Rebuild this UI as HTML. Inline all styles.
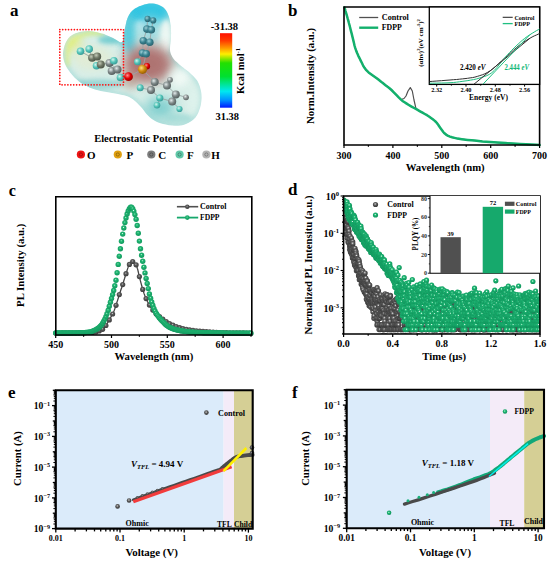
<!DOCTYPE html><html><head><meta charset="utf-8"><style>html,body{margin:0;padding:0;background:#fff;width:550px;height:564px;overflow:hidden}svg{display:block}text{font-family:"Liberation Serif",serif}</style></head><body><svg width="550" height="564" viewBox="0 0 550 564" font-family="Liberation Serif"><defs>
<radialGradient id="gC" cx="0.38" cy="0.35" r="0.65"><stop offset="0" stop-color="#e4ecec"/><stop offset="0.55" stop-color="#7e8888"/><stop offset="1" stop-color="#566060"/></radialGradient>
<radialGradient id="gCt" cx="0.38" cy="0.35" r="0.65"><stop offset="0" stop-color="#9ccfd6"/><stop offset="0.55" stop-color="#3a8492"/><stop offset="1" stop-color="#2a6470"/></radialGradient>
<radialGradient id="gCo" cx="0.38" cy="0.35" r="0.65"><stop offset="0" stop-color="#c4cbb8"/><stop offset="0.55" stop-color="#6f7866"/><stop offset="1" stop-color="#4e5648"/></radialGradient>
<radialGradient id="gF" cx="0.38" cy="0.35" r="0.65"><stop offset="0" stop-color="#d4f6ee"/><stop offset="0.55" stop-color="#52c4b8"/><stop offset="1" stop-color="#3a9c98"/></radialGradient>
<radialGradient id="gH" cx="0.38" cy="0.35" r="0.65"><stop offset="0" stop-color="#e4f0f0"/><stop offset="0.55" stop-color="#8fb0b0"/><stop offset="1" stop-color="#6a8a8a"/></radialGradient>
<radialGradient id="gO" cx="0.38" cy="0.35" r="0.65"><stop offset="0" stop-color="#ff9090"/><stop offset="0.55" stop-color="#e00000"/><stop offset="1" stop-color="#a00000"/></radialGradient>
<radialGradient id="gP" cx="0.38" cy="0.35" r="0.65"><stop offset="0" stop-color="#ffe080"/><stop offset="0.55" stop-color="#d08a10"/><stop offset="1" stop-color="#9a6000"/></radialGradient>
<radialGradient id="gHg" cx="0.38" cy="0.35" r="0.65"><stop offset="0" stop-color="#e8eeee"/><stop offset="0.55" stop-color="#8a9090"/><stop offset="1" stop-color="#606868"/></radialGradient>
<radialGradient id="dG" cx="0.45" cy="0.42" r="0.6"><stop offset="0" stop-color="#ffffff"/><stop offset="0.16" stop-color="#80e0b0"/><stop offset="0.36" stop-color="#1cb472"/><stop offset="1" stop-color="#0e9058"/></radialGradient>
<radialGradient id="dK" cx="0.45" cy="0.4" r="0.62"><stop offset="0" stop-color="#f4f4f4"/><stop offset="0.18" stop-color="#9a9a9a"/><stop offset="0.45" stop-color="#595959"/><stop offset="1" stop-color="#333333"/></radialGradient>
<radialGradient id="dG2" cx="0.45" cy="0.4" r="0.6"><stop offset="0" stop-color="#e4fff0"/><stop offset="0.14" stop-color="#50cc92"/><stop offset="0.35" stop-color="#1db26f"/><stop offset="1" stop-color="#13985e"/></radialGradient>
<radialGradient id="dK2" cx="0.45" cy="0.4" r="0.6"><stop offset="0" stop-color="#e0e0e0"/><stop offset="0.14" stop-color="#8a8a8a"/><stop offset="0.35" stop-color="#5a5a5a"/><stop offset="1" stop-color="#3c3c3c"/></radialGradient>
<linearGradient id="cbar" x1="0" y1="0" x2="0" y2="1"><stop offset="0" stop-color="#ff1000"/><stop offset="0.1" stop-color="#ff3a00"/><stop offset="0.2" stop-color="#ff9a00"/><stop offset="0.28" stop-color="#ffee00"/><stop offset="0.4" stop-color="#22e000"/><stop offset="0.58" stop-color="#00e030"/><stop offset="0.78" stop-color="#00e8f0"/><stop offset="0.9" stop-color="#0090ff"/><stop offset="1" stop-color="#0018ff"/></linearGradient>
<filter id="bl4" x="-50%" y="-50%" width="200%" height="200%"><feGaussianBlur stdDeviation="4"/></filter>
<filter id="bl6" x="-50%" y="-50%" width="200%" height="200%"><feGaussianBlur stdDeviation="6"/></filter>
<filter id="bl2" x="-50%" y="-50%" width="200%" height="200%"><feGaussianBlur stdDeviation="2"/></filter>
<filter id="bl1" x="-50%" y="-50%" width="200%" height="200%"><feGaussianBlur stdDeviation="0.7"/></filter>
<symbol id="sg" overflow="visible"><circle r="2.6" fill="url(#dG)"/></symbol>
<symbol id="sk" overflow="visible"><circle r="2.6" fill="url(#dK)"/></symbol>
<symbol id="sg2" overflow="visible"><circle r="2.7" fill="url(#dG2)"/></symbol>
<symbol id="sg3" overflow="visible"><circle r="2.25" fill="url(#dG)"/></symbol>
<symbol id="sk3" overflow="visible"><circle r="2.3" fill="url(#dK)"/></symbol>
<symbol id="sk2" overflow="visible"><circle r="2.6" fill="url(#dK2)"/></symbol>
<clipPath id="blobclip"><path d="M149 3.6 L151.1 3.5 L153 3.6 L154.9 3.8 L156.7 4.3 L158.4 4.8 L160 5.5 L161.4 6.3 L162.8 7.1 L164 8.1 L165.1 9.3 L166.1 10.5 L167 12 L167.8 13.7 L168.5 15.5 L169.2 17.5 L169.7 19.6 L170.1 21.8 L170.5 24 L170.8 26.2 L170.9 28.6 L171 31 L171.1 33.4 L171 35.8 L171 38 L170.9 40.2 L170.6 42.3 L170.3 44.4 L170.1 46.4 L170 48.3 L170 50 L170.2 51.6 L170.6 53 L171 54.3 L171.6 55.6 L172.2 56.8 L173 58 L173.9 59.2 L174.9 60.4 L176.1 61.5 L177.3 62.6 L178.6 63.8 L180 65 L181.5 66.3 L183.2 67.6 L184.9 68.9 L186.7 70.2 L188.4 71.6 L190 73 L191.5 74.4 L193 75.8 L194.4 77.2 L195.7 78.7 L197 80.3 L198 82 L198.9 83.9 L199.7 86 L200.3 88.2 L200.9 90.5 L201.3 92.8 L201.5 95 L201.6 97.2 L201.5 99.4 L201.3 101.6 L201 103.8 L200.6 105.9 L200 108 L199.3 110 L198.6 112 L197.7 113.9 L196.7 115.7 L195.5 117.5 L194 119 L192.3 120.4 L190.4 121.8 L188.2 123 L186 124.1 L183.5 124.9 L181 125.5 L178.2 125.8 L175.2 125.8 L172 125.6 L168.8 125.2 L165.8 124.6 L163 124 L160.5 123.3 L158.2 122.4 L156 121.4 L153.9 120.2 L151.9 118.9 L150 117.5 L148.2 115.8 L146.5 113.9 L144.9 111.9 L143.3 109.8 L141.7 107.8 L140 106 L138.3 104.3 L136.6 102.6 L134.9 101 L133.1 99.5 L131.2 98.2 L129 97 L126.5 96 L123.8 95.3 L120.9 94.7 L117.9 94.1 L114.9 93.6 L112 93 L109.2 92.4 L106.3 92 L103.4 91.5 L100.6 91 L97.8 90.3 L95 89.5 L92.2 88.5 L89.4 87.4 L86.7 86.1 L84 84.7 L81.4 83.2 L79 81.5 L76.7 79.6 L74.4 77.4 L72.2 75.1 L70.3 72.7 L68.5 70.3 L67 68 L65.8 65.8 L64.8 63.6 L64.1 61.5 L63.5 59.3 L63.2 57.2 L63 55 L63 52.8 L63.3 50.5 L63.8 48.2 L64.4 45.9 L65.2 43.8 L66 42 L66.9 40.4 L67.8 38.9 L68.8 37.7 L70 36.5 L71.4 35.5 L73 34.5 L74.9 33.6 L77.1 32.8 L79.5 32.1 L82 31.6 L84.5 31.2 L87 31 L89.5 31 L92.1 31.3 L94.7 31.8 L97.3 32.3 L99.7 32.9 L102 33.5 L104.1 34.1 L106 34.9 L107.9 35.7 L109.6 36.5 L111.3 37.3 L113 38 L114.7 38.9 L116.4 40 L118 41 L119.6 41.9 L120.9 42.3 L122 42 L122.8 40.9 L123.3 39.2 L123.6 37.1 L123.8 34.7 L124.1 32.2 L124.5 30 L125 27.8 L125.5 25.6 L126 23.3 L126.5 21 L127.2 18.9 L128 17 L128.9 15.3 L129.8 13.7 L130.8 12.2 L132 10.9 L133.4 9.7 L135 8.5 L137 7.4 L139.3 6.3 L141.8 5.4 L144.3 4.6 L146.8 4 Z"/></clipPath>
</defs>
<rect width="550" height="564" fill="#fff"/>
<text x="10" y="16" font-size="17" font-weight="bold" font-style="normal" text-anchor="start" fill="#000" >a</text>
<g clip-path="url(#blobclip)">
<path d="M149 3.6 L151.1 3.5 L153 3.6 L154.9 3.8 L156.7 4.3 L158.4 4.8 L160 5.5 L161.4 6.3 L162.8 7.1 L164 8.1 L165.1 9.3 L166.1 10.5 L167 12 L167.8 13.7 L168.5 15.5 L169.2 17.5 L169.7 19.6 L170.1 21.8 L170.5 24 L170.8 26.2 L170.9 28.6 L171 31 L171.1 33.4 L171 35.8 L171 38 L170.9 40.2 L170.6 42.3 L170.3 44.4 L170.1 46.4 L170 48.3 L170 50 L170.2 51.6 L170.6 53 L171 54.3 L171.6 55.6 L172.2 56.8 L173 58 L173.9 59.2 L174.9 60.4 L176.1 61.5 L177.3 62.6 L178.6 63.8 L180 65 L181.5 66.3 L183.2 67.6 L184.9 68.9 L186.7 70.2 L188.4 71.6 L190 73 L191.5 74.4 L193 75.8 L194.4 77.2 L195.7 78.7 L197 80.3 L198 82 L198.9 83.9 L199.7 86 L200.3 88.2 L200.9 90.5 L201.3 92.8 L201.5 95 L201.6 97.2 L201.5 99.4 L201.3 101.6 L201 103.8 L200.6 105.9 L200 108 L199.3 110 L198.6 112 L197.7 113.9 L196.7 115.7 L195.5 117.5 L194 119 L192.3 120.4 L190.4 121.8 L188.2 123 L186 124.1 L183.5 124.9 L181 125.5 L178.2 125.8 L175.2 125.8 L172 125.6 L168.8 125.2 L165.8 124.6 L163 124 L160.5 123.3 L158.2 122.4 L156 121.4 L153.9 120.2 L151.9 118.9 L150 117.5 L148.2 115.8 L146.5 113.9 L144.9 111.9 L143.3 109.8 L141.7 107.8 L140 106 L138.3 104.3 L136.6 102.6 L134.9 101 L133.1 99.5 L131.2 98.2 L129 97 L126.5 96 L123.8 95.3 L120.9 94.7 L117.9 94.1 L114.9 93.6 L112 93 L109.2 92.4 L106.3 92 L103.4 91.5 L100.6 91 L97.8 90.3 L95 89.5 L92.2 88.5 L89.4 87.4 L86.7 86.1 L84 84.7 L81.4 83.2 L79 81.5 L76.7 79.6 L74.4 77.4 L72.2 75.1 L70.3 72.7 L68.5 70.3 L67 68 L65.8 65.8 L64.8 63.6 L64.1 61.5 L63.5 59.3 L63.2 57.2 L63 55 L63 52.8 L63.3 50.5 L63.8 48.2 L64.4 45.9 L65.2 43.8 L66 42 L66.9 40.4 L67.8 38.9 L68.8 37.7 L70 36.5 L71.4 35.5 L73 34.5 L74.9 33.6 L77.1 32.8 L79.5 32.1 L82 31.6 L84.5 31.2 L87 31 L89.5 31 L92.1 31.3 L94.7 31.8 L97.3 32.3 L99.7 32.9 L102 33.5 L104.1 34.1 L106 34.9 L107.9 35.7 L109.6 36.5 L111.3 37.3 L113 38 L114.7 38.9 L116.4 40 L118 41 L119.6 41.9 L120.9 42.3 L122 42 L122.8 40.9 L123.3 39.2 L123.6 37.1 L123.8 34.7 L124.1 32.2 L124.5 30 L125 27.8 L125.5 25.6 L126 23.3 L126.5 21 L127.2 18.9 L128 17 L128.9 15.3 L129.8 13.7 L130.8 12.2 L132 10.9 L133.4 9.7 L135 8.5 L137 7.4 L139.3 6.3 L141.8 5.4 L144.3 4.6 L146.8 4 Z" fill="#d8eee8"/>
<path d="M149 3.6 L151.1 3.5 L153 3.6 L154.9 3.8 L156.7 4.3 L158.4 4.8 L160 5.5 L161.4 6.3 L162.8 7.1 L164 8.1 L165.1 9.3 L166.1 10.5 L167 12 L167.8 13.7 L168.5 15.5 L169.2 17.5 L169.7 19.6 L170.1 21.8 L170.5 24 L170.8 26.2 L170.9 28.6 L171 31 L171.1 33.4 L171 35.8 L171 38 L170.9 40.2 L170.6 42.3 L170.3 44.4 L170.1 46.4 L170 48.3 L170 50 L170.2 51.6 L170.6 53 L171 54.3 L171.6 55.6 L172.2 56.8 L173 58 L173.9 59.2 L174.9 60.4 L176.1 61.5 L177.3 62.6 L178.6 63.8 L180 65 L181.5 66.3 L183.2 67.6 L184.9 68.9 L186.7 70.2 L188.4 71.6 L190 73 L191.5 74.4 L193 75.8 L194.4 77.2 L195.7 78.7 L197 80.3 L198 82 L198.9 83.9 L199.7 86 L200.3 88.2 L200.9 90.5 L201.3 92.8 L201.5 95 L201.6 97.2 L201.5 99.4 L201.3 101.6 L201 103.8 L200.6 105.9 L200 108 L199.3 110 L198.6 112 L197.7 113.9 L196.7 115.7 L195.5 117.5 L194 119 L192.3 120.4 L190.4 121.8 L188.2 123 L186 124.1 L183.5 124.9 L181 125.5 L178.2 125.8 L175.2 125.8 L172 125.6 L168.8 125.2 L165.8 124.6 L163 124 L160.5 123.3 L158.2 122.4 L156 121.4 L153.9 120.2 L151.9 118.9 L150 117.5 L148.2 115.8 L146.5 113.9 L144.9 111.9 L143.3 109.8 L141.7 107.8 L140 106 L138.3 104.3 L136.6 102.6 L134.9 101 L133.1 99.5 L131.2 98.2 L129 97 L126.5 96 L123.8 95.3 L120.9 94.7 L117.9 94.1 L114.9 93.6 L112 93 L109.2 92.4 L106.3 92 L103.4 91.5 L100.6 91 L97.8 90.3 L95 89.5 L92.2 88.5 L89.4 87.4 L86.7 86.1 L84 84.7 L81.4 83.2 L79 81.5 L76.7 79.6 L74.4 77.4 L72.2 75.1 L70.3 72.7 L68.5 70.3 L67 68 L65.8 65.8 L64.8 63.6 L64.1 61.5 L63.5 59.3 L63.2 57.2 L63 55 L63 52.8 L63.3 50.5 L63.8 48.2 L64.4 45.9 L65.2 43.8 L66 42 L66.9 40.4 L67.8 38.9 L68.8 37.7 L70 36.5 L71.4 35.5 L73 34.5 L74.9 33.6 L77.1 32.8 L79.5 32.1 L82 31.6 L84.5 31.2 L87 31 L89.5 31 L92.1 31.3 L94.7 31.8 L97.3 32.3 L99.7 32.9 L102 33.5 L104.1 34.1 L106 34.9 L107.9 35.7 L109.6 36.5 L111.3 37.3 L113 38 L114.7 38.9 L116.4 40 L118 41 L119.6 41.9 L120.9 42.3 L122 42 L122.8 40.9 L123.3 39.2 L123.6 37.1 L123.8 34.7 L124.1 32.2 L124.5 30 L125 27.8 L125.5 25.6 L126 23.3 L126.5 21 L127.2 18.9 L128 17 L128.9 15.3 L129.8 13.7 L130.8 12.2 L132 10.9 L133.4 9.7 L135 8.5 L137 7.4 L139.3 6.3 L141.8 5.4 L144.3 4.6 L146.8 4 Z" fill="none" stroke="#9cd8d6" stroke-width="6" filter="url(#bl2)" opacity="0.55"/>
<ellipse cx="147" cy="11" rx="24" ry="14" fill="#34c6e2" filter="url(#bl4)"/>
<ellipse cx="140" cy="26" rx="6" ry="5" fill="#e8f8fa" filter="url(#bl2)" opacity="0.6"/>
<ellipse cx="129" cy="34" rx="7" ry="20" fill="#3cc4da" filter="url(#bl4)" opacity="0.9"/>
<ellipse cx="150" cy="30" rx="10" ry="14" fill="#8ed6e0" filter="url(#bl4)" opacity="0.8"/>
<ellipse cx="166" cy="36" rx="5" ry="16" fill="#eef8f4" filter="url(#bl2)" opacity="0.9"/>
<ellipse cx="74" cy="44" rx="9" ry="9" fill="#e4ec90" filter="url(#bl4)" opacity="0.8"/>
<path d="M68 66 Q65 43 80 36 Q92 31 104 34" fill="none" stroke="#e0f070" stroke-width="4" filter="url(#bl2)" opacity="0.75"/>
<ellipse cx="92" cy="58" rx="20" ry="12" fill="#e2ecd4" filter="url(#bl4)" opacity="0.9"/>
<ellipse cx="98" cy="84" rx="26" ry="5" fill="#86cccc" filter="url(#bl2)" opacity="0.7"/>
<ellipse cx="110" cy="40" rx="12" ry="4" fill="#64c8cc" filter="url(#bl2)" opacity="0.8"/>
<ellipse cx="148" cy="64" rx="24" ry="19" fill="#a04a48" filter="url(#bl6)" opacity="0.74"/>
<ellipse cx="130" cy="80" rx="8" ry="9" fill="#b08070" filter="url(#bl4)" opacity="0.5"/>
<ellipse cx="160" cy="108" rx="15" ry="11" fill="#78cccc" filter="url(#bl6)" opacity="0.9"/>
<ellipse cx="180" cy="78" rx="10" ry="9" fill="#f2faf6" filter="url(#bl4)" opacity="0.95"/>
<ellipse cx="194" cy="100" rx="6" ry="16" fill="#e0f4ee" filter="url(#bl4)" opacity="0.8"/>
<ellipse cx="178" cy="118" rx="14" ry="5" fill="#9ad8d4" filter="url(#bl2)" opacity="0.7"/>
</g>
<line x1="142.5" y1="69.3" x2="128.5" y2="76.7" stroke="#9aa4a4" stroke-width="0.9" />
<line x1="142.5" y1="69.3" x2="154.7" y2="82" stroke="#9aa4a4" stroke-width="0.9" />
<line x1="142.5" y1="69.3" x2="146.9" y2="66.2" stroke="#9aa4a4" stroke-width="0.9" />
<line x1="142.5" y1="69.3" x2="146.2" y2="53.8" stroke="#9aa4a4" stroke-width="0.9" />
<line x1="154.7" y1="82" x2="151" y2="90" stroke="#9aa4a4" stroke-width="0.9" />
<line x1="154.7" y1="82" x2="167" y2="85.6" stroke="#9aa4a4" stroke-width="0.9" />
<line x1="151" y1="90" x2="140.2" y2="87.8" stroke="#9aa4a4" stroke-width="0.9" />
<line x1="167" y1="85.6" x2="170" y2="79.8" stroke="#9aa4a4" stroke-width="0.9" />
<line x1="167" y1="85.6" x2="175.8" y2="94.4" stroke="#9aa4a4" stroke-width="0.9" />
<line x1="175.8" y1="94.4" x2="186" y2="97.3" stroke="#9aa4a4" stroke-width="0.9" />
<line x1="175.8" y1="94.4" x2="172.2" y2="101.6" stroke="#9aa4a4" stroke-width="0.9" />
<line x1="172.2" y1="101.6" x2="179.5" y2="109" stroke="#9aa4a4" stroke-width="0.9" />
<line x1="172.2" y1="101.6" x2="159.8" y2="98" stroke="#9aa4a4" stroke-width="0.9" />
<line x1="159.8" y1="98" x2="157" y2="105.3" stroke="#9aa4a4" stroke-width="0.9" />
<line x1="159.8" y1="98" x2="151" y2="90" stroke="#9aa4a4" stroke-width="0.9" />
<line x1="128.5" y1="76.7" x2="120.5" y2="77.5" stroke="#9aa4a4" stroke-width="0.9" />
<line x1="120.5" y1="77.5" x2="117.5" y2="69.5" stroke="#9aa4a4" stroke-width="0.9" />
<line x1="117.5" y1="69.5" x2="111.7" y2="70.9" stroke="#9aa4a4" stroke-width="0.9" />
<line x1="117.5" y1="69.5" x2="109.5" y2="62.9" stroke="#9aa4a4" stroke-width="0.9" />
<line x1="109.5" y1="62.9" x2="113.9" y2="60.7" stroke="#9aa4a4" stroke-width="0.9" />
<line x1="109.5" y1="62.9" x2="100.8" y2="64.4" stroke="#9aa4a4" stroke-width="0.9" />
<line x1="100.8" y1="64.4" x2="96.5" y2="65.8" stroke="#9aa4a4" stroke-width="0.9" />
<line x1="100.8" y1="64.4" x2="97.2" y2="56.4" stroke="#9aa4a4" stroke-width="0.9" />
<line x1="97.2" y1="56.4" x2="92.1" y2="57.8" stroke="#9aa4a4" stroke-width="0.9" />
<line x1="92.1" y1="57.8" x2="80.5" y2="51.3" stroke="#9aa4a4" stroke-width="0.9" />
<line x1="92.1" y1="57.8" x2="89.2" y2="49.1" stroke="#9aa4a4" stroke-width="0.9" />
<line x1="146.2" y1="53.8" x2="149.8" y2="42.2" stroke="#9aa4a4" stroke-width="0.9" />
<line x1="142.5" y1="53.1" x2="143.3" y2="40.7" stroke="#9aa4a4" stroke-width="0.9" />
<line x1="143.3" y1="40.7" x2="146.9" y2="29.1" stroke="#9aa4a4" stroke-width="0.9" />
<line x1="149.8" y1="42.2" x2="151.3" y2="29.8" stroke="#9aa4a4" stroke-width="0.9" />
<line x1="146.9" y1="29.1" x2="147.6" y2="18.9" stroke="#9aa4a4" stroke-width="0.9" />
<line x1="151.3" y1="29.8" x2="153.2" y2="20.4" stroke="#9aa4a4" stroke-width="0.9" />
<line x1="142.5" y1="53.1" x2="137.5" y2="61.8" stroke="#9aa4a4" stroke-width="0.9" />
<circle cx="80.5" cy="51.3" r="3.8" fill="url(#gF)"/>
<circle cx="89.2" cy="49.1" r="3.8" fill="url(#gF)"/>
<circle cx="92.1" cy="57.8" r="4" fill="url(#gCo)"/>
<circle cx="97.2" cy="56.4" r="4" fill="url(#gCo)"/>
<circle cx="96.5" cy="65.8" r="3.8" fill="url(#gF)"/>
<circle cx="100.8" cy="64.4" r="4" fill="url(#gCo)"/>
<circle cx="109.5" cy="62.9" r="4" fill="url(#gC)"/>
<circle cx="113.9" cy="60.7" r="3.8" fill="url(#gF)"/>
<circle cx="111.7" cy="70.9" r="4" fill="url(#gC)"/>
<circle cx="117.5" cy="69.5" r="4" fill="url(#gC)"/>
<circle cx="120.5" cy="77.5" r="3.8" fill="url(#gF)"/>
<circle cx="128.5" cy="76.7" r="4.4" fill="url(#gO)"/>
<circle cx="147.6" cy="18.9" r="3.1" fill="url(#gCt)"/>
<circle cx="153.2" cy="20.4" r="3.1" fill="url(#gCt)"/>
<circle cx="146.9" cy="29.1" r="3.8" fill="url(#gCt)"/>
<circle cx="151.3" cy="29.8" r="3.8" fill="url(#gCt)"/>
<circle cx="143.3" cy="40.7" r="3.8" fill="url(#gCt)"/>
<circle cx="149.8" cy="42.2" r="3.8" fill="url(#gCt)"/>
<circle cx="142.5" cy="53.1" r="3.8" fill="url(#gCt)"/>
<circle cx="146.2" cy="53.8" r="3.8" fill="url(#gCt)"/>
<circle cx="137.5" cy="61.8" r="3.5" fill="url(#gF)"/>
<circle cx="146.9" cy="66.2" r="3.2" fill="url(#gO)"/>
<circle cx="142.5" cy="69.3" r="4.6" fill="url(#gP)"/>
<circle cx="154.7" cy="82" r="4" fill="url(#gC)"/>
<circle cx="140.2" cy="87.8" r="3.5" fill="url(#gF)"/>
<circle cx="151" cy="90" r="4" fill="url(#gC)"/>
<circle cx="170" cy="79.8" r="2.9" fill="url(#gHg)"/>
<circle cx="167" cy="85.6" r="4" fill="url(#gC)"/>
<circle cx="175.8" cy="94.4" r="4" fill="url(#gC)"/>
<circle cx="186" cy="97.3" r="2.9" fill="url(#gHg)"/>
<circle cx="159.8" cy="98" r="3.6" fill="url(#gF)"/>
<circle cx="157" cy="105.3" r="3.3" fill="url(#gF)"/>
<circle cx="172.2" cy="101.6" r="4" fill="url(#gC)"/>
<circle cx="179.5" cy="109" r="3.1" fill="url(#gF)"/>
<rect x="59.8" y="29.5" width="63.7" height="55.3" fill="none" stroke="#ff1010" stroke-width="1.75" stroke-linecap="round" stroke-dasharray="0.01 2.9"/>
<rect x="220" y="33.2" width="12.2" height="74.5" fill="url(#cbar)"/>
<text x="224.5" y="29.7" font-size="10.5" font-weight="bold" font-style="normal" text-anchor="middle" fill="#000" textLength="27.3" lengthAdjust="spacingAndGlyphs" >-31.38</text>
<text x="227.3" y="120.4" font-size="10.5" font-weight="bold" font-style="normal" text-anchor="middle" fill="#000" textLength="23.4" lengthAdjust="spacingAndGlyphs" >31.38</text>
<text x="0" y="0" font-size="10.5" font-weight="bold" text-anchor="middle" transform="translate(243.5 71) rotate(-90)">Kcal mol<tspan font-size="6.5" dy="-3.5">-1</tspan></text>
<text x="143.5" y="142.3" font-size="11" font-weight="bold" font-style="normal" text-anchor="middle" fill="#000" textLength="98.5" lengthAdjust="spacingAndGlyphs" >Electrostatic Potential</text>
<circle cx="80.9" cy="154.5" r="4.1" fill="#ee1414"/><circle cx="80.9" cy="154.5" r="1.6" fill="none" stroke="#000" stroke-opacity="0.35" stroke-width="0.8"/>
<text x="86.9" y="158.6" font-size="11" font-weight="bold" font-style="normal" text-anchor="start" fill="#000" >O</text>
<circle cx="117.8" cy="154.5" r="4.1" fill="#e0a010"/><circle cx="117.8" cy="154.5" r="1.6" fill="none" stroke="#000" stroke-opacity="0.35" stroke-width="0.8"/>
<text x="126.4" y="158.6" font-size="11" font-weight="bold" font-style="normal" text-anchor="start" fill="#000" >P</text>
<circle cx="151.3" cy="154.5" r="4.1" fill="#7c7c7c"/><circle cx="151.3" cy="154.5" r="1.6" fill="none" stroke="#000" stroke-opacity="0.35" stroke-width="0.8"/>
<text x="158.2" y="158.6" font-size="11" font-weight="bold" font-style="normal" text-anchor="start" fill="#000" >C</text>
<circle cx="179.6" cy="154.5" r="4.1" fill="#60c8a8"/><circle cx="179.6" cy="154.5" r="1.6" fill="none" stroke="#000" stroke-opacity="0.35" stroke-width="0.8"/>
<text x="186.9" y="158.6" font-size="11" font-weight="bold" font-style="normal" text-anchor="start" fill="#000" >F</text>
<circle cx="206.4" cy="154.5" r="4.1" fill="#b4b4b4"/><circle cx="206.4" cy="154.5" r="1.6" fill="none" stroke="#000" stroke-opacity="0.35" stroke-width="0.8"/>
<text x="211.3" y="158.6" font-size="11" font-weight="bold" font-style="normal" text-anchor="start" fill="#000" >H</text>
<text x="288" y="16.4" font-size="17" font-weight="bold" font-style="normal" text-anchor="start" fill="#000" >b</text>
<polyline points="344.4,7.4 344.9,8.9 345.5,11.1 346.3,13.6 347,16 347.6,18.3 348.3,20.6 348.9,23 349.6,25.5 350.3,28.2 351,31.2 351.8,34.1 352.5,37 353.2,39.9 353.9,42.8 354.5,45.5 355.2,47.9 355.9,49.9 356.5,51.5 357.1,53 357.8,54.5 358.4,56 359.1,57.4 359.8,58.8 360.7,60.6 361.8,62.8 363,65.3 364.5,67.8 366.3,70.2 368.6,72.4 371.4,74.4 374.2,76.4 376.7,78.2 378.7,79.8 380.5,81.2 382.2,82.6 384,84 385.8,85.4 387.6,86.8 389.5,88.2 391.5,90 393.8,92.3 396.3,94.9 398.7,97.4 401,99.6 404,98.5 406,96 408,91 410.3,87.6 412.3,91 414,100 415.8,107.8 417.2,109.7 420,111.3 422.5,112.7 424.8,114 427,115.2 429,116.5 431,117.9 432.8,119.2 434.5,120.6 436,122 437.2,123.4 438.2,124.7 439,126.1 440,127.5 441.1,129 442.2,130.5 443.3,132 444.5,133.3 445.7,134.3 446.8,135.2 448.2,135.9 450,136.6 452.1,137.3 454.5,137.9 457.5,138.6 461.8,139.2 467.7,139.9 474.8,140.6 482.4,141.4 490,142 497.6,142.6 505.5,143.1 513.2,143.6 520,144 526.1,144.3 531.7,144.6 536.3,144.8 539.6,145" fill="none" stroke="#505050" stroke-width="1.2" stroke-linejoin="round" stroke-linecap="round" />
<polyline points="344.4,7.4 344.9,8.9 345.5,11.1 346.3,13.6 347,16 347.6,18.3 348.3,20.6 348.9,23 349.6,25.5 350.3,28.2 351,31.2 351.8,34.1 352.5,37 353.2,39.9 353.9,42.8 354.5,45.5 355.2,47.9 355.9,49.9 356.5,51.5 357.1,53 357.8,54.5 358.4,56 359.1,57.4 359.8,58.8 360.7,60.6 361.8,62.8 363,65.3 364.5,67.8 366.3,70.2 368.6,72.4 371.4,74.4 374.2,76.4 376.7,78.2 378.7,79.8 380.5,81.2 382.2,82.6 384,84 385.8,85.4 387.6,86.8 389.5,88.2 391.5,90 393.8,92.3 396.3,94.9 398.7,97.4 401,99.6 402.9,101.2 404.6,102.3 406.3,103.4 408.4,104.7 411.1,106.3 414.1,108 417.2,109.7 420,111.3 422.5,112.7 424.8,114 427,115.2 429,116.5 431,117.9 432.8,119.2 434.5,120.6 436,122 437.2,123.4 438.2,124.7 439,126.1 440,127.5 441.1,129 442.2,130.5 443.3,132 444.5,133.3 445.7,134.3 446.8,135.2 448.2,135.9 450,136.6 452.1,137.3 454.5,137.9 457.5,138.6 461.8,139.2 467.7,139.9 474.8,140.6 482.4,141.4 490,142 497.6,142.6 505.5,143.1 513.2,143.6 520,144 526.1,144.3 531.7,144.6 536.3,144.8 539.6,145" fill="none" stroke="#13b06c" stroke-width="2.5" stroke-linejoin="round" stroke-linecap="round" />
<path d="M344 7 H539.6 V145 H344 Z" fill="none" stroke="#000" stroke-width="1.6"/>
<line x1="344" y1="145" x2="344" y2="148" stroke="#000" stroke-width="1.2" />
<text x="344" y="158.5" font-size="10" font-weight="bold" font-style="normal" text-anchor="middle" fill="#000" >300</text>
<line x1="368.4" y1="145" x2="368.4" y2="146.8" stroke="#000" stroke-width="1.2" />
<line x1="392.9" y1="145" x2="392.9" y2="148" stroke="#000" stroke-width="1.2" />
<text x="392.9" y="158.5" font-size="10" font-weight="bold" font-style="normal" text-anchor="middle" fill="#000" >400</text>
<line x1="417.4" y1="145" x2="417.4" y2="146.8" stroke="#000" stroke-width="1.2" />
<line x1="441.8" y1="145" x2="441.8" y2="148" stroke="#000" stroke-width="1.2" />
<text x="441.8" y="158.5" font-size="10" font-weight="bold" font-style="normal" text-anchor="middle" fill="#000" >500</text>
<line x1="466.2" y1="145" x2="466.2" y2="146.8" stroke="#000" stroke-width="1.2" />
<line x1="490.7" y1="145" x2="490.7" y2="148" stroke="#000" stroke-width="1.2" />
<text x="490.7" y="158.5" font-size="10" font-weight="bold" font-style="normal" text-anchor="middle" fill="#000" >600</text>
<line x1="515.1" y1="145" x2="515.1" y2="146.8" stroke="#000" stroke-width="1.2" />
<line x1="539.6" y1="145" x2="539.6" y2="148" stroke="#000" stroke-width="1.2" />
<text x="539.6" y="158.5" font-size="10" font-weight="bold" font-style="normal" text-anchor="middle" fill="#000" >700</text>
<text x="445.2" y="171" font-size="10.7" font-weight="bold" font-style="normal" text-anchor="middle" fill="#000" textLength="79" lengthAdjust="spacingAndGlyphs" >Wavelength (nm)</text>
<text x="314" y="76" font-size="10.9" font-weight="bold" font-style="normal" text-anchor="middle" fill="#000" transform="rotate(-90 314 76)" textLength="96" lengthAdjust="spacingAndGlyphs" >Norm.Intensity (a.u.)</text>
<line x1="359.2" y1="17.5" x2="378.2" y2="17.5" stroke="#505050" stroke-width="1.3" />
<line x1="359.2" y1="27.7" x2="378.2" y2="27.7" stroke="#13b06c" stroke-width="2.4" />
<text x="381.8" y="20.2" font-size="8.3" font-weight="bold" font-style="normal" text-anchor="start" fill="#000" textLength="26.9" lengthAdjust="spacingAndGlyphs" >Control</text>
<text x="381.8" y="30.3" font-size="8.3" font-weight="bold" font-style="normal" text-anchor="start" fill="#000" textLength="20" lengthAdjust="spacingAndGlyphs" >FDPP</text>
<rect x="429.3" y="7" width="110.3" height="77.4" fill="#fff" stroke="#000" stroke-width="1.3"/>
<line x1="436.7" y1="84.4" x2="436.7" y2="86.6" stroke="#000" stroke-width="1" />
<text x="436.7" y="91.8" font-size="6" font-weight="bold" font-style="normal" text-anchor="middle" fill="#000" textLength="11" lengthAdjust="spacingAndGlyphs" >2.32</text>
<line x1="451.4" y1="84.4" x2="451.4" y2="85.6" stroke="#000" stroke-width="1" />
<line x1="466" y1="84.4" x2="466" y2="86.6" stroke="#000" stroke-width="1" />
<text x="466" y="91.8" font-size="6" font-weight="bold" font-style="normal" text-anchor="middle" fill="#000" textLength="11" lengthAdjust="spacingAndGlyphs" >2.40</text>
<line x1="480.7" y1="84.4" x2="480.7" y2="85.6" stroke="#000" stroke-width="1" />
<line x1="495.3" y1="84.4" x2="495.3" y2="86.6" stroke="#000" stroke-width="1" />
<text x="495.3" y="91.8" font-size="6" font-weight="bold" font-style="normal" text-anchor="middle" fill="#000" textLength="11" lengthAdjust="spacingAndGlyphs" >2.48</text>
<line x1="510" y1="84.4" x2="510" y2="85.6" stroke="#000" stroke-width="1" />
<line x1="524.6" y1="84.4" x2="524.6" y2="86.6" stroke="#000" stroke-width="1" />
<text x="524.6" y="91.8" font-size="6" font-weight="bold" font-style="normal" text-anchor="middle" fill="#000" textLength="11" lengthAdjust="spacingAndGlyphs" >2.56</text>
<text x="488.5" y="100" font-size="7.5" font-weight="bold" font-style="normal" text-anchor="middle" fill="#000" textLength="39" lengthAdjust="spacingAndGlyphs" >Energy (eV)</text>
<text x="0" y="0" font-size="7" font-weight="bold" text-anchor="middle" transform="translate(422.5 43) rotate(-90)">(αhv)<tspan font-size="4.5" dy="-2.5">2</tspan><tspan dy="2.5">(eV cm</tspan><tspan font-size="4.5" dy="-2.5">-1</tspan><tspan dy="2.5">)</tspan><tspan font-size="4.5" dy="-2.5">2</tspan></text>
<clipPath id="insb"><rect x="429.3" y="7" width="110.3" height="77.4"/></clipPath>
<g clip-path="url(#insb)">
<polyline points="430,81.5 432.8,81.3 436.8,81 441.4,80.7 446,80.3 450,80 453.4,79.7 456.5,79.5 459.4,79.2 462.3,78.9 465,78.6 467.6,78.3 470.1,77.9 472.5,77.6 474.9,77.1 477.3,76.4 479.8,75.6 482.3,74.8 484.8,73.8 487.3,72.5 490,70.9 492.8,68.8 495.7,66.3 498.6,63.6 501.6,60.9 504.5,58.2 507.5,55.6 510.5,52.9 513.5,50.2 516.3,47.7 519,45.5 521.4,43.7 523.7,42.1 525.9,40.7 528,39.4 530,38.2 532.1,37 534.3,35.9 536.4,35 538.1,34.2 539.4,33.6" fill="none" stroke="#303030" stroke-width="1.0" stroke-linejoin="round" stroke-linecap="round" />
<polyline points="430,83.2 432.8,83.2 436.8,83.1 441.4,83 446,82.9 450,82.7 453.3,82.5 456.4,82.2 459.3,81.8 462.1,81.4 465,81 467.9,80.6 470.7,80.1 473.5,79.6 476.3,79 479,78.2 481.6,77.4 484.2,76.6 486.7,75.7 489.3,74.4 491.8,72.7 494.4,70.3 497.1,67.3 499.7,64.1 502.2,60.9 504.5,58.2 506.4,56 508.1,54.1 509.7,52.4 511.3,50.7 513,49 514.9,47.1 516.9,45.2 518.9,43.4 520.8,41.6 522.7,40 524.4,38.6 526.1,37.3 527.7,36.2 529.4,35.1 531,34 532.8,32.9 534.8,31.7 536.6,30.6 538.3,29.7 539.4,29" fill="none" stroke="#1fbf80" stroke-width="1.0" stroke-linejoin="round" stroke-linecap="round" />
<line x1="473.6" y1="84.5" x2="530" y2="38.2" stroke="#303030" stroke-width="1.0" />
<line x1="482.7" y1="84.5" x2="530" y2="34.5" stroke="#1fbf80" stroke-width="1.0" />
</g>
<line x1="502.7" y1="17.3" x2="512.7" y2="17.3" stroke="#303030" stroke-width="1.1" />
<line x1="502.7" y1="23.6" x2="512.7" y2="23.6" stroke="#1fbf80" stroke-width="1.3" />
<text x="514.5" y="19.6" font-size="6" font-weight="bold" font-style="normal" text-anchor="start" fill="#000" textLength="20" lengthAdjust="spacingAndGlyphs" >Control</text>
<text x="514.5" y="25.9" font-size="6" font-weight="bold" font-style="normal" text-anchor="start" fill="#000" textLength="15.5" lengthAdjust="spacingAndGlyphs" >FDPP</text>
<text x="460" y="70" font-size="7.2" font-weight="bold" textLength="25.5" lengthAdjust="spacingAndGlyphs">2.420 <tspan font-style="italic">eV</tspan></text>
<text x="504.5" y="70" font-size="7.2" font-weight="bold" fill="#12b878" textLength="24.5" lengthAdjust="spacingAndGlyphs">2.444 <tspan font-style="italic">eV</tspan></text>
<text x="8.8" y="195.8" font-size="16" font-weight="bold" font-style="normal" text-anchor="start" fill="#000" >c</text>
<polyline points="56,333 60,333 65.7,332.9 72.4,332.8 79.3,332.8 85.4,332.6 90,332.5 93,332.3 95,332.1 96.3,331.9 97.2,331.6 98,331.3 99,331 100.1,330.6 101,330.2 101.8,329.8 102.6,329.3 103.3,328.7 104,328 104.7,327.2 105.3,326.4 106,325.4 106.6,324.4 107.3,323.3 108,322 108.9,320.6 109.8,319 110.8,317.2 111.8,315.5 112.8,313.7 113.6,312 114.3,310.3 114.9,308.6 115.5,306.9 116,305.2 116.5,303.6 117,302 117.5,300.6 117.9,299.2 118.3,298 118.6,296.7 119.1,295.4 119.5,294 120,292.5 120.5,291 121,289.5 121.6,287.9 122.1,286.2 122.7,284.5 123.3,282.6 123.9,280.5 124.6,278.4 125.2,276.3 125.8,274.3 126.4,272.5 126.9,270.9 127.4,269.4 127.9,267.9 128.3,266.6 128.8,265.5 129.3,264.5 129.8,263.6 130.4,262.9 131,262.2 131.5,261.8 132.1,261.5 132.7,261.5 133.3,261.7 134,262.1 134.6,262.7 135.2,263.5 135.8,264.4 136.4,265.5 136.9,266.7 137.3,268.2 137.8,269.8 138.2,271.5 138.6,273.3 139,275 139.4,276.7 139.9,278.5 140.3,280.4 140.8,282.3 141.3,284.1 141.8,286 142.3,287.8 142.8,289.7 143.4,291.5 144,293.4 144.7,295.3 145.5,297.3 146.5,299.4 147.5,301.6 148.7,303.8 150,306 151.3,308.1 152.7,310 154.2,311.7 155.8,313.4 157.5,314.9 159.2,316.3 160.9,317.7 162.7,319 164.4,320.3 166.1,321.4 167.7,322.5 169.5,323.6 171.5,324.6 173.6,325.5 175.9,326.4 178.2,327.2 180.6,328 183.3,328.7 186.4,329.4 190,330 194.2,330.6 198.9,331.1 204,331.5 209.4,331.9 214.7,332.2 220,332.5 225.6,332.7 231.6,332.8 237.8,332.9 243.5,332.9 248.3,333 251.8,333" fill="none" stroke="#444444" stroke-width="1.3" stroke-linejoin="round" stroke-linecap="round" />
<use href="#sk2" x="55.7" y="333"/>
<use href="#sk2" x="59" y="333"/>
<use href="#sk2" x="62.4" y="332.9"/>
<use href="#sk2" x="65.7" y="332.9"/>
<use href="#sk2" x="69.1" y="332.9"/>
<use href="#sk2" x="72.4" y="332.8"/>
<use href="#sk2" x="75.8" y="332.8"/>
<use href="#sk2" x="79.1" y="332.8"/>
<use href="#sk2" x="82.5" y="332.7"/>
<use href="#sk2" x="85.8" y="332.6"/>
<use href="#sk2" x="89.2" y="332.5"/>
<use href="#sk2" x="92.5" y="332.4"/>
<use href="#sk2" x="95.9" y="332"/>
<use href="#sk2" x="99.2" y="330.9"/>
<use href="#sk2" x="102.6" y="329.3"/>
<use href="#sk2" x="105.9" y="325.5"/>
<use href="#sk2" x="109.3" y="319.9"/>
<use href="#sk2" x="112.6" y="314"/>
<use href="#sk2" x="116" y="305.3"/>
<use href="#sk2" x="119.3" y="294.6"/>
<use href="#sk2" x="122.7" y="284.6"/>
<use href="#sk2" x="126" y="273.7"/>
<use href="#sk2" x="129.4" y="264.4"/>
<use href="#sk2" x="132.7" y="261.5"/>
<use href="#sk2" x="136.1" y="264.8"/>
<use href="#sk2" x="139.4" y="276.6"/>
<use href="#sk2" x="142.7" y="289.4"/>
<use href="#sk2" x="146.1" y="298.6"/>
<use href="#sk2" x="149.4" y="305.1"/>
<use href="#sk2" x="152.8" y="310.1"/>
<use href="#sk2" x="156.1" y="313.7"/>
<use href="#sk2" x="159.5" y="316.5"/>
<use href="#sk2" x="162.8" y="319.1"/>
<use href="#sk2" x="166.2" y="321.5"/>
<use href="#sk2" x="169.5" y="323.6"/>
<use href="#sk2" x="172.9" y="325.2"/>
<use href="#sk2" x="176.2" y="326.5"/>
<use href="#sk2" x="179.6" y="327.7"/>
<use href="#sk2" x="182.9" y="328.6"/>
<use href="#sk2" x="186.3" y="329.4"/>
<use href="#sk2" x="189.6" y="329.9"/>
<use href="#sk2" x="193" y="330.4"/>
<use href="#sk2" x="196.3" y="330.8"/>
<use href="#sk2" x="199.7" y="331.1"/>
<use href="#sk2" x="203" y="331.4"/>
<use href="#sk2" x="206.4" y="331.7"/>
<use href="#sk2" x="209.7" y="331.9"/>
<use href="#sk2" x="213.1" y="332.1"/>
<use href="#sk2" x="216.4" y="332.3"/>
<use href="#sk2" x="219.8" y="332.5"/>
<use href="#sk2" x="223.1" y="332.6"/>
<use href="#sk2" x="226.4" y="332.7"/>
<use href="#sk2" x="229.8" y="332.8"/>
<use href="#sk2" x="233.1" y="332.9"/>
<use href="#sk2" x="236.5" y="332.9"/>
<use href="#sk2" x="239.8" y="332.9"/>
<use href="#sk2" x="243.2" y="332.9"/>
<use href="#sk2" x="246.5" y="333"/>
<use href="#sk2" x="249.9" y="333"/>
<use href="#sg2" x="55.7" y="333"/>
<use href="#sg2" x="56.8" y="333"/>
<use href="#sg2" x="57.9" y="333"/>
<use href="#sg2" x="59" y="333"/>
<use href="#sg2" x="60.2" y="333"/>
<use href="#sg2" x="61.3" y="333"/>
<use href="#sg2" x="62.4" y="333"/>
<use href="#sg2" x="63.5" y="333"/>
<use href="#sg2" x="64.6" y="333"/>
<use href="#sg2" x="65.7" y="333"/>
<use href="#sg2" x="66.9" y="333"/>
<use href="#sg2" x="68" y="333"/>
<use href="#sg2" x="69.1" y="333"/>
<use href="#sg2" x="70.2" y="333"/>
<use href="#sg2" x="71.3" y="332.9"/>
<use href="#sg2" x="72.4" y="332.9"/>
<use href="#sg2" x="73.6" y="332.9"/>
<use href="#sg2" x="74.7" y="332.9"/>
<use href="#sg2" x="75.8" y="332.9"/>
<use href="#sg2" x="76.9" y="332.9"/>
<use href="#sg2" x="78" y="332.9"/>
<use href="#sg2" x="79.1" y="332.8"/>
<use href="#sg2" x="80.3" y="332.8"/>
<use href="#sg2" x="81.4" y="332.8"/>
<use href="#sg2" x="82.5" y="332.7"/>
<use href="#sg2" x="83.6" y="332.7"/>
<use href="#sg2" x="84.7" y="332.6"/>
<use href="#sg2" x="85.8" y="332.5"/>
<use href="#sg2" x="86.9" y="332.4"/>
<use href="#sg2" x="88.1" y="332.3"/>
<use href="#sg2" x="89.2" y="332.1"/>
<use href="#sg2" x="90.3" y="331.9"/>
<use href="#sg2" x="91.4" y="331.6"/>
<use href="#sg2" x="92.5" y="331.1"/>
<use href="#sg2" x="93.6" y="330.6"/>
<use href="#sg2" x="94.8" y="330.1"/>
<use href="#sg2" x="95.9" y="329.6"/>
<use href="#sg2" x="97" y="329"/>
<use href="#sg2" x="98.1" y="328.3"/>
<use href="#sg2" x="99.2" y="327.4"/>
<use href="#sg2" x="100.3" y="326.3"/>
<use href="#sg2" x="101.5" y="324.9"/>
<use href="#sg2" x="102.6" y="323.2"/>
<use href="#sg2" x="103.7" y="321.3"/>
<use href="#sg2" x="104.8" y="319.1"/>
<use href="#sg2" x="105.9" y="316.6"/>
<use href="#sg2" x="107" y="313.8"/>
<use href="#sg2" x="108.2" y="310.3"/>
<use href="#sg2" x="109.3" y="306.2"/>
<use href="#sg2" x="110.4" y="302.3"/>
<use href="#sg2" x="111.5" y="298.5"/>
<use href="#sg2" x="112.6" y="294.6"/>
<use href="#sg2" x="113.7" y="290.5"/>
<use href="#sg2" x="114.8" y="285.7"/>
<use href="#sg2" x="116" y="280.2"/>
<use href="#sg2" x="117.1" y="272.7"/>
<use href="#sg2" x="118.2" y="264.4"/>
<use href="#sg2" x="119.3" y="256.2"/>
<use href="#sg2" x="120.4" y="248.7"/>
<use href="#sg2" x="121.5" y="241.3"/>
<use href="#sg2" x="122.7" y="234.1"/>
<use href="#sg2" x="123.8" y="228"/>
<use href="#sg2" x="124.9" y="222.6"/>
<use href="#sg2" x="126" y="218"/>
<use href="#sg2" x="127.1" y="214"/>
<use href="#sg2" x="128.2" y="210.9"/>
<use href="#sg2" x="129.4" y="208.6"/>
<use href="#sg2" x="130.5" y="207.2"/>
<use href="#sg2" x="131.6" y="207.2"/>
<use href="#sg2" x="132.7" y="208.6"/>
<use href="#sg2" x="133.8" y="211.1"/>
<use href="#sg2" x="134.9" y="214.6"/>
<use href="#sg2" x="136.1" y="219.3"/>
<use href="#sg2" x="137.2" y="225.5"/>
<use href="#sg2" x="138.3" y="233.2"/>
<use href="#sg2" x="139.4" y="241.1"/>
<use href="#sg2" x="140.5" y="248.7"/>
<use href="#sg2" x="141.6" y="255.2"/>
<use href="#sg2" x="142.7" y="261.3"/>
<use href="#sg2" x="143.9" y="267.2"/>
<use href="#sg2" x="145" y="272.9"/>
<use href="#sg2" x="146.1" y="278.4"/>
<use href="#sg2" x="147.2" y="283.5"/>
<use href="#sg2" x="148.3" y="288.6"/>
<use href="#sg2" x="149.4" y="294"/>
<use href="#sg2" x="150.6" y="298.2"/>
<use href="#sg2" x="151.7" y="301.9"/>
<use href="#sg2" x="152.8" y="305.3"/>
<use href="#sg2" x="153.9" y="308.4"/>
<use href="#sg2" x="155" y="311"/>
<use href="#sg2" x="156.1" y="313.1"/>
<use href="#sg2" x="157.3" y="315"/>
<use href="#sg2" x="158.4" y="316.6"/>
<use href="#sg2" x="159.5" y="318"/>
<use href="#sg2" x="160.6" y="319.3"/>
<use href="#sg2" x="161.7" y="320.5"/>
<use href="#sg2" x="162.8" y="321.6"/>
<use href="#sg2" x="164" y="322.8"/>
<use href="#sg2" x="165.1" y="323.9"/>
<use href="#sg2" x="166.2" y="324.9"/>
<use href="#sg2" x="167.3" y="325.8"/>
<use href="#sg2" x="168.4" y="326.6"/>
<use href="#sg2" x="169.5" y="327.3"/>
<use href="#sg2" x="170.6" y="327.8"/>
<use href="#sg2" x="171.8" y="328.3"/>
<use href="#sg2" x="172.9" y="328.7"/>
<use href="#sg2" x="174" y="329.1"/>
<use href="#sg2" x="175.1" y="329.4"/>
<use href="#sg2" x="176.2" y="329.7"/>
<use href="#sg2" x="177.3" y="330"/>
<use href="#sg2" x="178.5" y="330.3"/>
<use href="#sg2" x="179.6" y="330.5"/>
<use href="#sg2" x="180.7" y="330.7"/>
<use href="#sg2" x="181.8" y="330.9"/>
<use href="#sg2" x="182.9" y="331.1"/>
<use href="#sg2" x="184" y="331.3"/>
<use href="#sg2" x="185.2" y="331.4"/>
<use href="#sg2" x="186.3" y="331.6"/>
<use href="#sg2" x="187.4" y="331.7"/>
<use href="#sg2" x="188.5" y="331.8"/>
<use href="#sg2" x="189.6" y="332"/>
<use href="#sg2" x="190.7" y="332.1"/>
<use href="#sg2" x="191.9" y="332.1"/>
<use href="#sg2" x="193" y="332.2"/>
<use href="#sg2" x="194.1" y="332.3"/>
<use href="#sg2" x="195.2" y="332.4"/>
<use href="#sg2" x="196.3" y="332.4"/>
<use href="#sg2" x="197.4" y="332.5"/>
<use href="#sg2" x="198.5" y="332.5"/>
<use href="#sg2" x="199.7" y="332.6"/>
<use href="#sg2" x="200.8" y="332.6"/>
<use href="#sg2" x="201.9" y="332.6"/>
<use href="#sg2" x="203" y="332.7"/>
<use href="#sg2" x="204.1" y="332.7"/>
<use href="#sg2" x="205.2" y="332.7"/>
<use href="#sg2" x="206.4" y="332.8"/>
<use href="#sg2" x="207.5" y="332.8"/>
<use href="#sg2" x="208.6" y="332.8"/>
<use href="#sg2" x="209.7" y="332.8"/>
<use href="#sg2" x="210.8" y="332.8"/>
<use href="#sg2" x="211.9" y="332.9"/>
<use href="#sg2" x="213.1" y="332.9"/>
<use href="#sg2" x="214.2" y="332.9"/>
<use href="#sg2" x="215.3" y="332.9"/>
<use href="#sg2" x="216.4" y="332.9"/>
<use href="#sg2" x="217.5" y="333"/>
<use href="#sg2" x="218.6" y="333"/>
<use href="#sg2" x="219.8" y="333"/>
<use href="#sg2" x="220.9" y="333"/>
<use href="#sg2" x="222" y="333"/>
<use href="#sg2" x="223.1" y="333"/>
<use href="#sg2" x="224.2" y="333.1"/>
<use href="#sg2" x="225.3" y="333.1"/>
<use href="#sg2" x="226.4" y="333.1"/>
<use href="#sg2" x="227.6" y="333.1"/>
<use href="#sg2" x="228.7" y="333.1"/>
<use href="#sg2" x="229.8" y="333.1"/>
<use href="#sg2" x="230.9" y="333.1"/>
<use href="#sg2" x="232" y="333.1"/>
<use href="#sg2" x="233.1" y="333.1"/>
<use href="#sg2" x="234.3" y="333.1"/>
<use href="#sg2" x="235.4" y="333.2"/>
<use href="#sg2" x="236.5" y="333.2"/>
<use href="#sg2" x="237.6" y="333.2"/>
<use href="#sg2" x="238.7" y="333.2"/>
<use href="#sg2" x="239.8" y="333.2"/>
<use href="#sg2" x="241" y="333.2"/>
<use href="#sg2" x="242.1" y="333.2"/>
<use href="#sg2" x="243.2" y="333.2"/>
<use href="#sg2" x="244.3" y="333.2"/>
<use href="#sg2" x="245.4" y="333.2"/>
<use href="#sg2" x="246.5" y="333.2"/>
<use href="#sg2" x="247.7" y="333.2"/>
<use href="#sg2" x="248.8" y="333.2"/>
<use href="#sg2" x="249.9" y="333.2"/>
<use href="#sg2" x="251" y="333.2"/>
<path d="M55.8 196.8 H251.8 V335 H55.8 Z" fill="none" stroke="#000" stroke-width="1.6"/>
<line x1="55.7" y1="335" x2="55.7" y2="338" stroke="#000" stroke-width="1.2" />
<text x="55.7" y="347.5" font-size="10" font-weight="bold" font-style="normal" text-anchor="middle" fill="#000" >450</text>
<line x1="83.6" y1="335" x2="83.6" y2="336.8" stroke="#000" stroke-width="1.2" />
<line x1="111.5" y1="335" x2="111.5" y2="338" stroke="#000" stroke-width="1.2" />
<text x="111.5" y="347.5" font-size="10" font-weight="bold" font-style="normal" text-anchor="middle" fill="#000" >500</text>
<line x1="139.4" y1="335" x2="139.4" y2="336.8" stroke="#000" stroke-width="1.2" />
<line x1="167.3" y1="335" x2="167.3" y2="338" stroke="#000" stroke-width="1.2" />
<text x="167.3" y="347.5" font-size="10" font-weight="bold" font-style="normal" text-anchor="middle" fill="#000" >550</text>
<line x1="195.2" y1="335" x2="195.2" y2="336.8" stroke="#000" stroke-width="1.2" />
<line x1="223.1" y1="335" x2="223.1" y2="338" stroke="#000" stroke-width="1.2" />
<text x="223.1" y="347.5" font-size="10" font-weight="bold" font-style="normal" text-anchor="middle" fill="#000" >600</text>
<line x1="251" y1="335" x2="251" y2="336.8" stroke="#000" stroke-width="1.2" />
<text x="153.9" y="360" font-size="10.7" font-weight="bold" font-style="normal" text-anchor="middle" fill="#000" textLength="78.8" lengthAdjust="spacingAndGlyphs" >Wavelength (nm)</text>
<text x="24.2" y="265.3" font-size="10.7" font-weight="bold" font-style="normal" text-anchor="middle" fill="#000" transform="rotate(-90 24.2 265.3)" textLength="83.3" lengthAdjust="spacingAndGlyphs" >PL Intensity (a.u.)</text>
<line x1="176.9" y1="206.7" x2="198.2" y2="206.7" stroke="#505050" stroke-width="1.6" />
<use href="#sk2" x="187.3" y="206.7" transform="translate(28.1 31) scale(0.85)"/>
<line x1="176.9" y1="217.6" x2="198.2" y2="217.6" stroke="#17a86c" stroke-width="1.8" />
<use href="#sg2" x="187.3" y="217.6" transform="translate(28.1 32.64) scale(0.85)"/>
<text x="200" y="209.4" font-size="8.3" font-weight="bold" font-style="normal" text-anchor="start" fill="#000" textLength="26.4" lengthAdjust="spacingAndGlyphs" >Control</text>
<text x="200" y="220.2" font-size="8.3" font-weight="bold" font-style="normal" text-anchor="start" fill="#000" textLength="19.5" lengthAdjust="spacingAndGlyphs" >FDPP</text>
<text x="288" y="194.5" font-size="17" font-weight="bold" font-style="normal" text-anchor="start" fill="#000" >d</text>
<clipPath id="dclip"><rect x="343.6" y="193" width="196.4" height="141"/></clipPath>
<g clip-path="url(#dclip)">
<use href="#sk" x="343.6" y="206.3"/>
<use href="#sk" x="343.7" y="211.4"/>
<use href="#sk" x="343.8" y="208.6"/>
<use href="#sk" x="344" y="207.7"/>
<use href="#sk" x="344.1" y="212.4"/>
<use href="#sk" x="344.2" y="207.8"/>
<use href="#sk" x="344.3" y="207.8"/>
<use href="#sk" x="344.5" y="207.6"/>
<use href="#sk" x="344.6" y="209.8"/>
<use href="#sk" x="344.7" y="221.5"/>
<use href="#sk" x="344.8" y="207.3"/>
<use href="#sk" x="345" y="207.2"/>
<use href="#sk" x="345.1" y="214.1"/>
<use href="#sk" x="345.2" y="227.9"/>
<use href="#sk" x="345.3" y="224.6"/>
<use href="#sk" x="345.4" y="218.9"/>
<use href="#sk" x="345.6" y="223.3"/>
<use href="#sk" x="345.7" y="225.1"/>
<use href="#sk" x="345.8" y="225.3"/>
<use href="#sk" x="345.9" y="218.7"/>
<use href="#sk" x="346.1" y="225.4"/>
<use href="#sk" x="346.2" y="228.5"/>
<use href="#sk" x="346.3" y="234.5"/>
<use href="#sk" x="346.4" y="228.6"/>
<use href="#sk" x="346.5" y="225.3"/>
<use href="#sk" x="346.7" y="220.4"/>
<use href="#sk" x="346.8" y="220.9"/>
<use href="#sk" x="346.9" y="232.5"/>
<use href="#sk" x="347" y="232"/>
<use href="#sk" x="347.2" y="220.8"/>
<use href="#sk" x="347.3" y="238.3"/>
<use href="#sk" x="347.4" y="220.8"/>
<use href="#sk" x="347.5" y="234.1"/>
<use href="#sk" x="347.7" y="228.8"/>
<use href="#sk" x="347.8" y="226.9"/>
<use href="#sk" x="347.9" y="219.6"/>
<use href="#sk" x="348" y="241.9"/>
<use href="#sk" x="348.1" y="222.6"/>
<use href="#sk" x="348.3" y="221.6"/>
<use href="#sk" x="348.4" y="228.2"/>
<use href="#sk" x="348.5" y="241.8"/>
<use href="#sk" x="348.6" y="231.8"/>
<use href="#sk" x="348.8" y="235.5"/>
<use href="#sk" x="348.9" y="243.2"/>
<use href="#sk" x="349" y="238.1"/>
<use href="#sk" x="349.1" y="231.1"/>
<use href="#sk" x="349.2" y="234.6"/>
<use href="#sk" x="349.4" y="238.7"/>
<use href="#sk" x="349.5" y="238.8"/>
<use href="#sk" x="349.6" y="249.6"/>
<use href="#sk" x="349.7" y="246.4"/>
<use href="#sk" x="349.9" y="244.8"/>
<use href="#sk" x="350" y="246.3"/>
<use href="#sk" x="350.1" y="236.2"/>
<use href="#sk" x="350.2" y="243.3"/>
<use href="#sk" x="350.4" y="252"/>
<use href="#sk" x="350.5" y="244.8"/>
<use href="#sk" x="350.6" y="242.4"/>
<use href="#sk" x="350.7" y="250.2"/>
<use href="#sk" x="350.8" y="251.1"/>
<use href="#sk" x="351" y="248"/>
<use href="#sk" x="351.1" y="253"/>
<use href="#sk" x="351.2" y="245.4"/>
<use href="#sk" x="351.3" y="242.2"/>
<use href="#sk" x="351.5" y="238"/>
<use href="#sk" x="351.6" y="242"/>
<use href="#sk" x="351.7" y="249.7"/>
<use href="#sk" x="351.8" y="254.3"/>
<use href="#sk" x="351.9" y="251.7"/>
<use href="#sk" x="352.1" y="254.5"/>
<use href="#sk" x="352.2" y="253.8"/>
<use href="#sk" x="352.3" y="255.9"/>
<use href="#sk" x="352.4" y="257.9"/>
<use href="#sk" x="352.6" y="245.1"/>
<use href="#sk" x="352.7" y="241.5"/>
<use href="#sk" x="352.8" y="243.7"/>
<use href="#sk" x="352.9" y="252.3"/>
<use href="#sk" x="353.1" y="248.6"/>
<use href="#sk" x="353.2" y="257.9"/>
<use href="#sk" x="353.3" y="253.6"/>
<use href="#sk" x="353.4" y="250.2"/>
<use href="#sk" x="353.5" y="249.2"/>
<use href="#sk" x="353.7" y="254.7"/>
<use href="#sk" x="353.8" y="260.9"/>
<use href="#sk" x="353.9" y="262.1"/>
<use href="#sk" x="354" y="254.4"/>
<use href="#sk" x="354.2" y="248.5"/>
<use href="#sk" x="354.3" y="257.9"/>
<use href="#sk" x="354.4" y="263.7"/>
<use href="#sk" x="354.5" y="250.2"/>
<use href="#sk" x="354.6" y="265.2"/>
<use href="#sk" x="354.8" y="263.1"/>
<use href="#sk" x="354.9" y="251.1"/>
<use href="#sk" x="355" y="248.3"/>
<use href="#sk" x="355.1" y="265.2"/>
<use href="#sk" x="355.3" y="256.6"/>
<use href="#sk" x="355.4" y="258.5"/>
<use href="#sk" x="355.5" y="255.5"/>
<use href="#sk" x="355.6" y="251.2"/>
<use href="#sk" x="355.8" y="251.2"/>
<use href="#sk" x="355.9" y="267.5"/>
<use href="#sk" x="356" y="253.1"/>
<use href="#sk" x="356.1" y="264.4"/>
<use href="#sk" x="356.2" y="256"/>
<use href="#sk" x="356.4" y="270.8"/>
<use href="#sk" x="356.5" y="255.9"/>
<use href="#sk" x="356.6" y="254.9"/>
<use href="#sk" x="356.7" y="256.1"/>
<use href="#sk" x="356.9" y="258.7"/>
<use href="#sk" x="357" y="265.5"/>
<use href="#sk" x="357.1" y="267.3"/>
<use href="#sk" x="357.2" y="262.8"/>
<use href="#sk" x="357.3" y="270.3"/>
<use href="#sk" x="357.5" y="263.1"/>
<use href="#sk" x="357.6" y="258.9"/>
<use href="#sk" x="357.7" y="267.6"/>
<use href="#sk" x="357.8" y="263.5"/>
<use href="#sk" x="358" y="264.2"/>
<use href="#sk" x="358.1" y="259.2"/>
<use href="#sk" x="358.2" y="270.3"/>
<use href="#sk" x="358.3" y="265.7"/>
<use href="#sk" x="358.5" y="275.7"/>
<use href="#sk" x="358.6" y="265.5"/>
<use href="#sk" x="358.7" y="263.9"/>
<use href="#sk" x="358.8" y="274.8"/>
<use href="#sk" x="358.9" y="259.8"/>
<use href="#sk" x="359.1" y="275.9"/>
<use href="#sk" x="359.2" y="261.3"/>
<use href="#sk" x="359.3" y="279.7"/>
<use href="#sk" x="359.4" y="275.5"/>
<use href="#sk" x="359.6" y="276.9"/>
<use href="#sk" x="359.7" y="264.1"/>
<use href="#sk" x="359.8" y="272.8"/>
<use href="#sk" x="359.9" y="268.1"/>
<use href="#sk" x="360" y="276.1"/>
<use href="#sk" x="360.2" y="279.3"/>
<use href="#sk" x="360.3" y="266.6"/>
<use href="#sk" x="360.4" y="270.3"/>
<use href="#sk" x="360.5" y="269.5"/>
<use href="#sk" x="360.7" y="273.2"/>
<use href="#sk" x="360.8" y="280.1"/>
<use href="#sk" x="360.9" y="275.7"/>
<use href="#sk" x="361" y="277.6"/>
<use href="#sk" x="361.2" y="284.2"/>
<use href="#sk" x="361.3" y="269.7"/>
<use href="#sk" x="361.4" y="275.1"/>
<use href="#sk" x="361.5" y="280.6"/>
<use href="#sk" x="361.6" y="273.6"/>
<use href="#sk" x="361.8" y="284.1"/>
<use href="#sk" x="361.9" y="282.8"/>
<use href="#sk" x="362" y="280.5"/>
<use href="#sk" x="362.1" y="280.7"/>
<use href="#sk" x="362.3" y="277.8"/>
<use href="#sk" x="362.4" y="285.8"/>
<use href="#sk" x="362.5" y="282.3"/>
<use href="#sk" x="362.6" y="288"/>
<use href="#sk" x="362.7" y="270.8"/>
<use href="#sk" x="362.9" y="272.5"/>
<use href="#sk" x="363" y="282.3"/>
<use href="#sk" x="363.1" y="280.7"/>
<use href="#sk" x="363.2" y="289.8"/>
<use href="#sk" x="363.4" y="278.3"/>
<use href="#sk" x="363.5" y="281.5"/>
<use href="#sk" x="363.6" y="282.1"/>
<use href="#sk" x="363.7" y="283.4"/>
<use href="#sk" x="363.9" y="281.5"/>
<use href="#sk" x="364" y="280.9"/>
<use href="#sk" x="364.1" y="275.2"/>
<use href="#sk" x="364.2" y="283.8"/>
<use href="#sk" x="364.3" y="292.3"/>
<use href="#sk" x="364.5" y="274.1"/>
<use href="#sk" x="364.6" y="284.5"/>
<use href="#sk" x="364.7" y="281.4"/>
<use href="#sk" x="364.8" y="282.8"/>
<use href="#sk" x="365" y="291.9"/>
<use href="#sk" x="365.1" y="273.1"/>
<use href="#sk" x="365.2" y="280.4"/>
<use href="#sk" x="365.3" y="283.7"/>
<use href="#sk" x="365.4" y="280.6"/>
<use href="#sk" x="365.6" y="284"/>
<use href="#sk" x="365.7" y="291.5"/>
<use href="#sk" x="365.8" y="294.6"/>
<use href="#sk" x="365.9" y="278"/>
<use href="#sk" x="366.1" y="284.9"/>
<use href="#sk" x="366.2" y="294.4"/>
<use href="#sk" x="366.3" y="299"/>
<use href="#sk" x="366.4" y="292.7"/>
<use href="#sk" x="366.6" y="295.4"/>
<use href="#sk" x="366.7" y="299.7"/>
<use href="#sk" x="366.8" y="293.8"/>
<use href="#sk" x="366.9" y="286.5"/>
<use href="#sk" x="367" y="282.3"/>
<use href="#sk" x="367.2" y="280.6"/>
<use href="#sk" x="367.3" y="281.2"/>
<use href="#sk" x="367.4" y="290.1"/>
<use href="#sk" x="367.5" y="286.2"/>
<use href="#sk" x="367.7" y="297.6"/>
<use href="#sk" x="367.8" y="300.6"/>
<use href="#sk" x="367.9" y="302.5"/>
<use href="#sk" x="368" y="302.5"/>
<use href="#sk" x="368.2" y="286.7"/>
<use href="#sk" x="368.3" y="301.5"/>
<use href="#sk" x="368.4" y="287.4"/>
<use href="#sk" x="368.5" y="286.8"/>
<use href="#sk" x="368.6" y="298.2"/>
<use href="#sk" x="368.8" y="284.3"/>
<use href="#sk" x="368.9" y="298.2"/>
<use href="#sk" x="369" y="285.3"/>
<use href="#sk" x="369.1" y="305.8"/>
<use href="#sk" x="369.3" y="302.5"/>
<use href="#sk" x="369.4" y="299.7"/>
<use href="#sk" x="369.5" y="304.6"/>
<use href="#sk" x="369.6" y="289.6"/>
<use href="#sk" x="369.7" y="285"/>
<use href="#sk" x="369.9" y="298.9"/>
<use href="#sk" x="370" y="295.3"/>
<use href="#sk" x="370.1" y="304.6"/>
<use href="#sk" x="370.2" y="290.6"/>
<use href="#sk" x="370.4" y="304.6"/>
<use href="#sk" x="370.5" y="305.8"/>
<use href="#sk" x="370.6" y="301.5"/>
<use href="#sk" x="370.7" y="307.1"/>
<use href="#sk" x="370.9" y="291"/>
<use href="#sk" x="371" y="300.6"/>
<use href="#sk" x="371.1" y="291.3"/>
<use href="#sk" x="371.2" y="300.6"/>
<use href="#sk" x="371.3" y="300.6"/>
<use href="#sk" x="371.5" y="291.9"/>
<use href="#sk" x="371.6" y="303.5"/>
<use href="#sk" x="371.7" y="293.2"/>
<use href="#sk" x="371.8" y="293.1"/>
<use href="#sk" x="372" y="299.7"/>
<use href="#sk" x="372.1" y="308.5"/>
<use href="#sk" x="372.2" y="299.1"/>
<use href="#sk" x="372.3" y="302.5"/>
<use href="#sk" x="372.4" y="303.5"/>
<use href="#sk" x="372.6" y="307.1"/>
<use href="#sk" x="372.7" y="302.5"/>
<use href="#sk" x="372.8" y="289.3"/>
<use href="#sk" x="372.9" y="311.8"/>
<use href="#sk" x="373.1" y="301.5"/>
<use href="#sk" x="373.2" y="292.7"/>
<use href="#sk" x="373.3" y="290.5"/>
<use href="#sk" x="373.4" y="303.5"/>
<use href="#sk" x="373.6" y="308.5"/>
<use href="#sk" x="373.7" y="297.4"/>
<use href="#sk" x="373.8" y="290.2"/>
<use href="#sk" x="373.9" y="318.3"/>
<use href="#sk" x="374" y="315.8"/>
<use href="#sk" x="374.2" y="290"/>
<use href="#sk" x="374.3" y="295.9"/>
<use href="#sk" x="374.4" y="302.5"/>
<use href="#sk" x="374.5" y="301.5"/>
<use href="#sk" x="374.7" y="304.6"/>
<use href="#sk" x="374.8" y="302.5"/>
<use href="#sk" x="374.9" y="298.4"/>
<use href="#sk" x="375" y="299.7"/>
<use href="#sk" x="375.1" y="296.3"/>
<use href="#sk" x="375.3" y="290.4"/>
<use href="#sk" x="375.4" y="310.1"/>
<use href="#sk" x="375.5" y="307.1"/>
<use href="#sk" x="375.6" y="292.4"/>
<use href="#sk" x="375.8" y="299.7"/>
<use href="#sk" x="375.9" y="300.6"/>
<use href="#sk" x="376" y="292.8"/>
<use href="#sk" x="376.1" y="289.5"/>
<use href="#sk" x="376.3" y="301.5"/>
<use href="#sk" x="376.4" y="300.6"/>
<use href="#sk" x="376.5" y="318.3"/>
<use href="#sk" x="376.6" y="293.6"/>
<use href="#sk" x="376.7" y="313.7"/>
<use href="#sk" x="376.9" y="324.9"/>
<use href="#sk" x="377" y="290.2"/>
<use href="#sk" x="377.1" y="287.7"/>
<use href="#sk" x="377.2" y="321.3"/>
<use href="#sk" x="377.4" y="321.3"/>
<use href="#sk" x="377.5" y="299.7"/>
<use href="#sk" x="377.6" y="324.9"/>
<use href="#sk" x="377.7" y="303.5"/>
<use href="#sk" x="377.8" y="318.3"/>
<use href="#sk" x="378" y="296.8"/>
<use href="#sk" x="378.1" y="310.1"/>
<use href="#sk" x="378.2" y="311.8"/>
<use href="#sk" x="378.3" y="304.6"/>
<use href="#sk" x="378.5" y="290.8"/>
<use href="#sk" x="378.6" y="301.5"/>
<use href="#sk" x="378.7" y="305.8"/>
<use href="#sk" x="378.8" y="315.8"/>
<use href="#sk" x="379" y="329.6"/>
<use href="#sk" x="379.1" y="300.4"/>
<use href="#sk" x="379.2" y="308.5"/>
<use href="#sk" x="379.3" y="318.3"/>
<use href="#sk" x="379.4" y="324.9"/>
<use href="#sk" x="379.6" y="313.7"/>
<use href="#sk" x="379.7" y="299.7"/>
<use href="#sk" x="379.8" y="308.5"/>
<use href="#sk" x="379.9" y="313.7"/>
<use href="#sk" x="380.1" y="318.3"/>
<use href="#sk" x="380.2" y="329.6"/>
<use href="#sk" x="380.3" y="300.6"/>
<use href="#sk" x="380.4" y="311.8"/>
<use href="#sk" x="380.5" y="310.1"/>
<use href="#sk" x="380.7" y="294.8"/>
<use href="#sk" x="380.8" y="324.9"/>
<use href="#sk" x="380.9" y="315.8"/>
<use href="#sk" x="381" y="308.5"/>
<use href="#sk" x="381.2" y="307.1"/>
<use href="#sk" x="381.3" y="315.8"/>
<use href="#sk" x="381.4" y="324.9"/>
<use href="#sk" x="381.5" y="298.9"/>
<use href="#sk" x="381.7" y="336.1"/>
<use href="#sk" x="381.8" y="305.8"/>
<use href="#sk" x="381.9" y="324.9"/>
<use href="#sk" x="382" y="324.9"/>
<use href="#sk" x="382.1" y="336.1"/>
<use href="#sk" x="382.3" y="298.2"/>
<use href="#sk" x="382.4" y="298.9"/>
<use href="#sk" x="382.5" y="308.5"/>
<use href="#sk" x="382.6" y="304.6"/>
<use href="#sk" x="382.8" y="329.6"/>
<use href="#sk" x="382.9" y="329.6"/>
<use href="#sk" x="383" y="336.1"/>
<use href="#sk" x="383.1" y="315.8"/>
<use href="#sk" x="383.2" y="295.3"/>
<use href="#sk" x="383.4" y="303.5"/>
<use href="#sk" x="383.5" y="300.6"/>
<use href="#sk" x="383.6" y="329.6"/>
<use href="#sk" x="383.7" y="310.1"/>
<use href="#sk" x="383.9" y="329.6"/>
<use href="#sk" x="384" y="324.9"/>
<use href="#sk" x="384.1" y="324.9"/>
<use href="#sk" x="384.2" y="304.6"/>
<use href="#sk" x="384.4" y="313.7"/>
<use href="#sk" x="384.5" y="299"/>
<use href="#sk" x="384.6" y="318.3"/>
<use href="#sk" x="384.7" y="329.6"/>
<use href="#sk" x="384.8" y="321.3"/>
<use href="#sk" x="385" y="295.6"/>
<use href="#sk" x="385.1" y="293.9"/>
<use href="#sk" x="385.2" y="336.1"/>
<use href="#sk" x="385.3" y="336.1"/>
<use href="#sk" x="385.5" y="297.5"/>
<use href="#sk" x="385.6" y="324.9"/>
<use href="#sk" x="385.7" y="310.1"/>
<use href="#sk" x="385.8" y="300.6"/>
<use href="#sk" x="385.9" y="299.7"/>
<use href="#sk" x="386.1" y="324.9"/>
<use href="#sk" x="386.2" y="301.5"/>
<use href="#sk" x="386.3" y="295.1"/>
<use href="#sk" x="386.4" y="313.7"/>
<use href="#sk" x="386.6" y="336.1"/>
<use href="#sk" x="386.7" y="301.5"/>
<use href="#sk" x="386.8" y="308.5"/>
<use href="#sk" x="386.9" y="310.1"/>
<use href="#sk" x="387.1" y="294.6"/>
<use href="#sk" x="387.2" y="295.1"/>
<use href="#sk" x="387.3" y="329.6"/>
<use href="#sk" x="387.4" y="329.6"/>
<use href="#sk" x="387.5" y="311.8"/>
<use href="#sk" x="387.7" y="310.1"/>
<use href="#sk" x="387.8" y="324.9"/>
<use href="#sk" x="387.9" y="299.7"/>
<use href="#sk" x="388" y="324.9"/>
<use href="#sk" x="388.2" y="298.9"/>
<use href="#sk" x="388.3" y="318.3"/>
<use href="#sk" x="388.4" y="329.6"/>
<use href="#sk" x="388.5" y="310.1"/>
<use href="#sk" x="388.6" y="303.5"/>
<use href="#sk" x="388.8" y="297.4"/>
<use href="#sk" x="388.9" y="315.8"/>
<use href="#sk" x="389" y="310.1"/>
<use href="#sk" x="389.1" y="305.8"/>
<use href="#sk" x="389.3" y="302.5"/>
<use href="#sk" x="389.4" y="329.6"/>
<use href="#sk" x="389.5" y="297"/>
<use href="#sk" x="389.6" y="318.3"/>
<use href="#sk" x="389.8" y="311.8"/>
<use href="#sk" x="389.9" y="313.7"/>
<use href="#sk" x="390" y="321.3"/>
<use href="#sk" x="390.1" y="329.6"/>
<use href="#sk" x="390.2" y="311.8"/>
<use href="#sk" x="390.4" y="295.3"/>
<use href="#sk" x="390.5" y="296.2"/>
<use href="#sk" x="390.6" y="301.5"/>
<use href="#sk" x="390.7" y="329.6"/>
<use href="#sk" x="390.9" y="310.1"/>
<use href="#sk" x="391" y="310.1"/>
<use href="#sk" x="391.1" y="336.1"/>
<use href="#sk" x="391.2" y="308.5"/>
<use href="#sk" x="391.3" y="313.7"/>
<use href="#sk" x="391.5" y="329.6"/>
<use href="#sk" x="391.6" y="313.7"/>
<use href="#sk" x="391.7" y="336.1"/>
<use href="#sk" x="391.8" y="329.6"/>
<use href="#sk" x="392" y="311.8"/>
<use href="#sk" x="392.1" y="311.8"/>
<use href="#sk" x="392.2" y="324.9"/>
<use href="#sk" x="392.3" y="302.5"/>
<use href="#sk" x="392.5" y="315.8"/>
<use href="#sk" x="392.6" y="324.9"/>
<use href="#sk" x="392.7" y="324.9"/>
<use href="#sk" x="392.8" y="313.7"/>
<use href="#sk" x="392.9" y="318.3"/>
<use href="#sk" x="393.1" y="329.6"/>
<use href="#sk" x="393.2" y="308.5"/>
<use href="#sk" x="393.3" y="302.5"/>
<use href="#sk" x="393.4" y="303.5"/>
<use href="#sk" x="393.6" y="329.6"/>
<use href="#sk" x="393.7" y="318.3"/>
<use href="#sk" x="393.8" y="321.3"/>
<use href="#sk" x="393.9" y="300.6"/>
<use href="#sk" x="394.1" y="321.3"/>
<use href="#sk" x="394.2" y="321.3"/>
<use href="#sk" x="394.3" y="329.6"/>
<use href="#sk" x="394.4" y="324.9"/>
<use href="#sk" x="394.5" y="324.9"/>
<use href="#sk" x="394.7" y="300.6"/>
<use href="#sk" x="394.8" y="310.1"/>
<use href="#sk" x="394.9" y="308.5"/>
<use href="#sk" x="395" y="329.6"/>
<use href="#sk" x="395.2" y="336.1"/>
<use href="#sk" x="395.3" y="336.1"/>
<use href="#sk" x="395.4" y="302.5"/>
<use href="#sk" x="395.5" y="321.3"/>
<use href="#sk" x="395.6" y="324.9"/>
<use href="#sk" x="395.8" y="329.6"/>
<use href="#sk" x="395.9" y="305.8"/>
<use href="#sk" x="396" y="324.9"/>
<use href="#sk" x="396.1" y="298.9"/>
<use href="#sk" x="396.3" y="336.1"/>
<use href="#sk" x="396.4" y="299.7"/>
<use href="#sk" x="396.5" y="324.9"/>
<use href="#sk" x="396.6" y="313.7"/>
<use href="#sk" x="396.8" y="324.9"/>
<use href="#sk" x="396.9" y="324.9"/>
<use href="#sk" x="397" y="324.9"/>
<use href="#sk" x="397.1" y="321.3"/>
<use href="#sk" x="397.2" y="311.8"/>
<use href="#sk" x="397.4" y="329.6"/>
<use href="#sk" x="397.5" y="329.6"/>
<use href="#sk" x="397.6" y="324.9"/>
<use href="#sk" x="397.7" y="297.4"/>
<use href="#sk" x="397.9" y="329.6"/>
<use href="#sk" x="398" y="315.8"/>
<use href="#sk" x="398.1" y="310.1"/>
<use href="#sk" x="398.2" y="336.1"/>
<use href="#sk" x="398.3" y="303.5"/>
<use href="#sk" x="398.5" y="303.5"/>
<use href="#sk" x="398.6" y="321.3"/>
<use href="#sk" x="398.7" y="324.9"/>
<use href="#sk" x="398.8" y="300.6"/>
<use href="#sk" x="399" y="329.6"/>
<use href="#sk" x="399.1" y="318.3"/>
<use href="#sk" x="399.2" y="318.3"/>
<use href="#sk" x="399.3" y="303.5"/>
<use href="#sk" x="399.5" y="318.3"/>
<use href="#sk" x="399.6" y="304.6"/>
<use href="#sk" x="399.7" y="318.3"/>
<use href="#sk" x="399.8" y="318.3"/>
<use href="#sk" x="399.9" y="298.9"/>
<use href="#sk" x="400.1" y="311.8"/>
<use href="#sk" x="400.2" y="318.3"/>
<use href="#sk" x="400.3" y="302.5"/>
<use href="#sk" x="400.4" y="318.3"/>
<use href="#sk" x="400.6" y="315.8"/>
<use href="#sk" x="400.7" y="329.6"/>
<use href="#sk" x="400.8" y="329.6"/>
<use href="#sk" x="400.9" y="315.8"/>
<use href="#sk" x="401" y="315.8"/>
<use href="#sk" x="401.2" y="336.1"/>
<use href="#sk" x="401.3" y="329.6"/>
<use href="#sk" x="401.4" y="304.6"/>
<use href="#sk" x="401.5" y="313.7"/>
<use href="#sk" x="401.7" y="336.1"/>
<use href="#sk" x="401.8" y="313.7"/>
<use href="#sk" x="401.9" y="318.3"/>
<use href="#sk" x="402" y="302.5"/>
<use href="#sk" x="402.2" y="307.1"/>
<use href="#sk" x="402.3" y="299.7"/>
<use href="#sk" x="402.4" y="329.6"/>
<use href="#sk" x="402.5" y="300.6"/>
<use href="#sk" x="402.6" y="318.3"/>
<use href="#sk" x="402.8" y="305.8"/>
<use href="#sk" x="402.9" y="310.1"/>
<use href="#sk" x="403" y="315.8"/>
<use href="#sk" x="403.1" y="329.6"/>
<use href="#sk" x="403.3" y="336.1"/>
<use href="#sk" x="403.4" y="329.6"/>
<use href="#sk" x="403.5" y="313.7"/>
<use href="#sk" x="403.6" y="302.5"/>
<use href="#sk" x="403.7" y="321.3"/>
<use href="#sk" x="403.9" y="292.2"/>
<use href="#sk" x="404" y="336.1"/>
<use href="#sk" x="404.1" y="324.9"/>
<use href="#sk" x="404.2" y="315.8"/>
<use href="#sk" x="404.4" y="303.5"/>
<use href="#sk" x="404.5" y="321.3"/>
<use href="#sk" x="404.6" y="324.9"/>
<use href="#sk" x="404.7" y="311.8"/>
<use href="#sk" x="404.9" y="336.1"/>
<use href="#sk" x="405" y="318.3"/>
<use href="#sk" x="405.1" y="321.3"/>
<use href="#sk" x="405.2" y="318.3"/>
<use href="#sk" x="405.3" y="329.6"/>
<use href="#sk" x="405.5" y="308.5"/>
<use href="#sk" x="405.6" y="336.1"/>
<use href="#sk" x="405.7" y="321.3"/>
<use href="#sk" x="405.8" y="336.1"/>
<use href="#sk" x="406" y="324.9"/>
<use href="#sk" x="406.1" y="310.1"/>
<use href="#sk" x="406.2" y="313.7"/>
<use href="#sk" x="406.3" y="313.7"/>
<use href="#sk" x="406.4" y="324.9"/>
<use href="#sk" x="406.6" y="303.5"/>
<use href="#sk" x="406.7" y="311.8"/>
<use href="#sk" x="406.8" y="336.1"/>
<use href="#sk" x="406.9" y="324.9"/>
<use href="#sk" x="407.1" y="318.3"/>
<use href="#sk" x="407.2" y="313.7"/>
<use href="#sk" x="407.3" y="329.6"/>
<use href="#sk" x="407.4" y="305.8"/>
<use href="#sk" x="407.6" y="315.8"/>
<use href="#sk" x="407.7" y="308.5"/>
<use href="#sk" x="407.8" y="307.1"/>
<use href="#sk" x="407.9" y="315.8"/>
<use href="#sk" x="408" y="318.3"/>
<use href="#sk" x="408.2" y="299.7"/>
<use href="#sk" x="408.3" y="336.1"/>
<use href="#sk" x="408.4" y="301.5"/>
<use href="#sk" x="408.5" y="308.5"/>
<use href="#sk" x="408.7" y="307.1"/>
<use href="#sk" x="408.8" y="311.8"/>
<use href="#sk" x="408.9" y="329.6"/>
<use href="#sk" x="409" y="321.3"/>
<use href="#sk" x="409.1" y="321.3"/>
<use href="#sk" x="409.3" y="329.6"/>
<use href="#sk" x="409.4" y="329.6"/>
<use href="#sk" x="409.5" y="329.6"/>
<use href="#sk" x="409.6" y="304.6"/>
<use href="#sk" x="409.8" y="324.9"/>
<use href="#sk" x="409.9" y="329.6"/>
<use href="#sk" x="410" y="313.7"/>
<use href="#sk" x="410.1" y="321.3"/>
<use href="#sk" x="410.3" y="324.9"/>
<use href="#sk" x="410.4" y="336.1"/>
<use href="#sk" x="410.5" y="329.6"/>
<use href="#sk" x="410.6" y="324.9"/>
<use href="#sk" x="410.7" y="329.6"/>
<use href="#sk" x="410.9" y="318.3"/>
<use href="#sk" x="411" y="336.1"/>
<use href="#sk" x="411.1" y="329.6"/>
<use href="#sk" x="411.2" y="329.6"/>
<use href="#sk" x="411.4" y="318.3"/>
<use href="#sk" x="411.5" y="304.6"/>
<use href="#sk" x="411.6" y="305.8"/>
<use href="#sk" x="411.7" y="324.9"/>
<use href="#sk" x="411.8" y="321.3"/>
<use href="#sk" x="412" y="311.8"/>
<use href="#sk" x="412.1" y="311.8"/>
<use href="#sk" x="412.2" y="321.3"/>
<use href="#sk" x="412.3" y="321.3"/>
<use href="#sk" x="412.5" y="303.5"/>
<use href="#sk" x="412.6" y="329.6"/>
<use href="#sk" x="412.7" y="308.5"/>
<use href="#sk" x="412.8" y="324.9"/>
<use href="#sk" x="413" y="294.9"/>
<use href="#sk" x="413.1" y="329.6"/>
<use href="#sk" x="413.2" y="311.8"/>
<use href="#sk" x="413.3" y="311.8"/>
<use href="#sk" x="413.4" y="329.6"/>
<use href="#sk" x="413.6" y="318.3"/>
<use href="#sk" x="413.7" y="329.6"/>
<use href="#sk" x="413.8" y="307.1"/>
<use href="#sk" x="413.9" y="321.3"/>
<use href="#sk" x="414.1" y="305.8"/>
<use href="#sk" x="414.2" y="307.1"/>
<use href="#sk" x="414.3" y="329.6"/>
<use href="#sk" x="414.4" y="321.3"/>
<use href="#sk" x="414.5" y="318.3"/>
<use href="#sk" x="414.7" y="311.8"/>
<use href="#sk" x="414.8" y="321.3"/>
<use href="#sk" x="414.9" y="329.6"/>
<use href="#sk" x="415" y="310.1"/>
<use href="#sk" x="415.2" y="307.1"/>
<use href="#sk" x="415.3" y="329.6"/>
<use href="#sk" x="415.4" y="321.3"/>
<use href="#sk" x="415.5" y="321.3"/>
<use href="#sk" x="415.7" y="303.5"/>
<use href="#sk" x="415.8" y="321.3"/>
<use href="#sk" x="415.9" y="308.5"/>
<use href="#sk" x="416" y="304.6"/>
<use href="#sk" x="416.1" y="318.3"/>
<use href="#sk" x="416.3" y="321.3"/>
<use href="#sk" x="416.4" y="311.8"/>
<use href="#sk" x="416.5" y="311.8"/>
<use href="#sk" x="416.6" y="329.6"/>
<use href="#sk" x="416.8" y="329.6"/>
<use href="#sk" x="416.9" y="310.1"/>
<use href="#sk" x="417" y="321.3"/>
<use href="#sk" x="417.1" y="304.6"/>
<use href="#sk" x="417.3" y="336.1"/>
<use href="#sk" x="417.4" y="324.9"/>
<use href="#sk" x="417.5" y="336.1"/>
<use href="#sk" x="417.6" y="304.6"/>
<use href="#sk" x="417.7" y="315.8"/>
<use href="#sk" x="417.9" y="315.8"/>
<use href="#sk" x="418" y="336.1"/>
<use href="#sk" x="418.1" y="315.8"/>
<use href="#sk" x="418.2" y="324.9"/>
<use href="#sk" x="418.4" y="318.3"/>
<use href="#sk" x="418.5" y="336.1"/>
<use href="#sk" x="418.6" y="304.6"/>
<use href="#sk" x="418.7" y="302.5"/>
<use href="#sk" x="418.8" y="324.9"/>
<use href="#sk" x="419" y="302.5"/>
<use href="#sk" x="419.1" y="307.1"/>
<use href="#sk" x="419.2" y="324.9"/>
<use href="#sk" x="419.3" y="336.1"/>
<use href="#sk" x="419.5" y="313.7"/>
<use href="#sk" x="419.6" y="302.5"/>
<use href="#sk" x="419.7" y="307.1"/>
<use href="#sk" x="419.8" y="321.3"/>
<use href="#sk" x="420" y="329.6"/>
<use href="#sk" x="420.1" y="305.8"/>
<use href="#sk" x="420.2" y="301.5"/>
<use href="#sk" x="420.3" y="308.5"/>
<use href="#sk" x="420.4" y="313.7"/>
<use href="#sk" x="420.6" y="324.9"/>
<use href="#sk" x="420.7" y="301.5"/>
<use href="#sk" x="420.8" y="324.9"/>
<use href="#sk" x="420.9" y="324.9"/>
<use href="#sk" x="421.1" y="329.6"/>
<use href="#sk" x="421.2" y="315.8"/>
<use href="#sk" x="421.3" y="313.7"/>
<use href="#sk" x="421.4" y="329.6"/>
<use href="#sk" x="421.5" y="321.3"/>
<use href="#sk" x="421.7" y="329.6"/>
<use href="#sk" x="421.8" y="303.5"/>
<use href="#sk" x="421.9" y="303.5"/>
<use href="#sk" x="422" y="329.6"/>
<use href="#sk" x="422.2" y="318.3"/>
<use href="#sk" x="422.3" y="329.6"/>
<use href="#sk" x="422.4" y="318.3"/>
<use href="#sk" x="422.5" y="318.3"/>
<use href="#sk" x="422.7" y="329.6"/>
<use href="#sk" x="422.8" y="336.1"/>
<use href="#sk" x="422.9" y="302.5"/>
<use href="#sk" x="423" y="313.7"/>
<use href="#sk" x="423.1" y="299.7"/>
<use href="#sk" x="423.3" y="305.8"/>
<use href="#sk" x="423.4" y="301.5"/>
<use href="#sk" x="423.5" y="324.9"/>
<use href="#sk" x="423.6" y="324.9"/>
<use href="#sk" x="423.8" y="324.9"/>
<use href="#sk" x="423.9" y="307.1"/>
<use href="#sk" x="424" y="329.6"/>
<use href="#sk" x="424.1" y="321.3"/>
<use href="#sk" x="424.2" y="308.5"/>
<use href="#sk" x="424.4" y="304.6"/>
<use href="#sk" x="424.5" y="304.6"/>
<use href="#sk" x="424.6" y="300.6"/>
<use href="#sk" x="424.7" y="324.9"/>
<use href="#sk" x="424.9" y="318.3"/>
<use href="#sk" x="425" y="310.1"/>
<use href="#sk" x="425.1" y="305.8"/>
<use href="#sk" x="425.2" y="321.3"/>
<use href="#sk" x="425.4" y="324.9"/>
<use href="#sk" x="425.5" y="336.1"/>
<use href="#sk" x="425.6" y="313.7"/>
<use href="#sk" x="425.7" y="321.3"/>
<use href="#sk" x="425.8" y="336.1"/>
<use href="#sk" x="426" y="329.6"/>
<use href="#sk" x="426.1" y="329.6"/>
<use href="#sk" x="426.2" y="329.6"/>
<use href="#sk" x="426.3" y="321.3"/>
<use href="#sk" x="426.5" y="305.8"/>
<use href="#sk" x="426.6" y="301.5"/>
<use href="#sk" x="426.7" y="315.8"/>
<use href="#sk" x="426.8" y="301.5"/>
<use href="#sk" x="426.9" y="313.7"/>
<use href="#sk" x="427.1" y="311.8"/>
<use href="#sk" x="427.2" y="311.8"/>
<use href="#sk" x="427.3" y="300.6"/>
<use href="#sk" x="427.4" y="308.5"/>
<use href="#sk" x="427.6" y="336.1"/>
<use href="#sk" x="427.7" y="303.5"/>
<use href="#sk" x="427.8" y="336.1"/>
<use href="#sk" x="427.9" y="324.9"/>
<use href="#sk" x="428.1" y="311.8"/>
<use href="#sk" x="428.2" y="300.6"/>
<use href="#sk" x="428.3" y="329.6"/>
<use href="#sk" x="428.4" y="318.3"/>
<use href="#sk" x="428.5" y="329.6"/>
<use href="#sk" x="428.7" y="321.3"/>
<use href="#sk" x="428.8" y="324.9"/>
<use href="#sk" x="428.9" y="321.3"/>
<use href="#sk" x="429" y="321.3"/>
<use href="#sk" x="429.2" y="303.5"/>
<use href="#sk" x="429.3" y="329.6"/>
<use href="#sk" x="429.4" y="311.8"/>
<use href="#sk" x="429.5" y="303.5"/>
<use href="#sk" x="429.6" y="324.9"/>
<use href="#sk" x="429.8" y="315.8"/>
<use href="#sk" x="429.9" y="329.6"/>
<use href="#sk" x="430" y="311.8"/>
<use href="#sk" x="430.1" y="301.5"/>
<use href="#sk" x="430.3" y="321.3"/>
<use href="#sk" x="430.4" y="321.3"/>
<use href="#sk" x="430.5" y="304.6"/>
<use href="#sk" x="430.6" y="303.5"/>
<use href="#sk" x="430.8" y="321.3"/>
<use href="#sk" x="430.9" y="315.8"/>
<use href="#sk" x="431" y="305.8"/>
<use href="#sk" x="431.1" y="318.3"/>
<use href="#sk" x="431.2" y="304.6"/>
<use href="#sk" x="431.4" y="313.7"/>
<use href="#sk" x="431.5" y="307.1"/>
<use href="#sk" x="431.6" y="329.6"/>
<use href="#sk" x="431.7" y="324.9"/>
<use href="#sk" x="431.9" y="295.3"/>
<use href="#sk" x="432" y="315.8"/>
<use href="#sk" x="432.1" y="329.6"/>
<use href="#sk" x="432.2" y="324.9"/>
<use href="#sk" x="432.3" y="329.6"/>
<use href="#sk" x="432.5" y="336.1"/>
<use href="#sk" x="432.6" y="321.3"/>
<use href="#sk" x="432.7" y="315.8"/>
<use href="#sk" x="432.8" y="329.6"/>
<use href="#sk" x="433" y="301.5"/>
<use href="#sk" x="433.1" y="321.3"/>
<use href="#sk" x="433.2" y="324.9"/>
<use href="#sk" x="433.3" y="329.6"/>
<use href="#sk" x="433.5" y="329.6"/>
<use href="#sk" x="433.6" y="315.8"/>
<use href="#sk" x="433.7" y="303.5"/>
<use href="#sk" x="433.8" y="336.1"/>
<use href="#sk" x="433.9" y="311.8"/>
<use href="#sk" x="434.1" y="329.6"/>
<use href="#sk" x="434.2" y="324.9"/>
<use href="#sk" x="434.3" y="329.6"/>
<use href="#sk" x="434.4" y="321.3"/>
<use href="#sk" x="434.6" y="329.6"/>
<use href="#sk" x="434.7" y="329.6"/>
<use href="#sk" x="434.8" y="311.8"/>
<use href="#sk" x="434.9" y="311.8"/>
<use href="#sk" x="435" y="329.6"/>
<use href="#sk" x="435.2" y="307.1"/>
<use href="#sk" x="435.3" y="305.8"/>
<use href="#sk" x="435.4" y="315.8"/>
<use href="#sk" x="435.5" y="329.6"/>
<use href="#sk" x="435.7" y="329.6"/>
<use href="#sk" x="435.8" y="321.3"/>
<use href="#sk" x="435.9" y="321.3"/>
<use href="#sk" x="436" y="321.3"/>
<use href="#sk" x="436.2" y="329.6"/>
<use href="#sk" x="436.3" y="329.6"/>
<use href="#sk" x="436.4" y="329.6"/>
<use href="#sk" x="436.5" y="310.1"/>
<use href="#sk" x="436.6" y="336.1"/>
<use href="#sk" x="436.8" y="329.6"/>
<use href="#sk" x="436.9" y="304.6"/>
<use href="#sk" x="437" y="329.6"/>
<use href="#sk" x="437.1" y="303.5"/>
<use href="#sk" x="437.3" y="329.6"/>
<use href="#sk" x="437.4" y="305.8"/>
<use href="#sk" x="437.5" y="318.3"/>
<use href="#sk" x="437.6" y="315.8"/>
<use href="#sk" x="437.7" y="318.3"/>
<use href="#sk" x="437.9" y="311.8"/>
<use href="#sk" x="438" y="313.7"/>
<use href="#sk" x="438.1" y="303.5"/>
<use href="#sk" x="438.2" y="311.8"/>
<use href="#sk" x="438.4" y="324.9"/>
<use href="#sk" x="438.5" y="315.8"/>
<use href="#sk" x="438.6" y="313.7"/>
<use href="#sk" x="438.7" y="321.3"/>
<use href="#sk" x="438.9" y="311.8"/>
<use href="#sk" x="439" y="311.8"/>
<use href="#sk" x="439.1" y="321.3"/>
<use href="#sk" x="439.2" y="321.3"/>
<use href="#sk" x="439.3" y="324.9"/>
<use href="#sk" x="439.5" y="303.5"/>
<use href="#sk" x="439.6" y="310.1"/>
<use href="#sk" x="439.7" y="336.1"/>
<use href="#sk" x="439.8" y="324.9"/>
<use href="#sk" x="440" y="329.6"/>
<use href="#sk" x="440.1" y="324.9"/>
<use href="#sk" x="440.2" y="318.3"/>
<use href="#sk" x="440.3" y="321.3"/>
<use href="#sk" x="440.4" y="336.1"/>
<use href="#sk" x="440.6" y="336.1"/>
<use href="#sk" x="440.7" y="329.6"/>
<use href="#sk" x="440.8" y="311.8"/>
<use href="#sk" x="440.9" y="336.1"/>
<use href="#sk" x="441.1" y="303.5"/>
<use href="#sk" x="441.2" y="315.8"/>
<use href="#sk" x="441.3" y="336.1"/>
<use href="#sk" x="441.4" y="329.6"/>
<use href="#sk" x="441.6" y="329.6"/>
<use href="#sk" x="441.7" y="313.7"/>
<use href="#sk" x="441.8" y="304.6"/>
<use href="#sk" x="441.9" y="308.5"/>
<use href="#sk" x="442" y="336.1"/>
<use href="#sk" x="442.2" y="313.7"/>
<use href="#sk" x="442.3" y="329.6"/>
<use href="#sk" x="442.4" y="329.6"/>
<use href="#sk" x="442.5" y="329.6"/>
<use href="#sk" x="442.7" y="329.6"/>
<use href="#sk" x="442.8" y="318.3"/>
<use href="#sk" x="442.9" y="324.9"/>
<use href="#sk" x="443" y="329.6"/>
<use href="#sk" x="443.2" y="313.7"/>
<use href="#sk" x="443.3" y="313.7"/>
<use href="#sk" x="443.4" y="321.3"/>
<use href="#sk" x="443.5" y="336.1"/>
<use href="#sk" x="443.6" y="329.6"/>
<use href="#sk" x="443.8" y="324.9"/>
<use href="#sk" x="443.9" y="310.1"/>
<use href="#sk" x="444" y="307.1"/>
<use href="#sk" x="444.1" y="307.1"/>
<use href="#sk" x="444.3" y="304.6"/>
<use href="#sk" x="444.4" y="321.3"/>
<use href="#sk" x="444.5" y="324.9"/>
<use href="#sk" x="444.6" y="329.6"/>
<use href="#sk" x="444.7" y="336.1"/>
<use href="#sk" x="444.9" y="329.6"/>
<use href="#sk" x="445" y="329.6"/>
<use href="#sk" x="445.1" y="304.6"/>
<use href="#sk" x="445.2" y="304.6"/>
<use href="#sk" x="445.4" y="321.3"/>
<use href="#sk" x="445.5" y="315.8"/>
<use href="#sk" x="445.6" y="336.1"/>
<use href="#sk" x="445.7" y="318.3"/>
<use href="#sk" x="445.9" y="313.7"/>
<use href="#sk" x="446" y="301.5"/>
<use href="#sk" x="446.1" y="324.9"/>
<use href="#sk" x="446.2" y="336.1"/>
<use href="#sk" x="446.3" y="336.1"/>
<use href="#sk" x="446.5" y="315.8"/>
<use href="#sk" x="446.6" y="329.6"/>
<use href="#sk" x="446.7" y="318.3"/>
<use href="#sk" x="446.8" y="315.8"/>
<use href="#sk" x="447" y="313.7"/>
<use href="#sk" x="447.1" y="303.5"/>
<use href="#sk" x="447.2" y="329.6"/>
<use href="#sk" x="447.3" y="302.5"/>
<use href="#sk" x="447.4" y="307.1"/>
<use href="#sk" x="447.6" y="329.6"/>
<use href="#sk" x="447.7" y="308.5"/>
<use href="#sk" x="447.8" y="315.8"/>
<use href="#sk" x="447.9" y="329.6"/>
<use href="#sk" x="448.1" y="336.1"/>
<use href="#sk" x="448.2" y="313.7"/>
<use href="#sk" x="448.3" y="311.8"/>
<use href="#sk" x="448.4" y="302.5"/>
<use href="#sk" x="448.6" y="302.5"/>
<use href="#sk" x="448.7" y="304.6"/>
<use href="#sk" x="448.8" y="313.7"/>
<use href="#sk" x="448.9" y="329.6"/>
<use href="#sk" x="449" y="321.3"/>
<use href="#sk" x="449.2" y="303.5"/>
<use href="#sk" x="449.3" y="321.3"/>
<use href="#sk" x="449.4" y="311.8"/>
<use href="#sk" x="449.5" y="310.1"/>
<use href="#sk" x="449.7" y="311.8"/>
<use href="#sk" x="449.8" y="324.9"/>
<use href="#sk" x="449.9" y="307.1"/>
<use href="#sk" x="450" y="336.1"/>
<use href="#sk" x="450.1" y="298"/>
<use href="#sk" x="450.3" y="311.8"/>
<use href="#sk" x="450.4" y="303.5"/>
<use href="#sk" x="450.5" y="318.3"/>
<use href="#sk" x="450.6" y="324.9"/>
<use href="#sk" x="450.8" y="336.1"/>
<use href="#sk" x="450.9" y="308.5"/>
<use href="#sk" x="451" y="329.6"/>
<use href="#sk" x="451.1" y="329.6"/>
<use href="#sk" x="451.3" y="329.6"/>
<use href="#sk" x="451.4" y="315.8"/>
<use href="#sk" x="451.5" y="308.5"/>
<use href="#sk" x="451.6" y="315.8"/>
<use href="#sk" x="451.7" y="329.6"/>
<use href="#sk" x="451.9" y="321.3"/>
<use href="#sk" x="452" y="311.8"/>
<use href="#sk" x="452.1" y="311.8"/>
<use href="#sk" x="452.2" y="324.9"/>
<use href="#sk" x="452.4" y="307.1"/>
<use href="#sk" x="452.5" y="324.9"/>
<use href="#sk" x="452.6" y="315.8"/>
<use href="#sk" x="452.7" y="329.6"/>
<use href="#sk" x="452.8" y="318.3"/>
<use href="#sk" x="453" y="318.3"/>
<use href="#sk" x="453.1" y="321.3"/>
<use href="#sk" x="453.2" y="329.6"/>
<use href="#sk" x="453.3" y="310.1"/>
<use href="#sk" x="453.5" y="304.6"/>
<use href="#sk" x="453.6" y="313.7"/>
<use href="#sk" x="453.7" y="305.8"/>
<use href="#sk" x="453.8" y="324.9"/>
<use href="#sk" x="454" y="321.3"/>
<use href="#sk" x="454.1" y="303.5"/>
<use href="#sk" x="454.2" y="329.6"/>
<use href="#sk" x="454.3" y="318.3"/>
<use href="#sk" x="454.4" y="310.1"/>
<use href="#sk" x="454.6" y="329.6"/>
<use href="#sk" x="454.7" y="311.8"/>
<use href="#sk" x="454.8" y="304.6"/>
<use href="#sk" x="454.9" y="311.8"/>
<use href="#sk" x="455.1" y="304.6"/>
<use href="#sk" x="455.2" y="321.3"/>
<use href="#sk" x="455.3" y="324.9"/>
<use href="#sk" x="455.4" y="329.6"/>
<use href="#sk" x="455.5" y="315.8"/>
<use href="#sk" x="455.7" y="305.8"/>
<use href="#sk" x="455.8" y="308.5"/>
<use href="#sk" x="455.9" y="324.9"/>
<use href="#sk" x="456" y="305.8"/>
<use href="#sk" x="456.2" y="311.8"/>
<use href="#sk" x="456.3" y="311.8"/>
<use href="#sk" x="456.4" y="324.9"/>
<use href="#sk" x="456.5" y="324.9"/>
<use href="#sk" x="456.7" y="308.5"/>
<use href="#sk" x="456.8" y="311.8"/>
<use href="#sk" x="456.9" y="308.5"/>
<use href="#sk" x="457" y="310.1"/>
<use href="#sk" x="457.1" y="324.9"/>
<use href="#sk" x="457.3" y="336.1"/>
<use href="#sk" x="457.4" y="336.1"/>
<use href="#sk" x="457.5" y="324.9"/>
<use href="#sk" x="457.6" y="321.3"/>
<use href="#sk" x="457.8" y="308.5"/>
<use href="#sk" x="457.9" y="310.1"/>
<use href="#sk" x="458" y="308.5"/>
<use href="#sk" x="458.1" y="324.9"/>
<use href="#sk" x="458.2" y="307.1"/>
<use href="#sk" x="458.4" y="313.7"/>
<use href="#sk" x="458.5" y="310.1"/>
<use href="#sk" x="458.6" y="311.8"/>
<use href="#sk" x="458.7" y="304.6"/>
<use href="#sk" x="458.9" y="307.1"/>
<use href="#sk" x="459" y="313.7"/>
<use href="#sk" x="459.1" y="315.8"/>
<use href="#sk" x="459.2" y="318.3"/>
<use href="#sk" x="459.4" y="318.3"/>
<use href="#sk" x="459.5" y="336.1"/>
<use href="#sk" x="459.6" y="305.8"/>
<use href="#sk" x="459.7" y="311.8"/>
<use href="#sk" x="459.8" y="329.6"/>
<use href="#sk" x="460" y="300.6"/>
<use href="#sk" x="460.1" y="329.6"/>
<use href="#sk" x="460.2" y="318.3"/>
<use href="#sk" x="460.3" y="313.7"/>
<use href="#sk" x="460.5" y="329.6"/>
<use href="#sk" x="460.6" y="307.1"/>
<use href="#sk" x="460.7" y="311.8"/>
<use href="#sk" x="460.8" y="315.8"/>
<use href="#sk" x="460.9" y="329.6"/>
<use href="#sk" x="461.1" y="318.3"/>
<use href="#sk" x="461.2" y="336.1"/>
<use href="#sk" x="461.3" y="329.6"/>
<use href="#sk" x="461.4" y="321.3"/>
<use href="#sk" x="461.6" y="318.3"/>
<use href="#sk" x="461.7" y="313.7"/>
<use href="#sk" x="461.8" y="321.3"/>
<use href="#sk" x="461.9" y="329.6"/>
<use href="#sk" x="462.1" y="310.1"/>
<use href="#sk" x="462.2" y="308.5"/>
<use href="#sk" x="462.3" y="318.3"/>
<use href="#sk" x="462.4" y="329.6"/>
<use href="#sk" x="462.5" y="318.3"/>
<use href="#sk" x="462.7" y="318.3"/>
<use href="#sk" x="462.8" y="308.5"/>
<use href="#sk" x="462.9" y="321.3"/>
<use href="#sk" x="463" y="324.9"/>
<use href="#sk" x="463.2" y="324.9"/>
<use href="#sk" x="463.3" y="324.9"/>
<use href="#sk" x="463.4" y="321.3"/>
<use href="#sk" x="463.5" y="329.6"/>
<use href="#sk" x="463.6" y="336.1"/>
<use href="#sk" x="463.8" y="336.1"/>
<use href="#sk" x="463.9" y="308.5"/>
<use href="#sk" x="464" y="336.1"/>
<use href="#sk" x="464.1" y="313.7"/>
<use href="#sk" x="464.3" y="310.1"/>
<use href="#sk" x="464.4" y="336.1"/>
<use href="#sk" x="464.5" y="315.8"/>
<use href="#sk" x="464.6" y="329.6"/>
<use href="#sk" x="464.8" y="324.9"/>
<use href="#sk" x="464.9" y="329.6"/>
<use href="#sk" x="465" y="315.8"/>
<use href="#sk" x="465.1" y="324.9"/>
<use href="#sk" x="465.2" y="315.8"/>
<use href="#sk" x="465.4" y="318.3"/>
<use href="#sk" x="465.5" y="324.9"/>
<use href="#sk" x="465.6" y="329.6"/>
<use href="#sk" x="465.7" y="336.1"/>
<use href="#sk" x="465.9" y="336.1"/>
<use href="#sk" x="466" y="318.3"/>
<use href="#sk" x="466.1" y="307.1"/>
<use href="#sk" x="466.2" y="324.9"/>
<use href="#sk" x="466.4" y="311.8"/>
<use href="#sk" x="466.5" y="324.9"/>
<use href="#sk" x="466.6" y="329.6"/>
<use href="#sk" x="466.7" y="308.5"/>
<use href="#sk" x="466.8" y="318.3"/>
<use href="#sk" x="467" y="308.5"/>
<use href="#sk" x="467.1" y="329.6"/>
<use href="#sk" x="467.2" y="313.7"/>
<use href="#sk" x="467.3" y="336.1"/>
<use href="#sk" x="467.5" y="315.8"/>
<use href="#sk" x="467.6" y="307.1"/>
<use href="#sk" x="467.7" y="311.8"/>
<use href="#sk" x="467.8" y="324.9"/>
<use href="#sk" x="467.9" y="313.7"/>
<use href="#sk" x="468.1" y="305.8"/>
<use href="#sk" x="468.2" y="315.8"/>
<use href="#sk" x="468.3" y="336.1"/>
<use href="#sk" x="468.4" y="308.5"/>
<use href="#sk" x="468.6" y="313.7"/>
<use href="#sk" x="468.7" y="329.6"/>
<use href="#sk" x="468.8" y="329.6"/>
<use href="#sk" x="468.9" y="307.1"/>
<use href="#sk" x="469.1" y="308.5"/>
<use href="#sk" x="469.2" y="305.8"/>
<use href="#sk" x="469.3" y="310.1"/>
<use href="#sk" x="469.4" y="311.8"/>
<use href="#sk" x="469.5" y="321.3"/>
<use href="#sk" x="469.7" y="318.3"/>
<use href="#sk" x="469.8" y="321.3"/>
<use href="#sk" x="469.9" y="318.3"/>
<use href="#sk" x="470" y="308.5"/>
<use href="#sk" x="470.2" y="329.6"/>
<use href="#sk" x="470.3" y="336.1"/>
<use href="#sk" x="470.4" y="315.8"/>
<use href="#sk" x="470.5" y="324.9"/>
<use href="#sk" x="470.6" y="308.5"/>
<use href="#sk" x="470.8" y="324.9"/>
<use href="#sk" x="470.9" y="336.1"/>
<use href="#sk" x="471" y="321.3"/>
<use href="#sk" x="471.1" y="313.7"/>
<use href="#sk" x="471.3" y="336.1"/>
<use href="#sk" x="471.4" y="318.3"/>
<use href="#sk" x="471.5" y="318.3"/>
<use href="#sk" x="471.6" y="329.6"/>
<use href="#sk" x="471.8" y="329.6"/>
<use href="#sk" x="471.9" y="305.8"/>
<use href="#sk" x="472" y="310.1"/>
<use href="#sk" x="472.1" y="329.6"/>
<use href="#sk" x="472.2" y="305.8"/>
<use href="#sk" x="472.4" y="313.7"/>
<use href="#sk" x="472.5" y="329.6"/>
<use href="#sk" x="472.6" y="315.8"/>
<use href="#sk" x="472.7" y="318.3"/>
<use href="#sk" x="472.9" y="336.1"/>
<use href="#sk" x="473" y="311.8"/>
<use href="#sk" x="473.1" y="336.1"/>
<use href="#sk" x="473.2" y="311.8"/>
<use href="#sk" x="473.3" y="321.3"/>
<use href="#sk" x="473.5" y="329.6"/>
<use href="#sk" x="473.6" y="336.1"/>
<use href="#sk" x="473.7" y="318.3"/>
<use href="#sk" x="473.8" y="324.9"/>
<use href="#sk" x="474" y="336.1"/>
<use href="#sk" x="474.1" y="329.6"/>
<use href="#sk" x="474.2" y="324.9"/>
<use href="#sk" x="474.3" y="318.3"/>
<use href="#sk" x="474.5" y="313.7"/>
<use href="#sk" x="474.6" y="336.1"/>
<use href="#sk" x="474.7" y="329.6"/>
<use href="#sk" x="474.8" y="313.7"/>
<use href="#sk" x="474.9" y="318.3"/>
<use href="#sk" x="475.1" y="329.6"/>
<use href="#sk" x="475.2" y="324.9"/>
<use href="#sk" x="475.3" y="329.6"/>
<use href="#sk" x="475.4" y="313.7"/>
<use href="#sk" x="475.6" y="311.8"/>
<use href="#sk" x="475.7" y="336.1"/>
<use href="#sk" x="475.8" y="313.7"/>
<use href="#sk" x="475.9" y="303.5"/>
<use href="#sk" x="476" y="311.8"/>
<use href="#sk" x="476.2" y="307.1"/>
<use href="#sk" x="476.3" y="300.6"/>
<use href="#sk" x="476.4" y="302.5"/>
<use href="#sk" x="476.5" y="303.5"/>
<use href="#sk" x="476.7" y="329.6"/>
<use href="#sk" x="476.8" y="324.9"/>
<use href="#sk" x="476.9" y="324.9"/>
<use href="#sk" x="477" y="313.7"/>
<use href="#sk" x="477.2" y="310.1"/>
<use href="#sk" x="477.3" y="329.6"/>
<use href="#sk" x="477.4" y="324.9"/>
<use href="#sk" x="477.5" y="318.3"/>
<use href="#sk" x="477.6" y="324.9"/>
<use href="#sk" x="477.8" y="311.8"/>
<use href="#sk" x="477.9" y="313.7"/>
<use href="#sk" x="478" y="324.9"/>
<use href="#sk" x="478.1" y="303.5"/>
<use href="#sk" x="478.3" y="308.5"/>
<use href="#sk" x="478.4" y="308.5"/>
<use href="#sk" x="478.5" y="324.9"/>
<use href="#sk" x="478.6" y="307.1"/>
<use href="#sk" x="478.7" y="324.9"/>
<use href="#sk" x="478.9" y="324.9"/>
<use href="#sk" x="479" y="321.3"/>
<use href="#sk" x="479.1" y="329.6"/>
<use href="#sk" x="479.2" y="315.8"/>
<use href="#sk" x="479.4" y="324.9"/>
<use href="#sk" x="479.5" y="324.9"/>
<use href="#sk" x="479.6" y="336.1"/>
<use href="#sk" x="479.7" y="329.6"/>
<use href="#sk" x="479.9" y="315.8"/>
<use href="#sk" x="480" y="324.9"/>
<use href="#sk" x="480.1" y="329.6"/>
<use href="#sk" x="480.2" y="324.9"/>
<use href="#sk" x="480.3" y="329.6"/>
<use href="#sk" x="480.5" y="324.9"/>
<use href="#sk" x="480.6" y="324.9"/>
<use href="#sk" x="480.7" y="336.1"/>
<use href="#sk" x="480.8" y="310.1"/>
<use href="#sk" x="481" y="308.5"/>
<use href="#sk" x="481.1" y="321.3"/>
<use href="#sk" x="481.2" y="299.7"/>
<use href="#sk" x="481.3" y="321.3"/>
<use href="#sk" x="481.4" y="318.3"/>
<use href="#sk" x="481.6" y="318.3"/>
<use href="#sk" x="481.7" y="324.9"/>
<use href="#sk" x="481.8" y="336.1"/>
<use href="#sk" x="481.9" y="313.7"/>
<use href="#sk" x="482.1" y="307.1"/>
<use href="#sk" x="482.2" y="324.9"/>
<use href="#sk" x="482.3" y="313.7"/>
<use href="#sk" x="482.4" y="310.1"/>
<use href="#sk" x="482.6" y="311.8"/>
<use href="#sk" x="482.7" y="313.7"/>
<use href="#sk" x="482.8" y="329.6"/>
<use href="#sk" x="482.9" y="329.6"/>
<use href="#sk" x="483" y="329.6"/>
<use href="#sk" x="483.2" y="329.6"/>
<use href="#sk" x="483.3" y="324.9"/>
<use href="#sk" x="483.4" y="310.1"/>
<use href="#sk" x="483.5" y="308.5"/>
<use href="#sk" x="483.7" y="321.3"/>
<use href="#sk" x="483.8" y="329.6"/>
<use href="#sk" x="483.9" y="303.5"/>
<use href="#sk" x="484" y="329.6"/>
<use href="#sk" x="484.1" y="305.8"/>
<use href="#sk" x="484.3" y="329.6"/>
<use href="#sk" x="484.4" y="324.9"/>
<use href="#sk" x="484.5" y="329.6"/>
<use href="#sk" x="484.6" y="305.8"/>
<use href="#sk" x="484.8" y="321.3"/>
<use href="#sk" x="484.9" y="308.5"/>
<use href="#sk" x="485" y="305.8"/>
<use href="#sk" x="485.1" y="329.6"/>
<use href="#sk" x="485.3" y="321.3"/>
<use href="#sk" x="485.4" y="329.6"/>
<use href="#sk" x="485.5" y="329.6"/>
<use href="#sk" x="485.6" y="318.3"/>
<use href="#sk" x="485.7" y="307.1"/>
<use href="#sk" x="485.9" y="311.8"/>
<use href="#sk" x="486" y="329.6"/>
<use href="#sk" x="486.1" y="310.1"/>
<use href="#sk" x="486.2" y="310.1"/>
<use href="#sk" x="486.4" y="321.3"/>
<use href="#sk" x="486.5" y="292.8"/>
<use href="#sk" x="486.6" y="318.3"/>
<use href="#sk" x="486.7" y="310.1"/>
<use href="#sk" x="486.8" y="321.3"/>
<use href="#sk" x="487" y="329.6"/>
<use href="#sk" x="487.1" y="329.6"/>
<use href="#sk" x="487.2" y="329.6"/>
<use href="#sk" x="487.3" y="318.3"/>
<use href="#sk" x="487.5" y="336.1"/>
<use href="#sk" x="487.6" y="311.8"/>
<use href="#sk" x="487.7" y="310.1"/>
<use href="#sk" x="487.8" y="318.3"/>
<use href="#sk" x="488" y="336.1"/>
<use href="#sk" x="488.1" y="318.3"/>
<use href="#sk" x="488.2" y="307.1"/>
<use href="#sk" x="488.3" y="329.6"/>
<use href="#sk" x="488.4" y="324.9"/>
<use href="#sk" x="488.6" y="311.8"/>
<use href="#sk" x="488.7" y="324.9"/>
<use href="#sk" x="488.8" y="303.5"/>
<use href="#sk" x="488.9" y="321.3"/>
<use href="#sk" x="489.1" y="336.1"/>
<use href="#sk" x="489.2" y="321.3"/>
<use href="#sk" x="489.3" y="329.6"/>
<use href="#sk" x="489.4" y="321.3"/>
<use href="#sk" x="489.5" y="308.5"/>
<use href="#sk" x="489.7" y="304.6"/>
<use href="#sk" x="489.8" y="308.5"/>
<use href="#sk" x="489.9" y="313.7"/>
<use href="#sk" x="490" y="313.7"/>
<use href="#sk" x="490.2" y="324.9"/>
<use href="#sk" x="490.3" y="313.7"/>
<use href="#sk" x="490.4" y="318.3"/>
<use href="#sk" x="490.5" y="336.1"/>
<use href="#sk" x="490.7" y="324.9"/>
<use href="#sk" x="490.8" y="321.3"/>
<use href="#sk" x="490.9" y="304.6"/>
<use href="#sk" x="491" y="304.6"/>
<use href="#sk" x="491.1" y="324.9"/>
<use href="#sk" x="491.3" y="336.1"/>
<use href="#sk" x="491.4" y="321.3"/>
<use href="#sk" x="491.5" y="318.3"/>
<use href="#sk" x="491.6" y="321.3"/>
<use href="#sk" x="491.8" y="324.9"/>
<use href="#sk" x="491.9" y="305.8"/>
<use href="#sk" x="492" y="336.1"/>
<use href="#sk" x="492.1" y="336.1"/>
<use href="#sk" x="492.3" y="336.1"/>
<use href="#sk" x="492.4" y="308.5"/>
<use href="#sk" x="492.5" y="308.5"/>
<use href="#sk" x="492.6" y="304.6"/>
<use href="#sk" x="492.7" y="329.6"/>
<use href="#sk" x="492.9" y="311.8"/>
<use href="#sk" x="493" y="321.3"/>
<use href="#sk" x="493.1" y="324.9"/>
<use href="#sk" x="493.2" y="318.3"/>
<use href="#sk" x="493.4" y="318.3"/>
<use href="#sk" x="493.5" y="305.8"/>
<use href="#sk" x="493.6" y="303.5"/>
<use href="#sk" x="493.7" y="315.8"/>
<use href="#sk" x="493.8" y="336.1"/>
<use href="#sk" x="494" y="315.8"/>
<use href="#sk" x="494.1" y="336.1"/>
<use href="#sk" x="494.2" y="313.7"/>
<use href="#sk" x="494.3" y="303.5"/>
<use href="#sk" x="494.5" y="311.8"/>
<use href="#sk" x="494.6" y="315.8"/>
<use href="#sk" x="494.7" y="303.5"/>
<use href="#sk" x="494.8" y="307.1"/>
<use href="#sk" x="495" y="304.6"/>
<use href="#sk" x="495.1" y="324.9"/>
<use href="#sk" x="495.2" y="307.1"/>
<use href="#sk" x="495.3" y="315.8"/>
<use href="#sk" x="495.4" y="329.6"/>
<use href="#sk" x="495.6" y="324.9"/>
<use href="#sk" x="495.7" y="321.3"/>
<use href="#sk" x="495.8" y="336.1"/>
<use href="#sk" x="495.9" y="329.6"/>
<use href="#sk" x="496.1" y="311.8"/>
<use href="#sk" x="496.2" y="324.9"/>
<use href="#sk" x="496.3" y="305.8"/>
<use href="#sk" x="496.4" y="311.8"/>
<use href="#sk" x="496.5" y="318.3"/>
<use href="#sk" x="496.7" y="311.8"/>
<use href="#sk" x="496.8" y="315.8"/>
<use href="#sk" x="496.9" y="324.9"/>
<use href="#sk" x="497" y="303.5"/>
<use href="#sk" x="497.2" y="308.5"/>
<use href="#sk" x="497.3" y="324.9"/>
<use href="#sk" x="497.4" y="329.6"/>
<use href="#sk" x="497.5" y="329.6"/>
<use href="#sk" x="497.7" y="301.5"/>
<use href="#sk" x="497.8" y="329.6"/>
<use href="#sk" x="497.9" y="321.3"/>
<use href="#sk" x="498" y="302.5"/>
<use href="#sk" x="498.1" y="324.9"/>
<use href="#sk" x="498.3" y="318.3"/>
<use href="#sk" x="498.4" y="329.6"/>
<use href="#sk" x="498.5" y="336.1"/>
<use href="#sk" x="498.6" y="302.5"/>
<use href="#sk" x="498.8" y="336.1"/>
<use href="#sk" x="498.9" y="336.1"/>
<use href="#sk" x="499" y="321.3"/>
<use href="#sk" x="499.1" y="315.8"/>
<use href="#sk" x="499.2" y="301.5"/>
<use href="#sk" x="499.4" y="311.8"/>
<use href="#sk" x="499.5" y="315.8"/>
<use href="#sk" x="499.6" y="313.7"/>
<use href="#sk" x="499.7" y="315.8"/>
<use href="#sk" x="499.9" y="336.1"/>
<use href="#sk" x="500" y="301.5"/>
<use href="#sk" x="500.1" y="315.8"/>
<use href="#sk" x="500.2" y="324.9"/>
<use href="#sk" x="500.4" y="336.1"/>
<use href="#sk" x="500.5" y="310.1"/>
<use href="#sk" x="500.6" y="315.8"/>
<use href="#sk" x="500.7" y="324.9"/>
<use href="#sk" x="500.8" y="307.1"/>
<use href="#sk" x="501" y="302.5"/>
<use href="#sk" x="501.1" y="302.5"/>
<use href="#sk" x="501.2" y="336.1"/>
<use href="#sk" x="501.3" y="324.9"/>
<use href="#sk" x="501.5" y="307.1"/>
<use href="#sk" x="501.6" y="305.8"/>
<use href="#sk" x="501.7" y="292"/>
<use href="#sk" x="501.8" y="313.7"/>
<use href="#sk" x="501.9" y="305.8"/>
<use href="#sk" x="502.1" y="311.8"/>
<use href="#sk" x="502.2" y="324.9"/>
<use href="#sk" x="502.3" y="303.5"/>
<use href="#sk" x="502.4" y="329.6"/>
<use href="#sk" x="502.6" y="308.5"/>
<use href="#sk" x="502.7" y="329.6"/>
<use href="#sk" x="502.8" y="329.6"/>
<use href="#sk" x="502.9" y="311.8"/>
<use href="#sk" x="503.1" y="336.1"/>
<use href="#sk" x="503.2" y="310.1"/>
<use href="#sk" x="503.3" y="329.6"/>
<use href="#sk" x="503.4" y="308.5"/>
<use href="#sk" x="503.5" y="304.6"/>
<use href="#sk" x="503.7" y="302.5"/>
<use href="#sk" x="503.8" y="304.6"/>
<use href="#sk" x="503.9" y="318.3"/>
<use href="#sk" x="504" y="300.6"/>
<use href="#sk" x="504.2" y="303.5"/>
<use href="#sk" x="504.3" y="308.5"/>
<use href="#sk" x="504.4" y="318.3"/>
<use href="#sk" x="504.5" y="302.5"/>
<use href="#sk" x="504.6" y="301.5"/>
<use href="#sk" x="504.8" y="300.6"/>
<use href="#sk" x="504.9" y="321.3"/>
<use href="#sk" x="505" y="318.3"/>
<use href="#sk" x="505.1" y="310.1"/>
<use href="#sk" x="505.3" y="315.8"/>
<use href="#sk" x="505.4" y="321.3"/>
<use href="#sk" x="505.5" y="315.8"/>
<use href="#sk" x="505.6" y="329.6"/>
<use href="#sk" x="505.8" y="321.3"/>
<use href="#sk" x="505.9" y="321.3"/>
<use href="#sk" x="506" y="336.1"/>
<use href="#sk" x="506.1" y="303.5"/>
<use href="#sk" x="506.2" y="315.8"/>
<use href="#sk" x="506.4" y="311.8"/>
<use href="#sk" x="506.5" y="307.1"/>
<use href="#sk" x="506.6" y="311.8"/>
<use href="#sk" x="506.7" y="336.1"/>
<use href="#sk" x="506.9" y="321.3"/>
<use href="#sk" x="507" y="307.1"/>
<use href="#sk" x="507.1" y="307.1"/>
<use href="#sk" x="507.2" y="315.8"/>
<use href="#sk" x="507.3" y="329.6"/>
<use href="#sk" x="507.5" y="336.1"/>
<use href="#sk" x="507.6" y="310.1"/>
<use href="#sk" x="507.7" y="324.9"/>
<use href="#sk" x="507.8" y="315.8"/>
<use href="#sk" x="508" y="304.6"/>
<use href="#sk" x="508.1" y="308.5"/>
<use href="#sk" x="508.2" y="315.8"/>
<use href="#sk" x="508.3" y="308.5"/>
<use href="#sk" x="508.5" y="311.8"/>
<use href="#sk" x="508.6" y="310.1"/>
<use href="#sk" x="508.7" y="315.8"/>
<use href="#sk" x="508.8" y="324.9"/>
<use href="#sk" x="508.9" y="315.8"/>
<use href="#sk" x="509.1" y="310.1"/>
<use href="#sk" x="509.2" y="318.3"/>
<use href="#sk" x="509.3" y="311.8"/>
<use href="#sk" x="509.4" y="302.5"/>
<use href="#sk" x="509.6" y="329.6"/>
<use href="#sk" x="509.7" y="307.1"/>
<use href="#sk" x="509.8" y="324.9"/>
<use href="#sk" x="509.9" y="329.6"/>
<use href="#sk" x="510" y="321.3"/>
<use href="#sk" x="510.2" y="311.8"/>
<use href="#sk" x="510.3" y="324.9"/>
<use href="#sk" x="510.4" y="329.6"/>
<use href="#sk" x="510.5" y="318.3"/>
<use href="#sk" x="510.7" y="313.7"/>
<use href="#sk" x="510.8" y="302.5"/>
<use href="#sk" x="510.9" y="324.9"/>
<use href="#sk" x="511" y="329.6"/>
<use href="#sk" x="511.2" y="307.1"/>
<use href="#sk" x="511.3" y="321.3"/>
<use href="#sk" x="511.4" y="303.5"/>
<use href="#sk" x="511.5" y="329.6"/>
<use href="#sk" x="511.6" y="310.1"/>
<use href="#sk" x="511.8" y="329.6"/>
<use href="#sk" x="511.9" y="313.7"/>
<use href="#sk" x="512" y="304.6"/>
<use href="#sk" x="512.1" y="308.5"/>
<use href="#sk" x="512.3" y="318.3"/>
<use href="#sk" x="512.4" y="321.3"/>
<use href="#sk" x="512.5" y="311.8"/>
<use href="#sk" x="512.6" y="321.3"/>
<use href="#sk" x="512.7" y="336.1"/>
<use href="#sk" x="512.9" y="329.6"/>
<use href="#sk" x="513" y="329.6"/>
<use href="#sk" x="513.1" y="329.6"/>
<use href="#sk" x="513.2" y="336.1"/>
<use href="#sk" x="513.4" y="308.5"/>
<use href="#sk" x="513.5" y="318.3"/>
<use href="#sk" x="513.6" y="310.1"/>
<use href="#sk" x="513.7" y="321.3"/>
<use href="#sk" x="513.9" y="318.3"/>
<use href="#sk" x="514" y="336.1"/>
<use href="#sk" x="514.1" y="321.3"/>
<use href="#sk" x="514.2" y="311.8"/>
<use href="#sk" x="514.3" y="329.6"/>
<use href="#sk" x="514.5" y="329.6"/>
<use href="#sk" x="514.6" y="304.6"/>
<use href="#sk" x="514.7" y="311.8"/>
<use href="#sk" x="514.8" y="318.3"/>
<use href="#sk" x="515" y="315.8"/>
<use href="#sk" x="515.1" y="318.3"/>
<use href="#sk" x="515.2" y="321.3"/>
<use href="#sk" x="515.3" y="321.3"/>
<use href="#sk" x="515.4" y="324.9"/>
<use href="#sk" x="515.6" y="329.6"/>
<use href="#sk" x="515.7" y="324.9"/>
<use href="#sk" x="515.8" y="307.1"/>
<use href="#sk" x="515.9" y="313.7"/>
<use href="#sk" x="516.1" y="329.6"/>
<use href="#sk" x="516.2" y="304.6"/>
<use href="#sk" x="516.3" y="336.1"/>
<use href="#sk" x="516.4" y="315.8"/>
<use href="#sk" x="516.6" y="315.8"/>
<use href="#sk" x="516.7" y="329.6"/>
<use href="#sk" x="516.8" y="329.6"/>
<use href="#sk" x="516.9" y="321.3"/>
<use href="#sk" x="517" y="324.9"/>
<use href="#sk" x="517.2" y="321.3"/>
<use href="#sk" x="517.3" y="336.1"/>
<use href="#sk" x="517.4" y="324.9"/>
<use href="#sk" x="517.5" y="329.6"/>
<use href="#sk" x="517.7" y="329.6"/>
<use href="#sk" x="517.8" y="329.6"/>
<use href="#sk" x="517.9" y="324.9"/>
<use href="#sk" x="518" y="321.3"/>
<use href="#sk" x="518.2" y="321.3"/>
<use href="#sk" x="518.3" y="318.3"/>
<use href="#sk" x="518.4" y="329.6"/>
<use href="#sk" x="518.5" y="321.3"/>
<use href="#sk" x="518.6" y="324.9"/>
<use href="#sk" x="518.8" y="329.6"/>
<use href="#sk" x="518.9" y="324.9"/>
<use href="#sk" x="519" y="324.9"/>
<use href="#sk" x="519.1" y="308.5"/>
<use href="#sk" x="519.3" y="329.6"/>
<use href="#sk" x="519.4" y="318.3"/>
<use href="#sk" x="519.5" y="311.8"/>
<use href="#sk" x="519.6" y="329.6"/>
<use href="#sk" x="519.7" y="324.9"/>
<use href="#sk" x="519.9" y="329.6"/>
<use href="#sk" x="520" y="313.7"/>
<use href="#sk" x="520.1" y="304.6"/>
<use href="#sk" x="520.2" y="329.6"/>
<use href="#sk" x="520.4" y="315.8"/>
<use href="#sk" x="520.5" y="329.6"/>
<use href="#sk" x="520.6" y="321.3"/>
<use href="#sk" x="520.7" y="321.3"/>
<use href="#sk" x="520.9" y="324.9"/>
<use href="#sk" x="521" y="329.6"/>
<use href="#sk" x="521.1" y="329.6"/>
<use href="#sk" x="521.2" y="329.6"/>
<use href="#sk" x="521.3" y="329.6"/>
<use href="#sk" x="521.5" y="318.3"/>
<use href="#sk" x="521.6" y="336.1"/>
<use href="#sk" x="521.7" y="307.1"/>
<use href="#sk" x="521.8" y="318.3"/>
<use href="#sk" x="522" y="308.5"/>
<use href="#sk" x="522.1" y="336.1"/>
<use href="#sk" x="522.2" y="308.5"/>
<use href="#sk" x="522.3" y="313.7"/>
<use href="#sk" x="522.4" y="310.1"/>
<use href="#sk" x="522.6" y="324.9"/>
<use href="#sk" x="522.7" y="324.9"/>
<use href="#sk" x="522.8" y="311.8"/>
<use href="#sk" x="522.9" y="308.5"/>
<use href="#sk" x="523.1" y="329.6"/>
<use href="#sk" x="523.2" y="318.3"/>
<use href="#sk" x="523.3" y="318.3"/>
<use href="#sk" x="523.4" y="315.8"/>
<use href="#sk" x="523.6" y="336.1"/>
<use href="#sk" x="523.7" y="329.6"/>
<use href="#sk" x="523.8" y="318.3"/>
<use href="#sk" x="523.9" y="321.3"/>
<use href="#sk" x="524" y="313.7"/>
<use href="#sk" x="524.2" y="310.1"/>
<use href="#sk" x="524.3" y="310.1"/>
<use href="#sk" x="524.4" y="307.1"/>
<use href="#sk" x="524.5" y="329.6"/>
<use href="#sk" x="524.7" y="324.9"/>
<use href="#sk" x="524.8" y="329.6"/>
<use href="#sk" x="524.9" y="329.6"/>
<use href="#sk" x="525" y="308.5"/>
<use href="#sk" x="525.1" y="315.8"/>
<use href="#sk" x="525.3" y="336.1"/>
<use href="#sk" x="525.4" y="321.3"/>
<use href="#sk" x="525.5" y="329.6"/>
<use href="#sk" x="525.6" y="336.1"/>
<use href="#sk" x="525.8" y="318.3"/>
<use href="#sk" x="525.9" y="313.7"/>
<use href="#sk" x="526" y="324.9"/>
<use href="#sk" x="526.1" y="329.6"/>
<use href="#sk" x="526.3" y="310.1"/>
<use href="#sk" x="526.4" y="311.8"/>
<use href="#sk" x="526.5" y="324.9"/>
<use href="#sk" x="526.6" y="308.5"/>
<use href="#sk" x="526.7" y="304.6"/>
<use href="#sk" x="526.9" y="318.3"/>
<use href="#sk" x="527" y="329.6"/>
<use href="#sk" x="527.1" y="336.1"/>
<use href="#sk" x="527.2" y="324.9"/>
<use href="#sk" x="527.4" y="307.1"/>
<use href="#sk" x="527.5" y="321.3"/>
<use href="#sk" x="527.6" y="315.8"/>
<use href="#sk" x="527.7" y="336.1"/>
<use href="#sk" x="527.8" y="324.9"/>
<use href="#sk" x="528" y="310.1"/>
<use href="#sk" x="528.1" y="305.8"/>
<use href="#sk" x="528.2" y="303.5"/>
<use href="#sk" x="528.3" y="321.3"/>
<use href="#sk" x="528.5" y="318.3"/>
<use href="#sk" x="528.6" y="321.3"/>
<use href="#sk" x="528.7" y="300.6"/>
<use href="#sk" x="528.8" y="329.6"/>
<use href="#sk" x="529" y="294.9"/>
<use href="#sk" x="529.1" y="329.6"/>
<use href="#sk" x="529.2" y="336.1"/>
<use href="#sk" x="529.3" y="321.3"/>
<use href="#sk" x="529.4" y="321.3"/>
<use href="#sk" x="529.6" y="324.9"/>
<use href="#sk" x="529.7" y="315.8"/>
<use href="#sk" x="529.8" y="324.9"/>
<use href="#sk" x="529.9" y="321.3"/>
<use href="#sk" x="530.1" y="321.3"/>
<use href="#sk" x="530.2" y="307.1"/>
<use href="#sk" x="530.3" y="329.6"/>
<use href="#sk" x="530.4" y="313.7"/>
<use href="#sk" x="530.5" y="321.3"/>
<use href="#sk" x="530.7" y="324.9"/>
<use href="#sk" x="530.8" y="321.3"/>
<use href="#sk" x="530.9" y="301.5"/>
<use href="#sk" x="531" y="336.1"/>
<use href="#sk" x="531.2" y="308.5"/>
<use href="#sk" x="531.3" y="329.6"/>
<use href="#sk" x="531.4" y="324.9"/>
<use href="#sk" x="531.5" y="324.9"/>
<use href="#sk" x="531.7" y="310.1"/>
<use href="#sk" x="531.8" y="321.3"/>
<use href="#sk" x="531.9" y="311.8"/>
<use href="#sk" x="532" y="308.5"/>
<use href="#sk" x="532.1" y="329.6"/>
<use href="#sk" x="532.3" y="324.9"/>
<use href="#sk" x="532.4" y="307.1"/>
<use href="#sk" x="532.5" y="329.6"/>
<use href="#sk" x="532.6" y="310.1"/>
<use href="#sk" x="532.8" y="308.5"/>
<use href="#sk" x="532.9" y="308.5"/>
<use href="#sk" x="533" y="310.1"/>
<use href="#sk" x="533.1" y="305.8"/>
<use href="#sk" x="533.2" y="329.6"/>
<use href="#sk" x="533.4" y="336.1"/>
<use href="#sk" x="533.5" y="321.3"/>
<use href="#sk" x="533.6" y="324.9"/>
<use href="#sk" x="533.7" y="307.1"/>
<use href="#sk" x="533.9" y="318.3"/>
<use href="#sk" x="534" y="329.6"/>
<use href="#sk" x="534.1" y="315.8"/>
<use href="#sk" x="534.2" y="315.8"/>
<use href="#sk" x="534.4" y="329.6"/>
<use href="#sk" x="534.5" y="305.8"/>
<use href="#sk" x="534.6" y="336.1"/>
<use href="#sk" x="534.7" y="307.1"/>
<use href="#sk" x="534.8" y="311.8"/>
<use href="#sk" x="535" y="310.1"/>
<use href="#sk" x="535.1" y="315.8"/>
<use href="#sk" x="535.2" y="336.1"/>
<use href="#sk" x="535.3" y="336.1"/>
<use href="#sk" x="535.5" y="321.3"/>
<use href="#sk" x="535.6" y="310.1"/>
<use href="#sk" x="535.7" y="329.6"/>
<use href="#sk" x="535.8" y="321.3"/>
<use href="#sk" x="535.9" y="315.8"/>
<use href="#sk" x="536.1" y="324.9"/>
<use href="#sk" x="536.2" y="308.5"/>
<use href="#sk" x="536.3" y="329.6"/>
<use href="#sk" x="536.4" y="310.1"/>
<use href="#sk" x="536.6" y="329.6"/>
<use href="#sk" x="536.7" y="324.9"/>
<use href="#sk" x="536.8" y="329.6"/>
<use href="#sk" x="536.9" y="318.3"/>
<use href="#sk" x="537.1" y="318.3"/>
<use href="#sk" x="537.2" y="336.1"/>
<use href="#sk" x="537.3" y="318.3"/>
<use href="#sk" x="537.4" y="318.3"/>
<use href="#sk" x="537.5" y="329.6"/>
<use href="#sk" x="537.7" y="307.1"/>
<use href="#sk" x="537.8" y="310.1"/>
<use href="#sk" x="537.9" y="313.7"/>
<use href="#sk" x="538" y="311.8"/>
<use href="#sk" x="538.2" y="329.6"/>
<use href="#sk" x="538.3" y="321.3"/>
<use href="#sk" x="538.4" y="305.8"/>
<use href="#sk" x="538.5" y="315.8"/>
<use href="#sk" x="538.6" y="321.3"/>
<use href="#sk" x="538.8" y="321.3"/>
<use href="#sk" x="538.9" y="324.9"/>
<use href="#sk" x="539" y="329.6"/>
<use href="#sk" x="539.1" y="329.6"/>
<use href="#sk" x="539.3" y="321.3"/>
<use href="#sk" x="539.4" y="329.6"/>
<use href="#sk" x="539.5" y="307.1"/>
<use href="#sk" x="539.6" y="315.8"/>
<use href="#sk" x="539.8" y="336.1"/>
<use href="#sk" x="539.9" y="336.1"/>
<use href="#sk" x="540" y="329.6"/>
<use href="#sk" x="540.1" y="308.5"/>
<use href="#sk" x="540.2" y="307.1"/>
<use href="#sk" x="540.4" y="336.1"/>
<use href="#sk" x="540.5" y="311.8"/>
<use href="#sk" x="540.6" y="311.8"/>
<use href="#sk" x="540.7" y="329.6"/>
<use href="#sk" x="540.9" y="329.6"/>
<use href="#sk" x="541" y="329.6"/>
<use href="#sk" x="541.1" y="329.6"/>
<use href="#sk" x="541.2" y="318.3"/>
<use href="#sk" x="541.4" y="336.1"/>
<use href="#sk" x="541.5" y="329.6"/>
<use href="#sk" x="541.6" y="321.3"/>
<use href="#sk" x="541.7" y="324.9"/>
<use href="#sk" x="541.8" y="324.9"/>
<use href="#sk" x="542" y="308.5"/>
<use href="#sk" x="542.1" y="310.1"/>
<use href="#sk" x="542.2" y="321.3"/>
<use href="#sk" x="542.3" y="307.1"/>
<use href="#sk" x="542.5" y="313.7"/>
<use href="#sg" x="343.6" y="200.6"/>
<use href="#sg" x="343.7" y="203.8"/>
<use href="#sg" x="343.8" y="201.8"/>
<use href="#sg" x="344" y="200.2"/>
<use href="#sg" x="344.1" y="206.2"/>
<use href="#sg" x="344.2" y="204.8"/>
<use href="#sg" x="344.3" y="204.7"/>
<use href="#sg" x="344.5" y="204.7"/>
<use href="#sg" x="344.6" y="203.8"/>
<use href="#sg" x="344.7" y="202.5"/>
<use href="#sg" x="344.8" y="201.8"/>
<use href="#sg" x="345" y="207.4"/>
<use href="#sg" x="345.1" y="204.3"/>
<use href="#sg" x="345.2" y="208.3"/>
<use href="#sg" x="345.3" y="209.6"/>
<use href="#sg" x="345.4" y="204.5"/>
<use href="#sg" x="345.6" y="207.8"/>
<use href="#sg" x="345.7" y="209.1"/>
<use href="#sg" x="345.8" y="205.4"/>
<use href="#sg" x="345.9" y="202"/>
<use href="#sg" x="346.1" y="211.3"/>
<use href="#sg" x="346.2" y="211.5"/>
<use href="#sg" x="346.3" y="206.6"/>
<use href="#sg" x="346.4" y="204.8"/>
<use href="#sg" x="346.5" y="209.4"/>
<use href="#sg" x="346.7" y="208.1"/>
<use href="#sg" x="346.8" y="204.1"/>
<use href="#sg" x="346.9" y="210.1"/>
<use href="#sg" x="347" y="201.8"/>
<use href="#sg" x="347.2" y="212"/>
<use href="#sg" x="347.3" y="206.6"/>
<use href="#sg" x="347.4" y="212.1"/>
<use href="#sg" x="347.5" y="204.3"/>
<use href="#sg" x="347.7" y="206.6"/>
<use href="#sg" x="347.8" y="214.3"/>
<use href="#sg" x="347.9" y="209.9"/>
<use href="#sg" x="348" y="213.6"/>
<use href="#sg" x="348.1" y="216.7"/>
<use href="#sg" x="348.3" y="211.7"/>
<use href="#sg" x="348.4" y="215.9"/>
<use href="#sg" x="348.5" y="215.8"/>
<use href="#sg" x="348.6" y="213.6"/>
<use href="#sg" x="348.8" y="219"/>
<use href="#sg" x="348.9" y="213.3"/>
<use href="#sg" x="349" y="217.2"/>
<use href="#sg" x="349.1" y="207.1"/>
<use href="#sg" x="349.2" y="213.8"/>
<use href="#sg" x="349.4" y="205.3"/>
<use href="#sg" x="349.5" y="218"/>
<use href="#sg" x="349.6" y="211.1"/>
<use href="#sg" x="349.7" y="208.6"/>
<use href="#sg" x="349.9" y="208.9"/>
<use href="#sg" x="350" y="218.4"/>
<use href="#sg" x="350.1" y="220.6"/>
<use href="#sg" x="350.2" y="212.6"/>
<use href="#sg" x="350.4" y="218.7"/>
<use href="#sg" x="350.5" y="219.1"/>
<use href="#sg" x="350.6" y="213.3"/>
<use href="#sg" x="350.7" y="219.5"/>
<use href="#sg" x="350.8" y="215.5"/>
<use href="#sg" x="351" y="221.2"/>
<use href="#sg" x="351.1" y="213.8"/>
<use href="#sg" x="351.2" y="220.1"/>
<use href="#sg" x="351.3" y="212.2"/>
<use href="#sg" x="351.5" y="218.4"/>
<use href="#sg" x="351.6" y="216.3"/>
<use href="#sg" x="351.7" y="223.4"/>
<use href="#sg" x="351.8" y="213.6"/>
<use href="#sg" x="351.9" y="223.8"/>
<use href="#sg" x="352.1" y="221.1"/>
<use href="#sg" x="352.2" y="218.4"/>
<use href="#sg" x="352.3" y="224"/>
<use href="#sg" x="352.4" y="218.2"/>
<use href="#sg" x="352.6" y="217.6"/>
<use href="#sg" x="352.7" y="223.5"/>
<use href="#sg" x="352.8" y="221.8"/>
<use href="#sg" x="352.9" y="215.8"/>
<use href="#sg" x="353.1" y="225"/>
<use href="#sg" x="353.2" y="217.2"/>
<use href="#sg" x="353.3" y="217.7"/>
<use href="#sg" x="353.4" y="225.2"/>
<use href="#sg" x="353.5" y="216.8"/>
<use href="#sg" x="353.7" y="216.6"/>
<use href="#sg" x="353.8" y="218.5"/>
<use href="#sg" x="353.9" y="216.5"/>
<use href="#sg" x="354" y="215.4"/>
<use href="#sg" x="354.2" y="216.7"/>
<use href="#sg" x="354.3" y="228.7"/>
<use href="#sg" x="354.4" y="216.8"/>
<use href="#sg" x="354.5" y="224.9"/>
<use href="#sg" x="354.6" y="227.7"/>
<use href="#sg" x="354.8" y="217.5"/>
<use href="#sg" x="354.9" y="223.9"/>
<use href="#sg" x="355" y="227.2"/>
<use href="#sg" x="355.1" y="229.7"/>
<use href="#sg" x="355.3" y="220.1"/>
<use href="#sg" x="355.4" y="219.8"/>
<use href="#sg" x="355.5" y="225"/>
<use href="#sg" x="355.6" y="227.1"/>
<use href="#sg" x="355.8" y="222.5"/>
<use href="#sg" x="355.9" y="227.3"/>
<use href="#sg" x="356" y="229.3"/>
<use href="#sg" x="356.1" y="225"/>
<use href="#sg" x="356.2" y="227.8"/>
<use href="#sg" x="356.4" y="225.3"/>
<use href="#sg" x="356.5" y="228.1"/>
<use href="#sg" x="356.6" y="232.3"/>
<use href="#sg" x="356.7" y="227.7"/>
<use href="#sg" x="356.9" y="231.7"/>
<use href="#sg" x="357" y="223.8"/>
<use href="#sg" x="357.1" y="231.1"/>
<use href="#sg" x="357.2" y="225.9"/>
<use href="#sg" x="357.3" y="228.6"/>
<use href="#sg" x="357.5" y="222.6"/>
<use href="#sg" x="357.6" y="222.4"/>
<use href="#sg" x="357.7" y="229.2"/>
<use href="#sg" x="357.8" y="230.8"/>
<use href="#sg" x="358" y="226.4"/>
<use href="#sg" x="358.1" y="231.6"/>
<use href="#sg" x="358.2" y="232.6"/>
<use href="#sg" x="358.3" y="234"/>
<use href="#sg" x="358.5" y="224.5"/>
<use href="#sg" x="358.6" y="233.1"/>
<use href="#sg" x="358.7" y="230.3"/>
<use href="#sg" x="358.8" y="225.2"/>
<use href="#sg" x="358.9" y="227.8"/>
<use href="#sg" x="359.1" y="236.3"/>
<use href="#sg" x="359.2" y="228.4"/>
<use href="#sg" x="359.3" y="227.1"/>
<use href="#sg" x="359.4" y="233.4"/>
<use href="#sg" x="359.6" y="226"/>
<use href="#sg" x="359.7" y="227.1"/>
<use href="#sg" x="359.8" y="226.9"/>
<use href="#sg" x="359.9" y="228.4"/>
<use href="#sg" x="360" y="235.1"/>
<use href="#sg" x="360.2" y="234.6"/>
<use href="#sg" x="360.3" y="237.7"/>
<use href="#sg" x="360.4" y="232.5"/>
<use href="#sg" x="360.5" y="228.2"/>
<use href="#sg" x="360.7" y="235"/>
<use href="#sg" x="360.8" y="233.8"/>
<use href="#sg" x="360.9" y="226"/>
<use href="#sg" x="361" y="236.3"/>
<use href="#sg" x="361.2" y="228.6"/>
<use href="#sg" x="361.3" y="231.3"/>
<use href="#sg" x="361.4" y="239.4"/>
<use href="#sg" x="361.5" y="239"/>
<use href="#sg" x="361.6" y="232.2"/>
<use href="#sg" x="361.8" y="234.3"/>
<use href="#sg" x="361.9" y="237.6"/>
<use href="#sg" x="362" y="232.4"/>
<use href="#sg" x="362.1" y="239.7"/>
<use href="#sg" x="362.3" y="237.5"/>
<use href="#sg" x="362.4" y="237.8"/>
<use href="#sg" x="362.5" y="236.6"/>
<use href="#sg" x="362.6" y="236.1"/>
<use href="#sg" x="362.7" y="232.2"/>
<use href="#sg" x="362.9" y="233.1"/>
<use href="#sg" x="363" y="238.9"/>
<use href="#sg" x="363.1" y="235.5"/>
<use href="#sg" x="363.2" y="233.5"/>
<use href="#sg" x="363.4" y="237.3"/>
<use href="#sg" x="363.5" y="242.6"/>
<use href="#sg" x="363.6" y="235.9"/>
<use href="#sg" x="363.7" y="242.8"/>
<use href="#sg" x="363.9" y="235.4"/>
<use href="#sg" x="364" y="233.8"/>
<use href="#sg" x="364.1" y="238.9"/>
<use href="#sg" x="364.2" y="235.4"/>
<use href="#sg" x="364.3" y="234.1"/>
<use href="#sg" x="364.5" y="241.6"/>
<use href="#sg" x="364.6" y="242.4"/>
<use href="#sg" x="364.7" y="244.8"/>
<use href="#sg" x="364.8" y="237.4"/>
<use href="#sg" x="365" y="235.8"/>
<use href="#sg" x="365.1" y="242"/>
<use href="#sg" x="365.2" y="237.7"/>
<use href="#sg" x="365.3" y="244.5"/>
<use href="#sg" x="365.4" y="243.4"/>
<use href="#sg" x="365.6" y="244.1"/>
<use href="#sg" x="365.7" y="238.9"/>
<use href="#sg" x="365.8" y="245.2"/>
<use href="#sg" x="365.9" y="246"/>
<use href="#sg" x="366.1" y="235.9"/>
<use href="#sg" x="366.2" y="242.5"/>
<use href="#sg" x="366.3" y="237.4"/>
<use href="#sg" x="366.4" y="238.6"/>
<use href="#sg" x="366.6" y="239.9"/>
<use href="#sg" x="366.7" y="239.5"/>
<use href="#sg" x="366.8" y="243.4"/>
<use href="#sg" x="366.9" y="238.9"/>
<use href="#sg" x="367" y="245.3"/>
<use href="#sg" x="367.2" y="244.5"/>
<use href="#sg" x="367.3" y="239.4"/>
<use href="#sg" x="367.4" y="238.9"/>
<use href="#sg" x="367.5" y="242.5"/>
<use href="#sg" x="367.7" y="247"/>
<use href="#sg" x="367.8" y="244.9"/>
<use href="#sg" x="367.9" y="241.1"/>
<use href="#sg" x="368" y="242.8"/>
<use href="#sg" x="368.2" y="241.2"/>
<use href="#sg" x="368.3" y="248.6"/>
<use href="#sg" x="368.4" y="243.4"/>
<use href="#sg" x="368.5" y="246.8"/>
<use href="#sg" x="368.6" y="247"/>
<use href="#sg" x="368.8" y="246.4"/>
<use href="#sg" x="368.9" y="244.7"/>
<use href="#sg" x="369" y="249.3"/>
<use href="#sg" x="369.1" y="241.5"/>
<use href="#sg" x="369.3" y="246.2"/>
<use href="#sg" x="369.4" y="246.8"/>
<use href="#sg" x="369.5" y="248.2"/>
<use href="#sg" x="369.6" y="246.9"/>
<use href="#sg" x="369.7" y="249.4"/>
<use href="#sg" x="369.9" y="247.2"/>
<use href="#sg" x="370" y="245.4"/>
<use href="#sg" x="370.1" y="245.6"/>
<use href="#sg" x="370.2" y="250.1"/>
<use href="#sg" x="370.4" y="244.3"/>
<use href="#sg" x="370.5" y="247.9"/>
<use href="#sg" x="370.6" y="243"/>
<use href="#sg" x="370.7" y="252.5"/>
<use href="#sg" x="370.9" y="250.3"/>
<use href="#sg" x="371" y="248.7"/>
<use href="#sg" x="371.1" y="249.2"/>
<use href="#sg" x="371.2" y="242.6"/>
<use href="#sg" x="371.3" y="245.2"/>
<use href="#sg" x="371.5" y="245.3"/>
<use href="#sg" x="371.6" y="251.6"/>
<use href="#sg" x="371.7" y="247.9"/>
<use href="#sg" x="371.8" y="251"/>
<use href="#sg" x="372" y="250.8"/>
<use href="#sg" x="372.1" y="246.9"/>
<use href="#sg" x="372.2" y="249.6"/>
<use href="#sg" x="372.3" y="249.8"/>
<use href="#sg" x="372.4" y="251.7"/>
<use href="#sg" x="372.6" y="253.2"/>
<use href="#sg" x="372.7" y="251"/>
<use href="#sg" x="372.8" y="251"/>
<use href="#sg" x="372.9" y="248.2"/>
<use href="#sg" x="373.1" y="250.9"/>
<use href="#sg" x="373.2" y="249.8"/>
<use href="#sg" x="373.3" y="247.2"/>
<use href="#sg" x="373.4" y="254.6"/>
<use href="#sg" x="373.6" y="250.4"/>
<use href="#sg" x="373.7" y="250.1"/>
<use href="#sg" x="373.8" y="253.3"/>
<use href="#sg" x="373.9" y="249.9"/>
<use href="#sg" x="374" y="252.7"/>
<use href="#sg" x="374.2" y="251.9"/>
<use href="#sg" x="374.3" y="250.3"/>
<use href="#sg" x="374.4" y="254"/>
<use href="#sg" x="374.5" y="253.2"/>
<use href="#sg" x="374.7" y="252.1"/>
<use href="#sg" x="374.8" y="253.8"/>
<use href="#sg" x="374.9" y="253.7"/>
<use href="#sg" x="375" y="255.4"/>
<use href="#sg" x="375.1" y="255.8"/>
<use href="#sg" x="375.3" y="252.1"/>
<use href="#sg" x="375.4" y="253.2"/>
<use href="#sg" x="375.5" y="252.5"/>
<use href="#sg" x="375.6" y="253.3"/>
<use href="#sg" x="375.8" y="254"/>
<use href="#sg" x="375.9" y="258.1"/>
<use href="#sg" x="376" y="257.1"/>
<use href="#sg" x="376.1" y="249.5"/>
<use href="#sg" x="376.3" y="252.5"/>
<use href="#sg" x="376.4" y="251.8"/>
<use href="#sg" x="376.5" y="252"/>
<use href="#sg" x="376.6" y="253.7"/>
<use href="#sg" x="376.7" y="255.1"/>
<use href="#sg" x="376.9" y="258.2"/>
<use href="#sg" x="377" y="255.3"/>
<use href="#sg" x="377.1" y="255.1"/>
<use href="#sg" x="377.2" y="257.5"/>
<use href="#sg" x="377.4" y="257.9"/>
<use href="#sg" x="377.5" y="254.3"/>
<use href="#sg" x="377.6" y="254.4"/>
<use href="#sg" x="377.7" y="255.5"/>
<use href="#sg" x="377.8" y="256.6"/>
<use href="#sg" x="378" y="258.5"/>
<use href="#sg" x="378.1" y="259.3"/>
<use href="#sg" x="378.2" y="257.2"/>
<use href="#sg" x="378.3" y="258.6"/>
<use href="#sg" x="378.5" y="258.7"/>
<use href="#sg" x="378.6" y="260.2"/>
<use href="#sg" x="378.7" y="257.1"/>
<use href="#sg" x="378.8" y="256.9"/>
<use href="#sg" x="379" y="256.7"/>
<use href="#sg" x="379.1" y="256.3"/>
<use href="#sg" x="379.2" y="254.5"/>
<use href="#sg" x="379.3" y="254.9"/>
<use href="#sg" x="379.4" y="254"/>
<use href="#sg" x="379.6" y="258.3"/>
<use href="#sg" x="379.7" y="260.8"/>
<use href="#sg" x="379.8" y="255.3"/>
<use href="#sg" x="379.9" y="261.3"/>
<use href="#sg" x="380.1" y="261.2"/>
<use href="#sg" x="380.2" y="257.5"/>
<use href="#sg" x="380.3" y="259.8"/>
<use href="#sg" x="380.4" y="263.2"/>
<use href="#sg" x="380.5" y="256.7"/>
<use href="#sg" x="380.7" y="258.1"/>
<use href="#sg" x="380.8" y="260"/>
<use href="#sg" x="380.9" y="256.7"/>
<use href="#sg" x="381" y="262.4"/>
<use href="#sg" x="381.2" y="261"/>
<use href="#sg" x="381.3" y="257.8"/>
<use href="#sg" x="381.4" y="258.6"/>
<use href="#sg" x="381.5" y="256.8"/>
<use href="#sg" x="381.7" y="256.5"/>
<use href="#sg" x="381.8" y="261.5"/>
<use href="#sg" x="381.9" y="262.2"/>
<use href="#sg" x="382" y="260.3"/>
<use href="#sg" x="382.1" y="262.7"/>
<use href="#sg" x="382.3" y="265.6"/>
<use href="#sg" x="382.4" y="263.1"/>
<use href="#sg" x="382.5" y="262.7"/>
<use href="#sg" x="382.6" y="264.6"/>
<use href="#sg" x="382.8" y="261.7"/>
<use href="#sg" x="382.9" y="266.6"/>
<use href="#sg" x="383" y="264.3"/>
<use href="#sg" x="383.1" y="262.1"/>
<use href="#sg" x="383.2" y="266.3"/>
<use href="#sg" x="383.4" y="260.1"/>
<use href="#sg" x="383.5" y="266.8"/>
<use href="#sg" x="383.6" y="259.7"/>
<use href="#sg" x="383.7" y="265.9"/>
<use href="#sg" x="383.9" y="262.6"/>
<use href="#sg" x="384" y="264.2"/>
<use href="#sg" x="384.1" y="261.3"/>
<use href="#sg" x="384.2" y="264"/>
<use href="#sg" x="384.4" y="259.9"/>
<use href="#sg" x="384.5" y="268.2"/>
<use href="#sg" x="384.6" y="267.1"/>
<use href="#sg" x="384.7" y="263.7"/>
<use href="#sg" x="384.8" y="268.8"/>
<use href="#sg" x="385" y="265.3"/>
<use href="#sg" x="385.1" y="268.1"/>
<use href="#sg" x="385.2" y="267.1"/>
<use href="#sg" x="385.3" y="265.5"/>
<use href="#sg" x="385.5" y="268.1"/>
<use href="#sg" x="385.6" y="267.3"/>
<use href="#sg" x="385.7" y="269.2"/>
<use href="#sg" x="385.8" y="266.9"/>
<use href="#sg" x="385.9" y="268"/>
<use href="#sg" x="386.1" y="266.5"/>
<use href="#sg" x="386.2" y="266.7"/>
<use href="#sg" x="386.3" y="268.6"/>
<use href="#sg" x="386.4" y="267.4"/>
<use href="#sg" x="386.6" y="266.2"/>
<use href="#sg" x="386.7" y="264.6"/>
<use href="#sg" x="386.8" y="264.2"/>
<use href="#sg" x="386.9" y="267.5"/>
<use href="#sg" x="387.1" y="273.2"/>
<use href="#sg" x="387.2" y="270"/>
<use href="#sg" x="387.3" y="270.3"/>
<use href="#sg" x="387.4" y="267.6"/>
<use href="#sg" x="387.5" y="270"/>
<use href="#sg" x="387.7" y="271.4"/>
<use href="#sg" x="387.8" y="271.7"/>
<use href="#sg" x="387.9" y="269.5"/>
<use href="#sg" x="388" y="271.8"/>
<use href="#sg" x="388.2" y="273.9"/>
<use href="#sg" x="388.3" y="275.4"/>
<use href="#sg" x="388.4" y="271"/>
<use href="#sg" x="388.5" y="267.9"/>
<use href="#sg" x="388.6" y="266.3"/>
<use href="#sg" x="388.8" y="268.6"/>
<use href="#sg" x="388.9" y="271"/>
<use href="#sg" x="389" y="269"/>
<use href="#sg" x="389.1" y="271.3"/>
<use href="#sg" x="389.3" y="272.2"/>
<use href="#sg" x="389.4" y="274"/>
<use href="#sg" x="389.5" y="269.7"/>
<use href="#sg" x="389.6" y="275.8"/>
<use href="#sg" x="389.8" y="263.9"/>
<use href="#sg" x="389.9" y="269.4"/>
<use href="#sg" x="390" y="272.9"/>
<use href="#sg" x="390.1" y="272"/>
<use href="#sg" x="390.2" y="266.9"/>
<use href="#sg" x="390.4" y="273"/>
<use href="#sg" x="390.5" y="274.4"/>
<use href="#sg" x="390.6" y="268.4"/>
<use href="#sg" x="390.7" y="273.4"/>
<use href="#sg" x="390.9" y="275.5"/>
<use href="#sg" x="391" y="273.6"/>
<use href="#sg" x="391.1" y="272.4"/>
<use href="#sg" x="391.2" y="273.6"/>
<use href="#sg" x="391.3" y="275.2"/>
<use href="#sg" x="391.5" y="272.3"/>
<use href="#sg" x="391.6" y="273.6"/>
<use href="#sg" x="391.7" y="271.6"/>
<use href="#sg" x="391.8" y="277.4"/>
<use href="#sg" x="392" y="277.8"/>
<use href="#sg" x="392.1" y="276.4"/>
<use href="#sg" x="392.2" y="269.6"/>
<use href="#sg" x="392.3" y="276.7"/>
<use href="#sg" x="392.5" y="277.7"/>
<use href="#sg" x="392.6" y="274.7"/>
<use href="#sg" x="392.7" y="278.1"/>
<use href="#sg" x="392.8" y="275.2"/>
<use href="#sg" x="392.9" y="279.2"/>
<use href="#sg" x="393.1" y="279.6"/>
<use href="#sg" x="393.2" y="280.6"/>
<use href="#sg" x="393.3" y="277.6"/>
<use href="#sg" x="393.4" y="276"/>
<use href="#sg" x="393.6" y="279.1"/>
<use href="#sg" x="393.7" y="276.3"/>
<use href="#sg" x="393.8" y="275.2"/>
<use href="#sg" x="393.9" y="277.4"/>
<use href="#sg" x="394.1" y="279.5"/>
<use href="#sg" x="394.2" y="281.9"/>
<use href="#sg" x="394.3" y="282.3"/>
<use href="#sg" x="394.4" y="283.1"/>
<use href="#sg" x="394.5" y="274.9"/>
<use href="#sg" x="394.7" y="287"/>
<use href="#sg" x="394.8" y="281.7"/>
<use href="#sg" x="394.9" y="274.3"/>
<use href="#sg" x="395" y="276.2"/>
<use href="#sg" x="395.2" y="285.7"/>
<use href="#sg" x="395.3" y="280"/>
<use href="#sg" x="395.4" y="275.9"/>
<use href="#sg" x="395.5" y="276.8"/>
<use href="#sg" x="395.6" y="276.7"/>
<use href="#sg" x="395.8" y="287.9"/>
<use href="#sg" x="395.9" y="279"/>
<use href="#sg" x="396" y="272.1"/>
<use href="#sg" x="396.1" y="277.6"/>
<use href="#sg" x="396.3" y="283.7"/>
<use href="#sg" x="396.4" y="277.9"/>
<use href="#sg" x="396.5" y="272.3"/>
<use href="#sg" x="396.6" y="292.7"/>
<use href="#sg" x="396.8" y="280.7"/>
<use href="#sg" x="396.9" y="285.8"/>
<use href="#sg" x="397" y="292.4"/>
<use href="#sg" x="397.1" y="285.3"/>
<use href="#sg" x="397.2" y="281.5"/>
<use href="#sg" x="397.4" y="290.3"/>
<use href="#sg" x="397.5" y="288"/>
<use href="#sg" x="397.6" y="290"/>
<use href="#sg" x="397.7" y="298.3"/>
<use href="#sg" x="397.9" y="288.7"/>
<use href="#sg" x="398" y="275.1"/>
<use href="#sg" x="398.1" y="291.8"/>
<use href="#sg" x="398.2" y="280.3"/>
<use href="#sg" x="398.3" y="298.3"/>
<use href="#sg" x="398.5" y="293.9"/>
<use href="#sg" x="398.6" y="291.3"/>
<use href="#sg" x="398.7" y="288.5"/>
<use href="#sg" x="398.8" y="288"/>
<use href="#sg" x="399" y="287.3"/>
<use href="#sg" x="399.1" y="301.5"/>
<use href="#sg" x="399.2" y="267.6"/>
<use href="#sg" x="399.3" y="292"/>
<use href="#sg" x="399.5" y="291.5"/>
<use href="#sg" x="399.6" y="301.5"/>
<use href="#sg" x="399.7" y="296.9"/>
<use href="#sg" x="399.8" y="280.4"/>
<use href="#sg" x="399.9" y="290.3"/>
<use href="#sg" x="400.1" y="291"/>
<use href="#sg" x="400.2" y="298.9"/>
<use href="#sg" x="400.3" y="302.5"/>
<use href="#sg" x="400.4" y="287.3"/>
<use href="#sg" x="400.6" y="296.7"/>
<use href="#sg" x="400.7" y="292.9"/>
<use href="#sg" x="400.8" y="302.5"/>
<use href="#sg" x="400.9" y="291.5"/>
<use href="#sg" x="401" y="310.1"/>
<use href="#sg" x="401.2" y="282"/>
<use href="#sg" x="401.3" y="285.5"/>
<use href="#sg" x="401.4" y="307.1"/>
<use href="#sg" x="401.5" y="310.1"/>
<use href="#sg" x="401.7" y="301.5"/>
<use href="#sg" x="401.8" y="304.6"/>
<use href="#sg" x="401.9" y="289.6"/>
<use href="#sg" x="402" y="286.9"/>
<use href="#sg" x="402.2" y="283.5"/>
<use href="#sg" x="402.3" y="315.8"/>
<use href="#sg" x="402.4" y="287.6"/>
<use href="#sg" x="402.5" y="308.5"/>
<use href="#sg" x="402.6" y="295.9"/>
<use href="#sg" x="402.8" y="296.7"/>
<use href="#sg" x="402.9" y="313.7"/>
<use href="#sg" x="403" y="288"/>
<use href="#sg" x="403.1" y="284.5"/>
<use href="#sg" x="403.3" y="285.7"/>
<use href="#sg" x="403.4" y="305.8"/>
<use href="#sg" x="403.5" y="308.5"/>
<use href="#sg" x="403.6" y="321.3"/>
<use href="#sg" x="403.7" y="299"/>
<use href="#sg" x="403.9" y="303.5"/>
<use href="#sg" x="404" y="294.8"/>
<use href="#sg" x="404.1" y="313.7"/>
<use href="#sg" x="404.2" y="277.7"/>
<use href="#sg" x="404.4" y="295.8"/>
<use href="#sg" x="404.5" y="291.2"/>
<use href="#sg" x="404.6" y="291.6"/>
<use href="#sg" x="404.7" y="301.5"/>
<use href="#sg" x="404.9" y="313.7"/>
<use href="#sg" x="405" y="318.3"/>
<use href="#sg" x="405.1" y="329.6"/>
<use href="#sg" x="405.2" y="301.5"/>
<use href="#sg" x="405.3" y="313.7"/>
<use href="#sg" x="405.5" y="284.6"/>
<use href="#sg" x="405.6" y="300.6"/>
<use href="#sg" x="405.7" y="308.5"/>
<use href="#sg" x="405.8" y="284.2"/>
<use href="#sg" x="406" y="321.3"/>
<use href="#sg" x="406.1" y="310.1"/>
<use href="#sg" x="406.2" y="297"/>
<use href="#sg" x="406.3" y="286.5"/>
<use href="#sg" x="406.4" y="321.3"/>
<use href="#sg" x="406.6" y="283.3"/>
<use href="#sg" x="406.7" y="298.5"/>
<use href="#sg" x="406.8" y="329.6"/>
<use href="#sg" x="406.9" y="300.6"/>
<use href="#sg" x="407.1" y="284.8"/>
<use href="#sg" x="407.2" y="313.7"/>
<use href="#sg" x="407.3" y="292.3"/>
<use href="#sg" x="407.4" y="303.5"/>
<use href="#sg" x="407.6" y="300.6"/>
<use href="#sg" x="407.7" y="295.4"/>
<use href="#sg" x="407.8" y="307.1"/>
<use href="#sg" x="407.9" y="324.9"/>
<use href="#sg" x="408" y="291.2"/>
<use href="#sg" x="408.2" y="293.5"/>
<use href="#sg" x="408.3" y="302.5"/>
<use href="#sg" x="408.4" y="321.3"/>
<use href="#sg" x="408.5" y="321.3"/>
<use href="#sg" x="408.7" y="282.6"/>
<use href="#sg" x="408.8" y="290"/>
<use href="#sg" x="408.9" y="324.9"/>
<use href="#sg" x="409" y="324.9"/>
<use href="#sg" x="409.1" y="287.2"/>
<use href="#sg" x="409.3" y="315.8"/>
<use href="#sg" x="409.4" y="292.2"/>
<use href="#sg" x="409.5" y="321.3"/>
<use href="#sg" x="409.6" y="298"/>
<use href="#sg" x="409.8" y="307.1"/>
<use href="#sg" x="409.9" y="301.5"/>
<use href="#sg" x="410" y="318.3"/>
<use href="#sg" x="410.1" y="291.7"/>
<use href="#sg" x="410.3" y="324.9"/>
<use href="#sg" x="410.4" y="321.3"/>
<use href="#sg" x="410.5" y="294.1"/>
<use href="#sg" x="410.6" y="296.2"/>
<use href="#sg" x="410.7" y="297.3"/>
<use href="#sg" x="410.9" y="310.1"/>
<use href="#sg" x="411" y="313.7"/>
<use href="#sg" x="411.1" y="324.9"/>
<use href="#sg" x="411.2" y="321.3"/>
<use href="#sg" x="411.4" y="313.7"/>
<use href="#sg" x="411.5" y="321.3"/>
<use href="#sg" x="411.6" y="318.3"/>
<use href="#sg" x="411.7" y="329.6"/>
<use href="#sg" x="411.8" y="313.7"/>
<use href="#sg" x="412" y="305.8"/>
<use href="#sg" x="412.1" y="289.8"/>
<use href="#sg" x="412.2" y="311.8"/>
<use href="#sg" x="412.3" y="279.5"/>
<use href="#sg" x="412.5" y="302.5"/>
<use href="#sg" x="412.6" y="324.9"/>
<use href="#sg" x="412.7" y="329.6"/>
<use href="#sg" x="412.8" y="304.6"/>
<use href="#sg" x="413" y="303.5"/>
<use href="#sg" x="413.1" y="295.4"/>
<use href="#sg" x="413.2" y="305.8"/>
<use href="#sg" x="413.3" y="301.5"/>
<use href="#sg" x="413.4" y="318.3"/>
<use href="#sg" x="413.6" y="305.8"/>
<use href="#sg" x="413.7" y="286.9"/>
<use href="#sg" x="413.8" y="321.3"/>
<use href="#sg" x="413.9" y="292.6"/>
<use href="#sg" x="414.1" y="311.8"/>
<use href="#sg" x="414.2" y="321.3"/>
<use href="#sg" x="414.3" y="293.5"/>
<use href="#sg" x="414.4" y="298.9"/>
<use href="#sg" x="414.5" y="296.1"/>
<use href="#sg" x="414.7" y="305.8"/>
<use href="#sg" x="414.8" y="311.8"/>
<use href="#sg" x="414.9" y="324.9"/>
<use href="#sg" x="415" y="315.8"/>
<use href="#sg" x="415.2" y="301.5"/>
<use href="#sg" x="415.3" y="293.7"/>
<use href="#sg" x="415.4" y="297.6"/>
<use href="#sg" x="415.5" y="292.1"/>
<use href="#sg" x="415.7" y="287.2"/>
<use href="#sg" x="415.8" y="313.7"/>
<use href="#sg" x="415.9" y="305.8"/>
<use href="#sg" x="416" y="329.6"/>
<use href="#sg" x="416.1" y="289.1"/>
<use href="#sg" x="416.3" y="305.8"/>
<use href="#sg" x="416.4" y="311.8"/>
<use href="#sg" x="416.5" y="295.1"/>
<use href="#sg" x="416.6" y="324.9"/>
<use href="#sg" x="416.8" y="297.1"/>
<use href="#sg" x="416.9" y="324.9"/>
<use href="#sg" x="417" y="285"/>
<use href="#sg" x="417.1" y="313.7"/>
<use href="#sg" x="417.3" y="315.8"/>
<use href="#sg" x="417.4" y="289.4"/>
<use href="#sg" x="417.5" y="290.2"/>
<use href="#sg" x="417.6" y="321.3"/>
<use href="#sg" x="417.7" y="308.5"/>
<use href="#sg" x="417.9" y="294.3"/>
<use href="#sg" x="418" y="305.8"/>
<use href="#sg" x="418.1" y="315.8"/>
<use href="#sg" x="418.2" y="292"/>
<use href="#sg" x="418.4" y="308.5"/>
<use href="#sg" x="418.5" y="300.6"/>
<use href="#sg" x="418.6" y="302.5"/>
<use href="#sg" x="418.7" y="291.9"/>
<use href="#sg" x="418.8" y="289.5"/>
<use href="#sg" x="419" y="324.9"/>
<use href="#sg" x="419.1" y="310.1"/>
<use href="#sg" x="419.2" y="299.9"/>
<use href="#sg" x="419.3" y="315.8"/>
<use href="#sg" x="419.5" y="303.5"/>
<use href="#sg" x="419.6" y="291.4"/>
<use href="#sg" x="419.7" y="311.8"/>
<use href="#sg" x="419.8" y="318.3"/>
<use href="#sg" x="420" y="295.6"/>
<use href="#sg" x="420.1" y="286.3"/>
<use href="#sg" x="420.2" y="315.8"/>
<use href="#sg" x="420.3" y="283.9"/>
<use href="#sg" x="420.4" y="324.9"/>
<use href="#sg" x="420.6" y="290.5"/>
<use href="#sg" x="420.7" y="301.5"/>
<use href="#sg" x="420.8" y="298.9"/>
<use href="#sg" x="420.9" y="318.3"/>
<use href="#sg" x="421.1" y="315.8"/>
<use href="#sg" x="421.2" y="303.5"/>
<use href="#sg" x="421.3" y="329.6"/>
<use href="#sg" x="421.4" y="324.9"/>
<use href="#sg" x="421.5" y="298.9"/>
<use href="#sg" x="421.7" y="313.7"/>
<use href="#sg" x="421.8" y="321.3"/>
<use href="#sg" x="421.9" y="305.8"/>
<use href="#sg" x="422" y="321.3"/>
<use href="#sg" x="422.2" y="321.3"/>
<use href="#sg" x="422.3" y="318.3"/>
<use href="#sg" x="422.4" y="329.6"/>
<use href="#sg" x="422.5" y="302.5"/>
<use href="#sg" x="422.7" y="321.3"/>
<use href="#sg" x="422.8" y="305.8"/>
<use href="#sg" x="422.9" y="302.5"/>
<use href="#sg" x="423" y="296.6"/>
<use href="#sg" x="423.1" y="300.6"/>
<use href="#sg" x="423.3" y="293.5"/>
<use href="#sg" x="423.4" y="285.3"/>
<use href="#sg" x="423.5" y="298.4"/>
<use href="#sg" x="423.6" y="321.3"/>
<use href="#sg" x="423.8" y="281.6"/>
<use href="#sg" x="423.9" y="294.8"/>
<use href="#sg" x="424" y="292"/>
<use href="#sg" x="424.1" y="285.8"/>
<use href="#sg" x="424.2" y="293"/>
<use href="#sg" x="424.4" y="302.5"/>
<use href="#sg" x="424.5" y="287.7"/>
<use href="#sg" x="424.6" y="288"/>
<use href="#sg" x="424.7" y="318.3"/>
<use href="#sg" x="424.9" y="307.1"/>
<use href="#sg" x="425" y="311.8"/>
<use href="#sg" x="425.1" y="285.3"/>
<use href="#sg" x="425.2" y="298.9"/>
<use href="#sg" x="425.4" y="292.3"/>
<use href="#sg" x="425.5" y="291.8"/>
<use href="#sg" x="425.6" y="313.7"/>
<use href="#sg" x="425.7" y="300.6"/>
<use href="#sg" x="425.8" y="296.1"/>
<use href="#sg" x="426" y="329.6"/>
<use href="#sg" x="426.1" y="283.4"/>
<use href="#sg" x="426.2" y="301.5"/>
<use href="#sg" x="426.3" y="286.2"/>
<use href="#sg" x="426.5" y="280.2"/>
<use href="#sg" x="426.6" y="291.9"/>
<use href="#sg" x="426.7" y="305.8"/>
<use href="#sg" x="426.8" y="298.9"/>
<use href="#sg" x="426.9" y="286.2"/>
<use href="#sg" x="427.1" y="311.8"/>
<use href="#sg" x="427.2" y="307.1"/>
<use href="#sg" x="427.3" y="289.9"/>
<use href="#sg" x="427.4" y="295.4"/>
<use href="#sg" x="427.6" y="324.9"/>
<use href="#sg" x="427.7" y="302.5"/>
<use href="#sg" x="427.8" y="294.8"/>
<use href="#sg" x="427.9" y="310.1"/>
<use href="#sg" x="428.1" y="298.9"/>
<use href="#sg" x="428.2" y="300.2"/>
<use href="#sg" x="428.3" y="291.9"/>
<use href="#sg" x="428.4" y="321.3"/>
<use href="#sg" x="428.5" y="324.9"/>
<use href="#sg" x="428.7" y="286.7"/>
<use href="#sg" x="428.8" y="321.3"/>
<use href="#sg" x="428.9" y="318.3"/>
<use href="#sg" x="429" y="318.3"/>
<use href="#sg" x="429.2" y="292"/>
<use href="#sg" x="429.3" y="308.5"/>
<use href="#sg" x="429.4" y="318.3"/>
<use href="#sg" x="429.5" y="315.8"/>
<use href="#sg" x="429.6" y="329.6"/>
<use href="#sg" x="429.8" y="286.5"/>
<use href="#sg" x="429.9" y="304.6"/>
<use href="#sg" x="430" y="292.8"/>
<use href="#sg" x="430.1" y="298.9"/>
<use href="#sg" x="430.3" y="298.3"/>
<use href="#sg" x="430.4" y="313.7"/>
<use href="#sg" x="430.5" y="305.8"/>
<use href="#sg" x="430.6" y="313.7"/>
<use href="#sg" x="430.8" y="290.6"/>
<use href="#sg" x="430.9" y="291.7"/>
<use href="#sg" x="431" y="299.7"/>
<use href="#sg" x="431.1" y="290.6"/>
<use href="#sg" x="431.2" y="298.9"/>
<use href="#sg" x="431.4" y="324.9"/>
<use href="#sg" x="431.5" y="321.3"/>
<use href="#sg" x="431.6" y="285.1"/>
<use href="#sg" x="431.7" y="324.9"/>
<use href="#sg" x="431.9" y="324.9"/>
<use href="#sg" x="432" y="329.6"/>
<use href="#sg" x="432.1" y="302.5"/>
<use href="#sg" x="432.2" y="321.3"/>
<use href="#sg" x="432.3" y="295.4"/>
<use href="#sg" x="432.5" y="329.6"/>
<use href="#sg" x="432.6" y="302.5"/>
<use href="#sg" x="432.7" y="307.1"/>
<use href="#sg" x="432.8" y="288"/>
<use href="#sg" x="433" y="308.5"/>
<use href="#sg" x="433.1" y="298.9"/>
<use href="#sg" x="433.2" y="311.8"/>
<use href="#sg" x="433.3" y="307.1"/>
<use href="#sg" x="433.5" y="321.3"/>
<use href="#sg" x="433.6" y="287.8"/>
<use href="#sg" x="433.7" y="298.9"/>
<use href="#sg" x="433.8" y="329.6"/>
<use href="#sg" x="433.9" y="318.3"/>
<use href="#sg" x="434.1" y="288.4"/>
<use href="#sg" x="434.2" y="295.5"/>
<use href="#sg" x="434.3" y="321.3"/>
<use href="#sg" x="434.4" y="288.9"/>
<use href="#sg" x="434.6" y="305.8"/>
<use href="#sg" x="434.7" y="329.6"/>
<use href="#sg" x="434.8" y="288.8"/>
<use href="#sg" x="434.9" y="295.4"/>
<use href="#sg" x="435" y="313.7"/>
<use href="#sg" x="435.2" y="310.1"/>
<use href="#sg" x="435.3" y="324.9"/>
<use href="#sg" x="435.4" y="310.1"/>
<use href="#sg" x="435.5" y="291.9"/>
<use href="#sg" x="435.7" y="324.9"/>
<use href="#sg" x="435.8" y="303.5"/>
<use href="#sg" x="435.9" y="299.7"/>
<use href="#sg" x="436" y="301.5"/>
<use href="#sg" x="436.2" y="300.6"/>
<use href="#sg" x="436.3" y="304.6"/>
<use href="#sg" x="436.4" y="321.3"/>
<use href="#sg" x="436.5" y="303.5"/>
<use href="#sg" x="436.6" y="289.7"/>
<use href="#sg" x="436.8" y="321.3"/>
<use href="#sg" x="436.9" y="291.9"/>
<use href="#sg" x="437" y="298.9"/>
<use href="#sg" x="437.1" y="321.3"/>
<use href="#sg" x="437.3" y="324.9"/>
<use href="#sg" x="437.4" y="329.6"/>
<use href="#sg" x="437.5" y="308.5"/>
<use href="#sg" x="437.6" y="324.9"/>
<use href="#sg" x="437.7" y="313.7"/>
<use href="#sg" x="437.9" y="295.3"/>
<use href="#sg" x="438" y="311.8"/>
<use href="#sg" x="438.1" y="315.8"/>
<use href="#sg" x="438.2" y="295.4"/>
<use href="#sg" x="438.4" y="298.9"/>
<use href="#sg" x="438.5" y="298.6"/>
<use href="#sg" x="438.6" y="308.5"/>
<use href="#sg" x="438.7" y="303.5"/>
<use href="#sg" x="438.9" y="293.1"/>
<use href="#sg" x="439" y="302.5"/>
<use href="#sg" x="439.1" y="321.3"/>
<use href="#sg" x="439.2" y="318.3"/>
<use href="#sg" x="439.3" y="324.9"/>
<use href="#sg" x="439.5" y="293.9"/>
<use href="#sg" x="439.6" y="318.3"/>
<use href="#sg" x="439.7" y="290.4"/>
<use href="#sg" x="439.8" y="298.5"/>
<use href="#sg" x="440" y="315.8"/>
<use href="#sg" x="440.1" y="289.2"/>
<use href="#sg" x="440.2" y="307.1"/>
<use href="#sg" x="440.3" y="301.5"/>
<use href="#sg" x="440.4" y="318.3"/>
<use href="#sg" x="440.6" y="300.6"/>
<use href="#sg" x="440.7" y="301.5"/>
<use href="#sg" x="440.8" y="318.3"/>
<use href="#sg" x="440.9" y="321.3"/>
<use href="#sg" x="441.1" y="305.8"/>
<use href="#sg" x="441.2" y="318.3"/>
<use href="#sg" x="441.3" y="315.8"/>
<use href="#sg" x="441.4" y="289.9"/>
<use href="#sg" x="441.6" y="318.3"/>
<use href="#sg" x="441.7" y="300.6"/>
<use href="#sg" x="441.8" y="298.1"/>
<use href="#sg" x="441.9" y="294.7"/>
<use href="#sg" x="442" y="291.9"/>
<use href="#sg" x="442.2" y="302.5"/>
<use href="#sg" x="442.3" y="288.8"/>
<use href="#sg" x="442.4" y="329.6"/>
<use href="#sg" x="442.5" y="315.8"/>
<use href="#sg" x="442.7" y="318.3"/>
<use href="#sg" x="442.8" y="318.3"/>
<use href="#sg" x="442.9" y="298.9"/>
<use href="#sg" x="443" y="313.7"/>
<use href="#sg" x="443.2" y="293.2"/>
<use href="#sg" x="443.3" y="321.3"/>
<use href="#sg" x="443.4" y="310.1"/>
<use href="#sg" x="443.5" y="310.1"/>
<use href="#sg" x="443.6" y="324.9"/>
<use href="#sg" x="443.8" y="292.6"/>
<use href="#sg" x="443.9" y="295"/>
<use href="#sg" x="444" y="291.3"/>
<use href="#sg" x="444.1" y="324.9"/>
<use href="#sg" x="444.3" y="299.7"/>
<use href="#sg" x="444.4" y="321.3"/>
<use href="#sg" x="444.5" y="290.6"/>
<use href="#sg" x="444.6" y="303.5"/>
<use href="#sg" x="444.7" y="299.7"/>
<use href="#sg" x="444.9" y="304.6"/>
<use href="#sg" x="445" y="292"/>
<use href="#sg" x="445.1" y="321.3"/>
<use href="#sg" x="445.2" y="321.3"/>
<use href="#sg" x="445.4" y="321.3"/>
<use href="#sg" x="445.5" y="313.7"/>
<use href="#sg" x="445.6" y="321.3"/>
<use href="#sg" x="445.7" y="310.1"/>
<use href="#sg" x="445.9" y="294.9"/>
<use href="#sg" x="446" y="321.3"/>
<use href="#sg" x="446.1" y="315.8"/>
<use href="#sg" x="446.2" y="321.3"/>
<use href="#sg" x="446.3" y="318.3"/>
<use href="#sg" x="446.5" y="324.9"/>
<use href="#sg" x="446.6" y="324.9"/>
<use href="#sg" x="446.7" y="293.5"/>
<use href="#sg" x="446.8" y="313.7"/>
<use href="#sg" x="447" y="291.5"/>
<use href="#sg" x="447.1" y="329.6"/>
<use href="#sg" x="447.2" y="318.3"/>
<use href="#sg" x="447.3" y="311.8"/>
<use href="#sg" x="447.4" y="302.5"/>
<use href="#sg" x="447.6" y="302.5"/>
<use href="#sg" x="447.7" y="292.7"/>
<use href="#sg" x="447.8" y="301.5"/>
<use href="#sg" x="447.9" y="308.5"/>
<use href="#sg" x="448.1" y="304.6"/>
<use href="#sg" x="448.2" y="329.6"/>
<use href="#sg" x="448.3" y="303.5"/>
<use href="#sg" x="448.4" y="321.3"/>
<use href="#sg" x="448.6" y="313.7"/>
<use href="#sg" x="448.7" y="299.7"/>
<use href="#sg" x="448.8" y="324.9"/>
<use href="#sg" x="448.9" y="329.6"/>
<use href="#sg" x="449" y="324.9"/>
<use href="#sg" x="449.2" y="315.8"/>
<use href="#sg" x="449.3" y="310.1"/>
<use href="#sg" x="449.4" y="313.7"/>
<use href="#sg" x="449.5" y="303.5"/>
<use href="#sg" x="449.7" y="321.3"/>
<use href="#sg" x="449.8" y="297.9"/>
<use href="#sg" x="449.9" y="305.8"/>
<use href="#sg" x="450" y="300.6"/>
<use href="#sg" x="450.1" y="321.3"/>
<use href="#sg" x="450.3" y="329.6"/>
<use href="#sg" x="450.4" y="324.9"/>
<use href="#sg" x="450.5" y="311.8"/>
<use href="#sg" x="450.6" y="324.9"/>
<use href="#sg" x="450.8" y="301.5"/>
<use href="#sg" x="450.9" y="315.8"/>
<use href="#sg" x="451" y="307.1"/>
<use href="#sg" x="451.1" y="313.7"/>
<use href="#sg" x="451.3" y="297.2"/>
<use href="#sg" x="451.4" y="301.5"/>
<use href="#sg" x="451.5" y="324.9"/>
<use href="#sg" x="451.6" y="321.3"/>
<use href="#sg" x="451.7" y="321.3"/>
<use href="#sg" x="451.9" y="300.6"/>
<use href="#sg" x="452" y="318.3"/>
<use href="#sg" x="452.1" y="292.7"/>
<use href="#sg" x="452.2" y="321.3"/>
<use href="#sg" x="452.4" y="293"/>
<use href="#sg" x="452.5" y="300.6"/>
<use href="#sg" x="452.6" y="329.6"/>
<use href="#sg" x="452.7" y="294.8"/>
<use href="#sg" x="452.8" y="315.8"/>
<use href="#sg" x="453" y="324.9"/>
<use href="#sg" x="453.1" y="318.3"/>
<use href="#sg" x="453.2" y="310.1"/>
<use href="#sg" x="453.3" y="311.8"/>
<use href="#sg" x="453.5" y="324.9"/>
<use href="#sg" x="453.6" y="329.6"/>
<use href="#sg" x="453.7" y="311.8"/>
<use href="#sg" x="453.8" y="300.6"/>
<use href="#sg" x="454" y="313.7"/>
<use href="#sg" x="454.1" y="318.3"/>
<use href="#sg" x="454.2" y="324.9"/>
<use href="#sg" x="454.3" y="321.3"/>
<use href="#sg" x="454.4" y="315.8"/>
<use href="#sg" x="454.6" y="324.9"/>
<use href="#sg" x="454.7" y="295.2"/>
<use href="#sg" x="454.8" y="318.3"/>
<use href="#sg" x="454.9" y="324.9"/>
<use href="#sg" x="455.1" y="298.1"/>
<use href="#sg" x="455.2" y="324.9"/>
<use href="#sg" x="455.3" y="300.6"/>
<use href="#sg" x="455.4" y="299.1"/>
<use href="#sg" x="455.5" y="300.6"/>
<use href="#sg" x="455.7" y="315.8"/>
<use href="#sg" x="455.8" y="315.8"/>
<use href="#sg" x="455.9" y="324.9"/>
<use href="#sg" x="456" y="305.8"/>
<use href="#sg" x="456.2" y="296.7"/>
<use href="#sg" x="456.3" y="321.3"/>
<use href="#sg" x="456.4" y="324.9"/>
<use href="#sg" x="456.5" y="315.8"/>
<use href="#sg" x="456.7" y="324.9"/>
<use href="#sg" x="456.8" y="304.6"/>
<use href="#sg" x="456.9" y="311.8"/>
<use href="#sg" x="457" y="297.2"/>
<use href="#sg" x="457.1" y="324.9"/>
<use href="#sg" x="457.3" y="321.3"/>
<use href="#sg" x="457.4" y="321.3"/>
<use href="#sg" x="457.5" y="292.1"/>
<use href="#sg" x="457.6" y="302.5"/>
<use href="#sg" x="457.8" y="324.9"/>
<use href="#sg" x="457.9" y="311.8"/>
<use href="#sg" x="458" y="321.3"/>
<use href="#sg" x="458.1" y="303.5"/>
<use href="#sg" x="458.2" y="307.1"/>
<use href="#sg" x="458.4" y="324.9"/>
<use href="#sg" x="458.5" y="315.8"/>
<use href="#sg" x="458.6" y="321.3"/>
<use href="#sg" x="458.7" y="315.8"/>
<use href="#sg" x="458.9" y="318.3"/>
<use href="#sg" x="459" y="310.1"/>
<use href="#sg" x="459.1" y="292.6"/>
<use href="#sg" x="459.2" y="321.3"/>
<use href="#sg" x="459.4" y="298.9"/>
<use href="#sg" x="459.5" y="296.9"/>
<use href="#sg" x="459.6" y="297"/>
<use href="#sg" x="459.7" y="308.5"/>
<use href="#sg" x="459.8" y="311.8"/>
<use href="#sg" x="460" y="303.5"/>
<use href="#sg" x="460.1" y="311.8"/>
<use href="#sg" x="460.2" y="321.3"/>
<use href="#sg" x="460.3" y="304.6"/>
<use href="#sg" x="460.5" y="298"/>
<use href="#sg" x="460.6" y="324.9"/>
<use href="#sg" x="460.7" y="324.9"/>
<use href="#sg" x="460.8" y="318.3"/>
<use href="#sg" x="460.9" y="324.9"/>
<use href="#sg" x="461.1" y="324.9"/>
<use href="#sg" x="461.2" y="318.3"/>
<use href="#sg" x="461.3" y="313.7"/>
<use href="#sg" x="461.4" y="313.7"/>
<use href="#sg" x="461.6" y="324.9"/>
<use href="#sg" x="461.7" y="315.8"/>
<use href="#sg" x="461.8" y="305.8"/>
<use href="#sg" x="461.9" y="310.1"/>
<use href="#sg" x="462.1" y="318.3"/>
<use href="#sg" x="462.2" y="313.7"/>
<use href="#sg" x="462.3" y="303.5"/>
<use href="#sg" x="462.4" y="299.7"/>
<use href="#sg" x="462.5" y="318.3"/>
<use href="#sg" x="462.7" y="324.9"/>
<use href="#sg" x="462.8" y="329.6"/>
<use href="#sg" x="462.9" y="315.8"/>
<use href="#sg" x="463" y="296.2"/>
<use href="#sg" x="463.2" y="302.5"/>
<use href="#sg" x="463.3" y="315.8"/>
<use href="#sg" x="463.4" y="318.3"/>
<use href="#sg" x="463.5" y="329.6"/>
<use href="#sg" x="463.6" y="324.9"/>
<use href="#sg" x="463.8" y="304.6"/>
<use href="#sg" x="463.9" y="310.1"/>
<use href="#sg" x="464" y="313.7"/>
<use href="#sg" x="464.1" y="315.8"/>
<use href="#sg" x="464.3" y="308.5"/>
<use href="#sg" x="464.4" y="324.9"/>
<use href="#sg" x="464.5" y="324.9"/>
<use href="#sg" x="464.6" y="307.1"/>
<use href="#sg" x="464.8" y="313.7"/>
<use href="#sg" x="464.9" y="296.1"/>
<use href="#sg" x="465" y="324.9"/>
<use href="#sg" x="465.1" y="329.6"/>
<use href="#sg" x="465.2" y="313.7"/>
<use href="#sg" x="465.4" y="299.7"/>
<use href="#sg" x="465.5" y="298.7"/>
<use href="#sg" x="465.6" y="315.8"/>
<use href="#sg" x="465.7" y="302.5"/>
<use href="#sg" x="465.9" y="315.8"/>
<use href="#sg" x="466" y="315.8"/>
<use href="#sg" x="466.1" y="308.5"/>
<use href="#sg" x="466.2" y="298.9"/>
<use href="#sg" x="466.4" y="295.1"/>
<use href="#sg" x="466.5" y="321.3"/>
<use href="#sg" x="466.6" y="313.7"/>
<use href="#sg" x="466.7" y="298.6"/>
<use href="#sg" x="466.8" y="310.1"/>
<use href="#sg" x="467" y="302.5"/>
<use href="#sg" x="467.1" y="299.7"/>
<use href="#sg" x="467.2" y="304.6"/>
<use href="#sg" x="467.3" y="304.6"/>
<use href="#sg" x="467.5" y="315.8"/>
<use href="#sg" x="467.6" y="315.8"/>
<use href="#sg" x="467.7" y="313.7"/>
<use href="#sg" x="467.8" y="313.7"/>
<use href="#sg" x="467.9" y="305.8"/>
<use href="#sg" x="468.1" y="303.5"/>
<use href="#sg" x="468.2" y="321.3"/>
<use href="#sg" x="468.3" y="324.9"/>
<use href="#sg" x="468.4" y="313.7"/>
<use href="#sg" x="468.6" y="318.3"/>
<use href="#sg" x="468.7" y="301.5"/>
<use href="#sg" x="468.8" y="318.3"/>
<use href="#sg" x="468.9" y="302.5"/>
<use href="#sg" x="469.1" y="299.8"/>
<use href="#sg" x="469.2" y="307.1"/>
<use href="#sg" x="469.3" y="324.9"/>
<use href="#sg" x="469.4" y="303.5"/>
<use href="#sg" x="469.5" y="297"/>
<use href="#sg" x="469.7" y="324.9"/>
<use href="#sg" x="469.8" y="321.3"/>
<use href="#sg" x="469.9" y="308.5"/>
<use href="#sg" x="470" y="297.6"/>
<use href="#sg" x="470.2" y="294.2"/>
<use href="#sg" x="470.3" y="324.9"/>
<use href="#sg" x="470.4" y="295.6"/>
<use href="#sg" x="470.5" y="307.1"/>
<use href="#sg" x="470.6" y="315.8"/>
<use href="#sg" x="470.8" y="321.3"/>
<use href="#sg" x="470.9" y="310.1"/>
<use href="#sg" x="471" y="299.7"/>
<use href="#sg" x="471.1" y="294"/>
<use href="#sg" x="471.3" y="294.5"/>
<use href="#sg" x="471.4" y="313.7"/>
<use href="#sg" x="471.5" y="329.6"/>
<use href="#sg" x="471.6" y="324.9"/>
<use href="#sg" x="471.8" y="311.8"/>
<use href="#sg" x="471.9" y="304.6"/>
<use href="#sg" x="472" y="324.9"/>
<use href="#sg" x="472.1" y="315.8"/>
<use href="#sg" x="472.2" y="293"/>
<use href="#sg" x="472.4" y="315.8"/>
<use href="#sg" x="472.5" y="324.9"/>
<use href="#sg" x="472.6" y="324.9"/>
<use href="#sg" x="472.7" y="313.7"/>
<use href="#sg" x="472.9" y="313.7"/>
<use href="#sg" x="473" y="299.7"/>
<use href="#sg" x="473.1" y="315.8"/>
<use href="#sg" x="473.2" y="304.6"/>
<use href="#sg" x="473.3" y="295.3"/>
<use href="#sg" x="473.5" y="324.9"/>
<use href="#sg" x="473.6" y="313.7"/>
<use href="#sg" x="473.7" y="321.3"/>
<use href="#sg" x="473.8" y="295.2"/>
<use href="#sg" x="474" y="298.4"/>
<use href="#sg" x="474.1" y="329.6"/>
<use href="#sg" x="474.2" y="302.5"/>
<use href="#sg" x="474.3" y="304.6"/>
<use href="#sg" x="474.5" y="288.2"/>
<use href="#sg" x="474.6" y="293.4"/>
<use href="#sg" x="474.7" y="321.3"/>
<use href="#sg" x="474.8" y="324.9"/>
<use href="#sg" x="474.9" y="293.7"/>
<use href="#sg" x="475.1" y="311.8"/>
<use href="#sg" x="475.2" y="298.9"/>
<use href="#sg" x="475.3" y="324.9"/>
<use href="#sg" x="475.4" y="292.8"/>
<use href="#sg" x="475.6" y="324.9"/>
<use href="#sg" x="475.7" y="302.5"/>
<use href="#sg" x="475.8" y="302.5"/>
<use href="#sg" x="475.9" y="329.6"/>
<use href="#sg" x="476" y="305.8"/>
<use href="#sg" x="476.2" y="324.9"/>
<use href="#sg" x="476.3" y="315.8"/>
<use href="#sg" x="476.4" y="296.4"/>
<use href="#sg" x="476.5" y="292.7"/>
<use href="#sg" x="476.7" y="311.8"/>
<use href="#sg" x="476.8" y="307.1"/>
<use href="#sg" x="476.9" y="310.1"/>
<use href="#sg" x="477" y="310.1"/>
<use href="#sg" x="477.2" y="299.7"/>
<use href="#sg" x="477.3" y="310.1"/>
<use href="#sg" x="477.4" y="302.5"/>
<use href="#sg" x="477.5" y="321.3"/>
<use href="#sg" x="477.6" y="315.8"/>
<use href="#sg" x="477.8" y="321.3"/>
<use href="#sg" x="477.9" y="305.8"/>
<use href="#sg" x="478" y="315.8"/>
<use href="#sg" x="478.1" y="304.6"/>
<use href="#sg" x="478.3" y="315.8"/>
<use href="#sg" x="478.4" y="311.8"/>
<use href="#sg" x="478.5" y="302.5"/>
<use href="#sg" x="478.6" y="313.7"/>
<use href="#sg" x="478.7" y="321.3"/>
<use href="#sg" x="478.9" y="298.9"/>
<use href="#sg" x="479" y="300.6"/>
<use href="#sg" x="479.1" y="313.7"/>
<use href="#sg" x="479.2" y="329.6"/>
<use href="#sg" x="479.4" y="315.8"/>
<use href="#sg" x="479.5" y="305.8"/>
<use href="#sg" x="479.6" y="305.8"/>
<use href="#sg" x="479.7" y="293"/>
<use href="#sg" x="479.9" y="318.3"/>
<use href="#sg" x="480" y="307.1"/>
<use href="#sg" x="480.1" y="318.3"/>
<use href="#sg" x="480.2" y="324.9"/>
<use href="#sg" x="480.3" y="321.3"/>
<use href="#sg" x="480.5" y="298.9"/>
<use href="#sg" x="480.6" y="311.8"/>
<use href="#sg" x="480.7" y="321.3"/>
<use href="#sg" x="480.8" y="308.5"/>
<use href="#sg" x="481" y="318.3"/>
<use href="#sg" x="481.1" y="324.9"/>
<use href="#sg" x="481.2" y="324.9"/>
<use href="#sg" x="481.3" y="318.3"/>
<use href="#sg" x="481.4" y="324.9"/>
<use href="#sg" x="481.6" y="297.5"/>
<use href="#sg" x="481.7" y="308.5"/>
<use href="#sg" x="481.8" y="315.8"/>
<use href="#sg" x="481.9" y="318.3"/>
<use href="#sg" x="482.1" y="313.7"/>
<use href="#sg" x="482.2" y="324.9"/>
<use href="#sg" x="482.3" y="313.7"/>
<use href="#sg" x="482.4" y="297.2"/>
<use href="#sg" x="482.6" y="321.3"/>
<use href="#sg" x="482.7" y="310.1"/>
<use href="#sg" x="482.8" y="304.6"/>
<use href="#sg" x="482.9" y="324.9"/>
<use href="#sg" x="483" y="318.3"/>
<use href="#sg" x="483.2" y="305.8"/>
<use href="#sg" x="483.3" y="308.5"/>
<use href="#sg" x="483.4" y="321.3"/>
<use href="#sg" x="483.5" y="301.5"/>
<use href="#sg" x="483.7" y="298.9"/>
<use href="#sg" x="483.8" y="329.6"/>
<use href="#sg" x="483.9" y="318.3"/>
<use href="#sg" x="484" y="310.1"/>
<use href="#sg" x="484.1" y="295.5"/>
<use href="#sg" x="484.3" y="315.8"/>
<use href="#sg" x="484.4" y="324.9"/>
<use href="#sg" x="484.5" y="318.3"/>
<use href="#sg" x="484.6" y="296.8"/>
<use href="#sg" x="484.8" y="318.3"/>
<use href="#sg" x="484.9" y="321.3"/>
<use href="#sg" x="485" y="307.1"/>
<use href="#sg" x="485.1" y="311.8"/>
<use href="#sg" x="485.3" y="293.9"/>
<use href="#sg" x="485.4" y="313.7"/>
<use href="#sg" x="485.5" y="315.8"/>
<use href="#sg" x="485.6" y="301.5"/>
<use href="#sg" x="485.7" y="321.3"/>
<use href="#sg" x="485.9" y="313.7"/>
<use href="#sg" x="486" y="311.8"/>
<use href="#sg" x="486.1" y="302.5"/>
<use href="#sg" x="486.2" y="318.3"/>
<use href="#sg" x="486.4" y="308.5"/>
<use href="#sg" x="486.5" y="321.3"/>
<use href="#sg" x="486.6" y="305.8"/>
<use href="#sg" x="486.7" y="296.3"/>
<use href="#sg" x="486.8" y="291.8"/>
<use href="#sg" x="487" y="310.1"/>
<use href="#sg" x="487.1" y="315.8"/>
<use href="#sg" x="487.2" y="321.3"/>
<use href="#sg" x="487.3" y="310.1"/>
<use href="#sg" x="487.5" y="321.3"/>
<use href="#sg" x="487.6" y="310.1"/>
<use href="#sg" x="487.7" y="302.5"/>
<use href="#sg" x="487.8" y="315.8"/>
<use href="#sg" x="488" y="303.5"/>
<use href="#sg" x="488.1" y="324.9"/>
<use href="#sg" x="488.2" y="321.3"/>
<use href="#sg" x="488.3" y="311.8"/>
<use href="#sg" x="488.4" y="315.8"/>
<use href="#sg" x="488.6" y="321.3"/>
<use href="#sg" x="488.7" y="303.5"/>
<use href="#sg" x="488.8" y="329.6"/>
<use href="#sg" x="488.9" y="315.8"/>
<use href="#sg" x="489.1" y="310.1"/>
<use href="#sg" x="489.2" y="298.9"/>
<use href="#sg" x="489.3" y="295.7"/>
<use href="#sg" x="489.4" y="321.3"/>
<use href="#sg" x="489.5" y="315.8"/>
<use href="#sg" x="489.7" y="305.8"/>
<use href="#sg" x="489.8" y="324.9"/>
<use href="#sg" x="489.9" y="321.3"/>
<use href="#sg" x="490" y="329.6"/>
<use href="#sg" x="490.2" y="315.8"/>
<use href="#sg" x="490.3" y="300.6"/>
<use href="#sg" x="490.4" y="324.9"/>
<use href="#sg" x="490.5" y="329.6"/>
<use href="#sg" x="490.7" y="315.8"/>
<use href="#sg" x="490.8" y="310.1"/>
<use href="#sg" x="490.9" y="313.7"/>
<use href="#sg" x="491" y="305.8"/>
<use href="#sg" x="491.1" y="318.3"/>
<use href="#sg" x="491.3" y="295.9"/>
<use href="#sg" x="491.4" y="318.3"/>
<use href="#sg" x="491.5" y="294.7"/>
<use href="#sg" x="491.6" y="313.7"/>
<use href="#sg" x="491.8" y="303.5"/>
<use href="#sg" x="491.9" y="318.3"/>
<use href="#sg" x="492" y="324.9"/>
<use href="#sg" x="492.1" y="321.3"/>
<use href="#sg" x="492.3" y="310.1"/>
<use href="#sg" x="492.4" y="321.3"/>
<use href="#sg" x="492.5" y="301.5"/>
<use href="#sg" x="492.6" y="307.1"/>
<use href="#sg" x="492.7" y="303.5"/>
<use href="#sg" x="492.9" y="311.8"/>
<use href="#sg" x="493" y="307.1"/>
<use href="#sg" x="493.1" y="324.9"/>
<use href="#sg" x="493.2" y="324.9"/>
<use href="#sg" x="493.4" y="315.8"/>
<use href="#sg" x="493.5" y="294.5"/>
<use href="#sg" x="493.6" y="321.3"/>
<use href="#sg" x="493.7" y="292.4"/>
<use href="#sg" x="493.8" y="321.3"/>
<use href="#sg" x="494" y="311.8"/>
<use href="#sg" x="494.1" y="324.9"/>
<use href="#sg" x="494.2" y="329.6"/>
<use href="#sg" x="494.3" y="313.7"/>
<use href="#sg" x="494.5" y="304.6"/>
<use href="#sg" x="494.6" y="321.3"/>
<use href="#sg" x="494.7" y="290.2"/>
<use href="#sg" x="494.8" y="301.5"/>
<use href="#sg" x="495" y="296.2"/>
<use href="#sg" x="495.1" y="298.9"/>
<use href="#sg" x="495.2" y="321.3"/>
<use href="#sg" x="495.3" y="315.8"/>
<use href="#sg" x="495.4" y="321.3"/>
<use href="#sg" x="495.6" y="318.3"/>
<use href="#sg" x="495.7" y="313.7"/>
<use href="#sg" x="495.8" y="280.8"/>
<use href="#sg" x="495.9" y="329.6"/>
<use href="#sg" x="496.1" y="310.1"/>
<use href="#sg" x="496.2" y="315.8"/>
<use href="#sg" x="496.3" y="296"/>
<use href="#sg" x="496.4" y="295.8"/>
<use href="#sg" x="496.5" y="313.7"/>
<use href="#sg" x="496.7" y="299.7"/>
<use href="#sg" x="496.8" y="296.7"/>
<use href="#sg" x="496.9" y="315.8"/>
<use href="#sg" x="497" y="303.5"/>
<use href="#sg" x="497.2" y="311.8"/>
<use href="#sg" x="497.3" y="305.8"/>
<use href="#sg" x="497.4" y="297.3"/>
<use href="#sg" x="497.5" y="315.8"/>
<use href="#sg" x="497.7" y="298.9"/>
<use href="#sg" x="497.8" y="321.3"/>
<use href="#sg" x="497.9" y="310.1"/>
<use href="#sg" x="498" y="295.1"/>
<use href="#sg" x="498.1" y="313.7"/>
<use href="#sg" x="498.3" y="305.8"/>
<use href="#sg" x="498.4" y="329.6"/>
<use href="#sg" x="498.5" y="296.1"/>
<use href="#sg" x="498.6" y="305.8"/>
<use href="#sg" x="498.8" y="318.3"/>
<use href="#sg" x="498.9" y="313.7"/>
<use href="#sg" x="499" y="300.6"/>
<use href="#sg" x="499.1" y="305.8"/>
<use href="#sg" x="499.2" y="329.6"/>
<use href="#sg" x="499.4" y="293.6"/>
<use href="#sg" x="499.5" y="318.3"/>
<use href="#sg" x="499.6" y="308.5"/>
<use href="#sg" x="499.7" y="307.1"/>
<use href="#sg" x="499.9" y="307.1"/>
<use href="#sg" x="500" y="310.1"/>
<use href="#sg" x="500.1" y="291.2"/>
<use href="#sg" x="500.2" y="324.9"/>
<use href="#sg" x="500.4" y="296.6"/>
<use href="#sg" x="500.5" y="304.6"/>
<use href="#sg" x="500.6" y="298.7"/>
<use href="#sg" x="500.7" y="313.7"/>
<use href="#sg" x="500.8" y="307.1"/>
<use href="#sg" x="501" y="318.3"/>
<use href="#sg" x="501.1" y="293.1"/>
<use href="#sg" x="501.2" y="324.9"/>
<use href="#sg" x="501.3" y="305.8"/>
<use href="#sg" x="501.5" y="324.9"/>
<use href="#sg" x="501.6" y="290.9"/>
<use href="#sg" x="501.7" y="298.9"/>
<use href="#sg" x="501.8" y="289.3"/>
<use href="#sg" x="501.9" y="315.8"/>
<use href="#sg" x="502.1" y="307.1"/>
<use href="#sg" x="502.2" y="324.9"/>
<use href="#sg" x="502.3" y="301.5"/>
<use href="#sg" x="502.4" y="298.9"/>
<use href="#sg" x="502.6" y="297.2"/>
<use href="#sg" x="502.7" y="295.9"/>
<use href="#sg" x="502.8" y="324.9"/>
<use href="#sg" x="502.9" y="313.7"/>
<use href="#sg" x="503.1" y="318.3"/>
<use href="#sg" x="503.2" y="308.5"/>
<use href="#sg" x="503.3" y="318.3"/>
<use href="#sg" x="503.4" y="315.8"/>
<use href="#sg" x="503.5" y="310.1"/>
<use href="#sg" x="503.7" y="311.8"/>
<use href="#sg" x="503.8" y="318.3"/>
<use href="#sg" x="503.9" y="324.9"/>
<use href="#sg" x="504" y="313.7"/>
<use href="#sg" x="504.2" y="324.9"/>
<use href="#sg" x="504.3" y="302.5"/>
<use href="#sg" x="504.4" y="311.8"/>
<use href="#sg" x="504.5" y="292.7"/>
<use href="#sg" x="504.6" y="293.2"/>
<use href="#sg" x="504.8" y="294.3"/>
<use href="#sg" x="504.9" y="321.3"/>
<use href="#sg" x="505" y="321.3"/>
<use href="#sg" x="505.1" y="288.8"/>
<use href="#sg" x="505.3" y="292.2"/>
<use href="#sg" x="505.4" y="324.9"/>
<use href="#sg" x="505.5" y="289"/>
<use href="#sg" x="505.6" y="305.8"/>
<use href="#sg" x="505.8" y="315.8"/>
<use href="#sg" x="505.9" y="307.1"/>
<use href="#sg" x="506" y="315.8"/>
<use href="#sg" x="506.1" y="299.2"/>
<use href="#sg" x="506.2" y="329.6"/>
<use href="#sg" x="506.4" y="313.7"/>
<use href="#sg" x="506.5" y="324.9"/>
<use href="#sg" x="506.6" y="329.6"/>
<use href="#sg" x="506.7" y="304.6"/>
<use href="#sg" x="506.9" y="321.3"/>
<use href="#sg" x="507" y="300.6"/>
<use href="#sg" x="507.1" y="303.5"/>
<use href="#sg" x="507.2" y="288.4"/>
<use href="#sg" x="507.3" y="321.3"/>
<use href="#sg" x="507.5" y="294.2"/>
<use href="#sg" x="507.6" y="321.3"/>
<use href="#sg" x="507.7" y="315.8"/>
<use href="#sg" x="507.8" y="290.4"/>
<use href="#sg" x="508" y="307.1"/>
<use href="#sg" x="508.1" y="321.3"/>
<use href="#sg" x="508.2" y="310.1"/>
<use href="#sg" x="508.3" y="286.1"/>
<use href="#sg" x="508.5" y="304.6"/>
<use href="#sg" x="508.6" y="321.3"/>
<use href="#sg" x="508.7" y="321.3"/>
<use href="#sg" x="508.8" y="315.8"/>
<use href="#sg" x="508.9" y="300.6"/>
<use href="#sg" x="509.1" y="324.9"/>
<use href="#sg" x="509.2" y="294.2"/>
<use href="#sg" x="509.3" y="318.3"/>
<use href="#sg" x="509.4" y="315.8"/>
<use href="#sg" x="509.6" y="296.1"/>
<use href="#sg" x="509.7" y="329.6"/>
<use href="#sg" x="509.8" y="324.9"/>
<use href="#sg" x="509.9" y="318.3"/>
<use href="#sg" x="510" y="308.5"/>
<use href="#sg" x="510.2" y="292.6"/>
<use href="#sg" x="510.3" y="294.7"/>
<use href="#sg" x="510.4" y="294.9"/>
<use href="#sg" x="510.5" y="315.8"/>
<use href="#sg" x="510.7" y="305.8"/>
<use href="#sg" x="510.8" y="302.5"/>
<use href="#sg" x="510.9" y="324.9"/>
<use href="#sg" x="511" y="324.9"/>
<use href="#sg" x="511.2" y="321.3"/>
<use href="#sg" x="511.3" y="315.8"/>
<use href="#sg" x="511.4" y="291.4"/>
<use href="#sg" x="511.5" y="294.7"/>
<use href="#sg" x="511.6" y="324.9"/>
<use href="#sg" x="511.8" y="301.5"/>
<use href="#sg" x="511.9" y="300.6"/>
<use href="#sg" x="512" y="298.9"/>
<use href="#sg" x="512.1" y="308.5"/>
<use href="#sg" x="512.3" y="294.8"/>
<use href="#sg" x="512.4" y="295.2"/>
<use href="#sg" x="512.5" y="329.6"/>
<use href="#sg" x="512.6" y="298.9"/>
<use href="#sg" x="512.7" y="318.3"/>
<use href="#sg" x="512.9" y="301.5"/>
<use href="#sg" x="513" y="304.6"/>
<use href="#sg" x="513.1" y="287.8"/>
<use href="#sg" x="513.2" y="324.9"/>
<use href="#sg" x="513.4" y="329.6"/>
<use href="#sg" x="513.5" y="324.9"/>
<use href="#sg" x="513.6" y="296.5"/>
<use href="#sg" x="513.7" y="308.5"/>
<use href="#sg" x="513.9" y="293.8"/>
<use href="#sg" x="514" y="318.3"/>
<use href="#sg" x="514.1" y="296.7"/>
<use href="#sg" x="514.2" y="318.3"/>
<use href="#sg" x="514.3" y="307.1"/>
<use href="#sg" x="514.5" y="298.9"/>
<use href="#sg" x="514.6" y="321.3"/>
<use href="#sg" x="514.7" y="305.8"/>
<use href="#sg" x="514.8" y="294.5"/>
<use href="#sg" x="515" y="311.8"/>
<use href="#sg" x="515.1" y="313.7"/>
<use href="#sg" x="515.2" y="315.8"/>
<use href="#sg" x="515.3" y="296.1"/>
<use href="#sg" x="515.4" y="307.1"/>
<use href="#sg" x="515.6" y="297.5"/>
<use href="#sg" x="515.7" y="318.3"/>
<use href="#sg" x="515.8" y="321.3"/>
<use href="#sg" x="515.9" y="311.8"/>
<use href="#sg" x="516.1" y="299.4"/>
<use href="#sg" x="516.2" y="313.7"/>
<use href="#sg" x="516.3" y="324.9"/>
<use href="#sg" x="516.4" y="298.5"/>
<use href="#sg" x="516.6" y="308.5"/>
<use href="#sg" x="516.7" y="303.5"/>
<use href="#sg" x="516.8" y="308.5"/>
<use href="#sg" x="516.9" y="321.3"/>
<use href="#sg" x="517" y="294.7"/>
<use href="#sg" x="517.2" y="305.8"/>
<use href="#sg" x="517.3" y="308.5"/>
<use href="#sg" x="517.4" y="296.9"/>
<use href="#sg" x="517.5" y="318.3"/>
<use href="#sg" x="517.7" y="313.7"/>
<use href="#sg" x="517.8" y="324.9"/>
<use href="#sg" x="517.9" y="302.5"/>
<use href="#sg" x="518" y="301.5"/>
<use href="#sg" x="518.2" y="321.3"/>
<use href="#sg" x="518.3" y="315.8"/>
<use href="#sg" x="518.4" y="315.8"/>
<use href="#sg" x="518.5" y="321.3"/>
<use href="#sg" x="518.6" y="286"/>
<use href="#sg" x="518.8" y="299.7"/>
<use href="#sg" x="518.9" y="318.3"/>
<use href="#sg" x="519" y="301.5"/>
<use href="#sg" x="519.1" y="324.9"/>
<use href="#sg" x="519.3" y="310.1"/>
<use href="#sg" x="519.4" y="321.3"/>
<use href="#sg" x="519.5" y="329.6"/>
<use href="#sg" x="519.6" y="324.9"/>
<use href="#sg" x="519.7" y="318.3"/>
<use href="#sg" x="519.9" y="294.8"/>
<use href="#sg" x="520" y="318.3"/>
<use href="#sg" x="520.1" y="307.1"/>
<use href="#sg" x="520.2" y="296.8"/>
<use href="#sg" x="520.4" y="321.3"/>
<use href="#sg" x="520.5" y="321.3"/>
<use href="#sg" x="520.6" y="303.5"/>
<use href="#sg" x="520.7" y="299.7"/>
<use href="#sg" x="520.9" y="308.5"/>
<use href="#sg" x="521" y="298.9"/>
<use href="#sg" x="521.1" y="300.6"/>
<use href="#sg" x="521.2" y="318.3"/>
<use href="#sg" x="521.3" y="324.9"/>
<use href="#sg" x="521.5" y="315.8"/>
<use href="#sg" x="521.6" y="297.5"/>
<use href="#sg" x="521.7" y="310.1"/>
<use href="#sg" x="521.8" y="321.3"/>
<use href="#sg" x="522" y="315.8"/>
<use href="#sg" x="522.1" y="300.6"/>
<use href="#sg" x="522.2" y="324.9"/>
<use href="#sg" x="522.3" y="318.3"/>
<use href="#sg" x="522.4" y="300.6"/>
<use href="#sg" x="522.6" y="302.5"/>
<use href="#sg" x="522.7" y="315.8"/>
<use href="#sg" x="522.8" y="315.8"/>
<use href="#sg" x="522.9" y="318.3"/>
<use href="#sg" x="523.1" y="329.6"/>
<use href="#sg" x="523.2" y="310.1"/>
<use href="#sg" x="523.3" y="297.2"/>
<use href="#sg" x="523.4" y="304.6"/>
<use href="#sg" x="523.6" y="321.3"/>
<use href="#sg" x="523.7" y="301.5"/>
<use href="#sg" x="523.8" y="302.5"/>
<use href="#sg" x="523.9" y="296.1"/>
<use href="#sg" x="524" y="302.5"/>
<use href="#sg" x="524.2" y="295.7"/>
<use href="#sg" x="524.3" y="295.1"/>
<use href="#sg" x="524.4" y="311.8"/>
<use href="#sg" x="524.5" y="303.5"/>
<use href="#sg" x="524.7" y="305.8"/>
<use href="#sg" x="524.8" y="308.5"/>
<use href="#sg" x="524.9" y="324.9"/>
<use href="#sg" x="525" y="313.7"/>
<use href="#sg" x="525.1" y="293.6"/>
<use href="#sg" x="525.3" y="315.8"/>
<use href="#sg" x="525.4" y="298.9"/>
<use href="#sg" x="525.5" y="329.6"/>
<use href="#sg" x="525.6" y="318.3"/>
<use href="#sg" x="525.8" y="318.3"/>
<use href="#sg" x="525.9" y="311.8"/>
<use href="#sg" x="526" y="311.8"/>
<use href="#sg" x="526.1" y="294.9"/>
<use href="#sg" x="526.3" y="321.3"/>
<use href="#sg" x="526.4" y="324.9"/>
<use href="#sg" x="526.5" y="307.1"/>
<use href="#sg" x="526.6" y="295.6"/>
<use href="#sg" x="526.7" y="298.9"/>
<use href="#sg" x="526.9" y="293.6"/>
<use href="#sg" x="527" y="293.2"/>
<use href="#sg" x="527.1" y="318.3"/>
<use href="#sg" x="527.2" y="294.3"/>
<use href="#sg" x="527.4" y="298.9"/>
<use href="#sg" x="527.5" y="321.3"/>
<use href="#sg" x="527.6" y="303.5"/>
<use href="#sg" x="527.7" y="324.9"/>
<use href="#sg" x="527.8" y="324.9"/>
<use href="#sg" x="528" y="299.7"/>
<use href="#sg" x="528.1" y="318.3"/>
<use href="#sg" x="528.2" y="304.6"/>
<use href="#sg" x="528.3" y="298.2"/>
<use href="#sg" x="528.5" y="324.9"/>
<use href="#sg" x="528.6" y="313.7"/>
<use href="#sg" x="528.7" y="302.5"/>
<use href="#sg" x="528.8" y="297.1"/>
<use href="#sg" x="529" y="329.6"/>
<use href="#sg" x="529.1" y="292.1"/>
<use href="#sg" x="529.2" y="324.9"/>
<use href="#sg" x="529.3" y="318.3"/>
<use href="#sg" x="529.4" y="313.7"/>
<use href="#sg" x="529.6" y="321.3"/>
<use href="#sg" x="529.7" y="295.2"/>
<use href="#sg" x="529.8" y="307.1"/>
<use href="#sg" x="529.9" y="303.5"/>
<use href="#sg" x="530.1" y="311.8"/>
<use href="#sg" x="530.2" y="308.5"/>
<use href="#sg" x="530.3" y="302.5"/>
<use href="#sg" x="530.4" y="315.8"/>
<use href="#sg" x="530.5" y="295.4"/>
<use href="#sg" x="530.7" y="324.9"/>
<use href="#sg" x="530.8" y="305.8"/>
<use href="#sg" x="530.9" y="329.6"/>
<use href="#sg" x="531" y="305.8"/>
<use href="#sg" x="531.2" y="292.8"/>
<use href="#sg" x="531.3" y="329.6"/>
<use href="#sg" x="531.4" y="310.1"/>
<use href="#sg" x="531.5" y="299.7"/>
<use href="#sg" x="531.7" y="310.1"/>
<use href="#sg" x="531.8" y="294.1"/>
<use href="#sg" x="531.9" y="324.9"/>
<use href="#sg" x="532" y="305.8"/>
<use href="#sg" x="532.1" y="310.1"/>
<use href="#sg" x="532.3" y="324.9"/>
<use href="#sg" x="532.4" y="329.6"/>
<use href="#sg" x="532.5" y="299.7"/>
<use href="#sg" x="532.6" y="329.6"/>
<use href="#sg" x="532.8" y="310.1"/>
<use href="#sg" x="532.9" y="281.5"/>
<use href="#sg" x="533" y="294"/>
<use href="#sg" x="533.1" y="324.9"/>
<use href="#sg" x="533.2" y="315.8"/>
<use href="#sg" x="533.4" y="324.9"/>
<use href="#sg" x="533.5" y="310.1"/>
<use href="#sg" x="533.6" y="302.5"/>
<use href="#sg" x="533.7" y="296.9"/>
<use href="#sg" x="533.9" y="324.9"/>
<use href="#sg" x="534" y="303.5"/>
<use href="#sg" x="534.1" y="303.5"/>
<use href="#sg" x="534.2" y="308.5"/>
<use href="#sg" x="534.4" y="297.5"/>
<use href="#sg" x="534.5" y="321.3"/>
<use href="#sg" x="534.6" y="310.1"/>
<use href="#sg" x="534.7" y="305.8"/>
<use href="#sg" x="534.8" y="329.6"/>
<use href="#sg" x="535" y="324.9"/>
<use href="#sg" x="535.1" y="329.6"/>
<use href="#sg" x="535.2" y="315.8"/>
<use href="#sg" x="535.3" y="321.3"/>
<use href="#sg" x="535.5" y="318.3"/>
<use href="#sg" x="535.6" y="291"/>
<use href="#sg" x="535.7" y="296.5"/>
<use href="#sg" x="535.8" y="324.9"/>
<use href="#sg" x="535.9" y="307.1"/>
<use href="#sg" x="536.1" y="329.6"/>
<use href="#sg" x="536.2" y="324.9"/>
<use href="#sg" x="536.3" y="321.3"/>
<use href="#sg" x="536.4" y="315.8"/>
<use href="#sg" x="536.6" y="305.8"/>
<use href="#sg" x="536.7" y="300.6"/>
<use href="#sg" x="536.8" y="307.1"/>
<use href="#sg" x="536.9" y="302.5"/>
<use href="#sg" x="537.1" y="321.3"/>
<use href="#sg" x="537.2" y="298.8"/>
<use href="#sg" x="537.3" y="329.6"/>
<use href="#sg" x="537.4" y="324.9"/>
<use href="#sg" x="537.5" y="310.1"/>
<use href="#sg" x="537.7" y="313.7"/>
<use href="#sg" x="537.8" y="302.5"/>
<use href="#sg" x="537.9" y="295.7"/>
<use href="#sg" x="538" y="310.1"/>
<use href="#sg" x="538.2" y="321.3"/>
<use href="#sg" x="538.3" y="304.6"/>
<use href="#sg" x="538.4" y="301.5"/>
<use href="#sg" x="538.5" y="296.4"/>
<use href="#sg" x="538.6" y="318.3"/>
<use href="#sg" x="538.8" y="324.9"/>
<use href="#sg" x="538.9" y="310.1"/>
<use href="#sg" x="539" y="310.1"/>
<use href="#sg" x="539.1" y="318.3"/>
<use href="#sg" x="539.3" y="329.6"/>
<use href="#sg" x="539.4" y="315.8"/>
<use href="#sg" x="539.5" y="310.1"/>
<use href="#sg" x="539.6" y="300.6"/>
<use href="#sg" x="539.8" y="310.1"/>
<use href="#sg" x="539.9" y="315.8"/>
<use href="#sg" x="540" y="315.8"/>
<use href="#sg" x="540.1" y="321.3"/>
<use href="#sg" x="540.2" y="321.3"/>
<use href="#sg" x="540.4" y="302.5"/>
<use href="#sg" x="540.5" y="298.9"/>
<use href="#sg" x="540.6" y="298.9"/>
<use href="#sg" x="540.7" y="311.8"/>
<use href="#sg" x="540.9" y="310.1"/>
<use href="#sg" x="541" y="313.7"/>
<use href="#sg" x="541.1" y="304.6"/>
<use href="#sg" x="541.2" y="296.8"/>
<use href="#sg" x="541.4" y="324.9"/>
<use href="#sg" x="541.5" y="310.1"/>
<use href="#sg" x="541.6" y="304.6"/>
<use href="#sg" x="541.7" y="297.8"/>
<use href="#sg" x="541.8" y="321.3"/>
<use href="#sg" x="542" y="311.8"/>
<use href="#sg" x="542.1" y="324.9"/>
<use href="#sg" x="542.2" y="324.9"/>
<use href="#sg" x="542.3" y="308.5"/>
<use href="#sg" x="542.5" y="297.3"/>
</g>
<path d="M343.6 196 H540 V334 H343.6 Z" fill="none" stroke="#000" stroke-width="1.6"/>
<line x1="343.6" y1="196" x2="340.6" y2="196" stroke="#000" stroke-width="1.1" />
<line x1="343.6" y1="222.1" x2="342" y2="222.1" stroke="#000" stroke-width="1.1" />
<line x1="343.6" y1="215.5" x2="342" y2="215.5" stroke="#000" stroke-width="1.1" />
<line x1="343.6" y1="210.8" x2="342" y2="210.8" stroke="#000" stroke-width="1.1" />
<line x1="343.6" y1="207.2" x2="342" y2="207.2" stroke="#000" stroke-width="1.1" />
<line x1="343.6" y1="204.3" x2="342" y2="204.3" stroke="#000" stroke-width="1.1" />
<line x1="343.6" y1="201.8" x2="342" y2="201.8" stroke="#000" stroke-width="1.1" />
<line x1="343.6" y1="199.6" x2="342" y2="199.6" stroke="#000" stroke-width="1.1" />
<line x1="343.6" y1="197.7" x2="342" y2="197.7" stroke="#000" stroke-width="1.1" />
<line x1="343.6" y1="233.3" x2="340.6" y2="233.3" stroke="#000" stroke-width="1.1" />
<line x1="343.6" y1="259.3" x2="342" y2="259.3" stroke="#000" stroke-width="1.1" />
<line x1="343.6" y1="252.8" x2="342" y2="252.8" stroke="#000" stroke-width="1.1" />
<line x1="343.6" y1="248.1" x2="342" y2="248.1" stroke="#000" stroke-width="1.1" />
<line x1="343.6" y1="244.5" x2="342" y2="244.5" stroke="#000" stroke-width="1.1" />
<line x1="343.6" y1="241.5" x2="342" y2="241.5" stroke="#000" stroke-width="1.1" />
<line x1="343.6" y1="239" x2="342" y2="239" stroke="#000" stroke-width="1.1" />
<line x1="343.6" y1="236.9" x2="342" y2="236.9" stroke="#000" stroke-width="1.1" />
<line x1="343.6" y1="235" x2="342" y2="235" stroke="#000" stroke-width="1.1" />
<line x1="343.6" y1="270.5" x2="340.6" y2="270.5" stroke="#000" stroke-width="1.1" />
<line x1="343.6" y1="296.6" x2="342" y2="296.6" stroke="#000" stroke-width="1.1" />
<line x1="343.6" y1="290" x2="342" y2="290" stroke="#000" stroke-width="1.1" />
<line x1="343.6" y1="285.4" x2="342" y2="285.4" stroke="#000" stroke-width="1.1" />
<line x1="343.6" y1="281.8" x2="342" y2="281.8" stroke="#000" stroke-width="1.1" />
<line x1="343.6" y1="278.8" x2="342" y2="278.8" stroke="#000" stroke-width="1.1" />
<line x1="343.6" y1="276.3" x2="342" y2="276.3" stroke="#000" stroke-width="1.1" />
<line x1="343.6" y1="274.2" x2="342" y2="274.2" stroke="#000" stroke-width="1.1" />
<line x1="343.6" y1="272.2" x2="342" y2="272.2" stroke="#000" stroke-width="1.1" />
<line x1="343.6" y1="307.8" x2="340.6" y2="307.8" stroke="#000" stroke-width="1.1" />
<line x1="343.6" y1="333.9" x2="342" y2="333.9" stroke="#000" stroke-width="1.1" />
<line x1="343.6" y1="327.3" x2="342" y2="327.3" stroke="#000" stroke-width="1.1" />
<line x1="343.6" y1="322.6" x2="342" y2="322.6" stroke="#000" stroke-width="1.1" />
<line x1="343.6" y1="319" x2="342" y2="319" stroke="#000" stroke-width="1.1" />
<line x1="343.6" y1="316.1" x2="342" y2="316.1" stroke="#000" stroke-width="1.1" />
<line x1="343.6" y1="313.6" x2="342" y2="313.6" stroke="#000" stroke-width="1.1" />
<line x1="343.6" y1="311.4" x2="342" y2="311.4" stroke="#000" stroke-width="1.1" />
<line x1="343.6" y1="309.5" x2="342" y2="309.5" stroke="#000" stroke-width="1.1" />
<text x="339" y="199.8" font-size="10" font-weight="bold" text-anchor="end">10<tspan font-size="6.5" dy="-4">0</tspan></text>
<text x="339" y="237.1" font-size="10" font-weight="bold" text-anchor="end">10<tspan font-size="6.5" dy="-4">-1</tspan></text>
<text x="339" y="274.3" font-size="10" font-weight="bold" text-anchor="end">10<tspan font-size="6.5" dy="-4">-2</tspan></text>
<text x="339" y="311.6" font-size="10" font-weight="bold" text-anchor="end">10<tspan font-size="6.5" dy="-4">-3</tspan></text>
<line x1="343.6" y1="334" x2="343.6" y2="337" stroke="#000" stroke-width="1.2" />
<text x="343.6" y="346.5" font-size="10" font-weight="bold" font-style="normal" text-anchor="middle" fill="#000" >0.0</text>
<line x1="368.2" y1="334" x2="368.2" y2="335.8" stroke="#000" stroke-width="1.2" />
<line x1="392.7" y1="334" x2="392.7" y2="337" stroke="#000" stroke-width="1.2" />
<text x="392.7" y="346.5" font-size="10" font-weight="bold" font-style="normal" text-anchor="middle" fill="#000" >0.4</text>
<line x1="417.2" y1="334" x2="417.2" y2="335.8" stroke="#000" stroke-width="1.2" />
<line x1="441.8" y1="334" x2="441.8" y2="337" stroke="#000" stroke-width="1.2" />
<text x="441.8" y="346.5" font-size="10" font-weight="bold" font-style="normal" text-anchor="middle" fill="#000" >0.8</text>
<line x1="466.4" y1="334" x2="466.4" y2="335.8" stroke="#000" stroke-width="1.2" />
<line x1="490.9" y1="334" x2="490.9" y2="337" stroke="#000" stroke-width="1.2" />
<text x="490.9" y="346.5" font-size="10" font-weight="bold" font-style="normal" text-anchor="middle" fill="#000" >1.2</text>
<line x1="515.5" y1="334" x2="515.5" y2="335.8" stroke="#000" stroke-width="1.2" />
<line x1="540" y1="334" x2="540" y2="337" stroke="#000" stroke-width="1.2" />
<text x="540" y="346.5" font-size="10" font-weight="bold" font-style="normal" text-anchor="middle" fill="#000" >1.6</text>
<text x="444.2" y="360" font-size="10.7" font-weight="bold" font-style="normal" text-anchor="middle" fill="#000" textLength="43.7" lengthAdjust="spacingAndGlyphs" >Time (μs)</text>
<text x="312" y="265" font-size="10.7" font-weight="bold" font-style="normal" text-anchor="middle" fill="#000" transform="rotate(-90 312 265)" textLength="139" lengthAdjust="spacingAndGlyphs" >Normalized PL Intensitu (a.u.)</text>
<use href="#sk" x="375.5" y="204.5"/>
<use href="#sg" x="375.5" y="215"/>
<text x="387.3" y="207.4" font-size="8.3" font-weight="bold" font-style="normal" text-anchor="start" fill="#000" textLength="26.3" lengthAdjust="spacingAndGlyphs" >Control</text>
<text x="387.3" y="218" font-size="8.3" font-weight="bold" font-style="normal" text-anchor="start" fill="#000" textLength="19.7" lengthAdjust="spacingAndGlyphs" >FDPP</text>
<rect x="430" y="196" width="110" height="77.2" fill="#fff"/>
<line x1="430" y1="196" x2="430" y2="273.2" stroke="#000" stroke-width="1.1" />
<line x1="430" y1="273.2" x2="540" y2="273.2" stroke="#000" stroke-width="1.1" />
<line x1="430" y1="273.2" x2="427.8" y2="273.2" stroke="#000" stroke-width="0.9" />
<text x="427" y="275.3" font-size="6" font-weight="bold" font-style="normal" text-anchor="end" fill="#333" >0</text>
<line x1="430" y1="254.5" x2="427.8" y2="254.5" stroke="#000" stroke-width="0.9" />
<text x="427" y="256.6" font-size="6" font-weight="bold" font-style="normal" text-anchor="end" fill="#333" >20</text>
<line x1="430" y1="235.9" x2="427.8" y2="235.9" stroke="#000" stroke-width="0.9" />
<text x="427" y="238" font-size="6" font-weight="bold" font-style="normal" text-anchor="end" fill="#333" >40</text>
<line x1="430" y1="217.2" x2="427.8" y2="217.2" stroke="#000" stroke-width="0.9" />
<text x="427" y="219.3" font-size="6" font-weight="bold" font-style="normal" text-anchor="end" fill="#333" >60</text>
<line x1="430" y1="198.6" x2="427.8" y2="198.6" stroke="#000" stroke-width="0.9" />
<text x="427" y="200.7" font-size="6" font-weight="bold" font-style="normal" text-anchor="end" fill="#333" >80</text>
<line x1="430" y1="263.9" x2="428.8" y2="263.9" stroke="#000" stroke-width="0.7" />
<line x1="430" y1="245.2" x2="428.8" y2="245.2" stroke="#000" stroke-width="0.7" />
<line x1="430" y1="226.6" x2="428.8" y2="226.6" stroke="#000" stroke-width="0.7" />
<line x1="430" y1="207.9" x2="428.8" y2="207.9" stroke="#000" stroke-width="0.7" />
<rect x="440.5" y="237.2" width="20.3" height="36" fill="#505050"/>
<rect x="482.7" y="206.8" width="20.4" height="66.4" fill="#16a96c"/>
<text x="450.6" y="235.6" font-size="6.5" font-weight="bold" font-style="normal" text-anchor="middle" fill="#000" >39</text>
<text x="492.9" y="205.3" font-size="6.5" font-weight="bold" font-style="normal" text-anchor="middle" fill="#000" >72</text>
<text x="418.3" y="234" font-size="7.8" font-weight="bold" font-style="normal" text-anchor="middle" fill="#000" transform="rotate(-90 418.3 234)" textLength="32.8" lengthAdjust="spacingAndGlyphs" >PLQY (%)</text>
<rect x="504.9" y="201.7" width="9.6" height="4.2" fill="#505050"/>
<rect x="504.9" y="209.5" width="9.6" height="4.2" fill="#16a96c"/>
<text x="515.8" y="205.9" font-size="6" font-weight="bold" font-style="normal" text-anchor="start" fill="#000" textLength="20.6" lengthAdjust="spacingAndGlyphs" >Control</text>
<text x="515.8" y="213.6" font-size="6" font-weight="bold" font-style="normal" text-anchor="start" fill="#000" textLength="15" lengthAdjust="spacingAndGlyphs" >FDPP</text>
<text x="8" y="397.6" font-size="17" font-weight="bold" font-style="normal" text-anchor="start" fill="#000" >e</text>
<rect x="55.8" y="390.3" width="167.8" height="138.3" fill="#dbebfa"/>
<rect x="223.6" y="390.3" width="10.4" height="138.3" fill="#f4ebf8"/>
<rect x="234" y="390.3" width="18.7" height="138.3" fill="#d5cf95"/>
<polyline points="133.3,499.8 135.5,499 138.6,497.8 142.3,496.4 146.2,495 150,493.6 153.8,492.3 157.8,490.9 161.8,489.4 165.9,488 170,486.6 174,485.2 178,483.8 182,482.4 186,481 190,479.6 194.1,478.2 198.3,476.7 202.4,475.3 206.4,473.9 210,472.6 213.3,471.4 216.4,470.3 219.3,469.3 221.8,468.3 224,467.2 225.7,466.1 227,464.9 228,463.7 228.9,462.6 230,461.5 231.2,460.5 232.3,459.5 233.5,458.5 234.7,457.7 236,457 237.5,456.5 239,456.2 240.7,456 242.3,455.8 244,455.6 245.8,455.4 247.8,455.3 249.8,455.2 251.5,455.1 252.7,455" fill="none" stroke="#4a4a4a" stroke-width="2.8" stroke-linejoin="round" stroke-linecap="round" />
<polyline points="222,467.8 222.8,467.2 223.9,466.3 225.2,465.2 226.6,464.1 228,463 229.5,461.8 231.1,460.6 232.7,459.3 234.4,458.1 236,457.2 237.6,456.6 239.2,456.2 240.7,456 242.4,455.8 244,455.6 245.8,455.4 247.8,455.2 249.8,455 251.5,454.9 252.7,454.8" fill="none" stroke="#4a4a4a" stroke-width="3.8" stroke-linejoin="round" stroke-linecap="round" />
<use href="#sk2" x="137.3" y="497.5" transform="translate(54.9 199) scale(0.6)"/>
<use href="#sk2" x="142.3" y="495.6" transform="translate(56.9 198.3) scale(0.6)"/>
<use href="#sk2" x="147.3" y="493.8" transform="translate(58.9 197.5) scale(0.6)"/>
<use href="#sk2" x="152.3" y="492" transform="translate(60.9 196.8) scale(0.6)"/>
<use href="#sk2" x="157.3" y="490.2" transform="translate(62.9 196.1) scale(0.6)"/>
<use href="#sk2" x="162.3" y="488.5" transform="translate(64.9 195.4) scale(0.6)"/>
<line x1="133.3" y1="501.7" x2="231.6" y2="466.7" stroke="#f23c3c" stroke-width="3.3" stroke-linecap="butt"/>
<line x1="223.5" y1="471.2" x2="246.4" y2="448" stroke="#fff000" stroke-width="2.6" stroke-linecap="butt"/>
<use href="#sk3" x="117.6" y="506.4"/>
<use href="#sk3" x="129.1" y="500.5"/>
<use href="#sk3" x="252" y="447.5"/>
<use href="#sk3" x="252" y="453"/>
<path d="M55.8 390.3 H252.7 V528.6 H55.8 Z" fill="none" stroke="#000" stroke-width="2.1"/>
<line x1="55.8" y1="528.6" x2="55.8" y2="532.6" stroke="#000" stroke-width="1.3" />
<line x1="75.1" y1="528.6" x2="75.1" y2="531.4" stroke="#000" stroke-width="1.3" />
<line x1="86.4" y1="528.6" x2="86.4" y2="531.4" stroke="#000" stroke-width="1.3" />
<line x1="94.5" y1="528.6" x2="94.5" y2="531.4" stroke="#000" stroke-width="1.3" />
<line x1="100.7" y1="528.6" x2="100.7" y2="531.4" stroke="#000" stroke-width="1.3" />
<line x1="105.8" y1="528.6" x2="105.8" y2="531.4" stroke="#000" stroke-width="1.3" />
<line x1="110.1" y1="528.6" x2="110.1" y2="531.4" stroke="#000" stroke-width="1.3" />
<line x1="113.8" y1="528.6" x2="113.8" y2="531.4" stroke="#000" stroke-width="1.3" />
<line x1="117.1" y1="528.6" x2="117.1" y2="531.4" stroke="#000" stroke-width="1.3" />
<line x1="120" y1="528.6" x2="120" y2="532.6" stroke="#000" stroke-width="1.3" />
<line x1="139.3" y1="528.6" x2="139.3" y2="531.4" stroke="#000" stroke-width="1.3" />
<line x1="150.6" y1="528.6" x2="150.6" y2="531.4" stroke="#000" stroke-width="1.3" />
<line x1="158.7" y1="528.6" x2="158.7" y2="531.4" stroke="#000" stroke-width="1.3" />
<line x1="164.9" y1="528.6" x2="164.9" y2="531.4" stroke="#000" stroke-width="1.3" />
<line x1="170" y1="528.6" x2="170" y2="531.4" stroke="#000" stroke-width="1.3" />
<line x1="174.3" y1="528.6" x2="174.3" y2="531.4" stroke="#000" stroke-width="1.3" />
<line x1="178" y1="528.6" x2="178" y2="531.4" stroke="#000" stroke-width="1.3" />
<line x1="181.3" y1="528.6" x2="181.3" y2="531.4" stroke="#000" stroke-width="1.3" />
<line x1="184.2" y1="528.6" x2="184.2" y2="532.6" stroke="#000" stroke-width="1.3" />
<line x1="203.5" y1="528.6" x2="203.5" y2="531.4" stroke="#000" stroke-width="1.3" />
<line x1="214.8" y1="528.6" x2="214.8" y2="531.4" stroke="#000" stroke-width="1.3" />
<line x1="222.9" y1="528.6" x2="222.9" y2="531.4" stroke="#000" stroke-width="1.3" />
<line x1="229.1" y1="528.6" x2="229.1" y2="531.4" stroke="#000" stroke-width="1.3" />
<line x1="234.2" y1="528.6" x2="234.2" y2="531.4" stroke="#000" stroke-width="1.3" />
<line x1="238.5" y1="528.6" x2="238.5" y2="531.4" stroke="#000" stroke-width="1.3" />
<line x1="242.2" y1="528.6" x2="242.2" y2="531.4" stroke="#000" stroke-width="1.3" />
<line x1="245.5" y1="528.6" x2="245.5" y2="531.4" stroke="#000" stroke-width="1.3" />
<line x1="248.4" y1="528.6" x2="248.4" y2="532.6" stroke="#000" stroke-width="1.3" />
<text x="55.8" y="540.8" font-size="8" font-weight="bold" font-style="normal" text-anchor="middle" fill="#000" >0.01</text>
<text x="120" y="540.8" font-size="8" font-weight="bold" font-style="normal" text-anchor="middle" fill="#000" >0.1</text>
<text x="184.2" y="540.8" font-size="8" font-weight="bold" font-style="normal" text-anchor="middle" fill="#000" >1</text>
<text x="248.4" y="540.8" font-size="8" font-weight="bold" font-style="normal" text-anchor="middle" fill="#000" >10</text>
<line x1="55.8" y1="528.6" x2="52" y2="528.6" stroke="#000" stroke-width="1.3" />
<line x1="55.8" y1="524" x2="53.4" y2="524" stroke="#000" stroke-width="1.0" />
<line x1="55.8" y1="521.3" x2="53.8" y2="521.3" stroke="#000" stroke-width="1.0" />
<line x1="55.8" y1="519.3" x2="53.8" y2="519.3" stroke="#000" stroke-width="1.0" />
<line x1="55.8" y1="517.9" x2="53.4" y2="517.9" stroke="#000" stroke-width="1.0" />
<line x1="55.8" y1="516.6" x2="53.8" y2="516.6" stroke="#000" stroke-width="1.0" />
<line x1="55.8" y1="515.6" x2="53.8" y2="515.6" stroke="#000" stroke-width="1.0" />
<line x1="55.8" y1="514.7" x2="53.8" y2="514.7" stroke="#000" stroke-width="1.0" />
<line x1="55.8" y1="513.9" x2="53.8" y2="513.9" stroke="#000" stroke-width="1.0" />
<line x1="55.8" y1="513.2" x2="52.8" y2="513.2" stroke="#000" stroke-width="1.3" />
<line x1="55.8" y1="508.6" x2="53.4" y2="508.6" stroke="#000" stroke-width="1.0" />
<line x1="55.8" y1="505.9" x2="53.8" y2="505.9" stroke="#000" stroke-width="1.0" />
<line x1="55.8" y1="504" x2="53.8" y2="504" stroke="#000" stroke-width="1.0" />
<line x1="55.8" y1="502.5" x2="53.4" y2="502.5" stroke="#000" stroke-width="1.0" />
<line x1="55.8" y1="501.3" x2="53.8" y2="501.3" stroke="#000" stroke-width="1.0" />
<line x1="55.8" y1="500.2" x2="53.8" y2="500.2" stroke="#000" stroke-width="1.0" />
<line x1="55.8" y1="499.3" x2="53.8" y2="499.3" stroke="#000" stroke-width="1.0" />
<line x1="55.8" y1="498.6" x2="53.8" y2="498.6" stroke="#000" stroke-width="1.0" />
<line x1="55.8" y1="497.9" x2="52" y2="497.9" stroke="#000" stroke-width="1.3" />
<line x1="55.8" y1="493.2" x2="53.4" y2="493.2" stroke="#000" stroke-width="1.0" />
<line x1="55.8" y1="490.5" x2="53.8" y2="490.5" stroke="#000" stroke-width="1.0" />
<line x1="55.8" y1="488.6" x2="53.8" y2="488.6" stroke="#000" stroke-width="1.0" />
<line x1="55.8" y1="487.1" x2="53.4" y2="487.1" stroke="#000" stroke-width="1.0" />
<line x1="55.8" y1="485.9" x2="53.8" y2="485.9" stroke="#000" stroke-width="1.0" />
<line x1="55.8" y1="484.9" x2="53.8" y2="484.9" stroke="#000" stroke-width="1.0" />
<line x1="55.8" y1="484" x2="53.8" y2="484" stroke="#000" stroke-width="1.0" />
<line x1="55.8" y1="483.2" x2="53.8" y2="483.2" stroke="#000" stroke-width="1.0" />
<line x1="55.8" y1="482.5" x2="52.8" y2="482.5" stroke="#000" stroke-width="1.3" />
<line x1="55.8" y1="477.9" x2="53.4" y2="477.9" stroke="#000" stroke-width="1.0" />
<line x1="55.8" y1="475.2" x2="53.8" y2="475.2" stroke="#000" stroke-width="1.0" />
<line x1="55.8" y1="473.2" x2="53.8" y2="473.2" stroke="#000" stroke-width="1.0" />
<line x1="55.8" y1="471.7" x2="53.4" y2="471.7" stroke="#000" stroke-width="1.0" />
<line x1="55.8" y1="470.5" x2="53.8" y2="470.5" stroke="#000" stroke-width="1.0" />
<line x1="55.8" y1="469.5" x2="53.8" y2="469.5" stroke="#000" stroke-width="1.0" />
<line x1="55.8" y1="468.6" x2="53.8" y2="468.6" stroke="#000" stroke-width="1.0" />
<line x1="55.8" y1="467.8" x2="53.8" y2="467.8" stroke="#000" stroke-width="1.0" />
<line x1="55.8" y1="467.1" x2="52" y2="467.1" stroke="#000" stroke-width="1.3" />
<line x1="55.8" y1="462.5" x2="53.4" y2="462.5" stroke="#000" stroke-width="1.0" />
<line x1="55.8" y1="459.8" x2="53.8" y2="459.8" stroke="#000" stroke-width="1.0" />
<line x1="55.8" y1="457.9" x2="53.8" y2="457.9" stroke="#000" stroke-width="1.0" />
<line x1="55.8" y1="456.4" x2="53.4" y2="456.4" stroke="#000" stroke-width="1.0" />
<line x1="55.8" y1="455.2" x2="53.8" y2="455.2" stroke="#000" stroke-width="1.0" />
<line x1="55.8" y1="454.1" x2="53.8" y2="454.1" stroke="#000" stroke-width="1.0" />
<line x1="55.8" y1="453.2" x2="53.8" y2="453.2" stroke="#000" stroke-width="1.0" />
<line x1="55.8" y1="452.5" x2="53.8" y2="452.5" stroke="#000" stroke-width="1.0" />
<line x1="55.8" y1="451.8" x2="52.8" y2="451.8" stroke="#000" stroke-width="1.3" />
<line x1="55.8" y1="447.1" x2="53.4" y2="447.1" stroke="#000" stroke-width="1.0" />
<line x1="55.8" y1="444.4" x2="53.8" y2="444.4" stroke="#000" stroke-width="1.0" />
<line x1="55.8" y1="442.5" x2="53.8" y2="442.5" stroke="#000" stroke-width="1.0" />
<line x1="55.8" y1="441" x2="53.4" y2="441" stroke="#000" stroke-width="1.0" />
<line x1="55.8" y1="439.8" x2="53.8" y2="439.8" stroke="#000" stroke-width="1.0" />
<line x1="55.8" y1="438.8" x2="53.8" y2="438.8" stroke="#000" stroke-width="1.0" />
<line x1="55.8" y1="437.9" x2="53.8" y2="437.9" stroke="#000" stroke-width="1.0" />
<line x1="55.8" y1="437.1" x2="53.8" y2="437.1" stroke="#000" stroke-width="1.0" />
<line x1="55.8" y1="436.4" x2="52" y2="436.4" stroke="#000" stroke-width="1.3" />
<line x1="55.8" y1="431.8" x2="53.4" y2="431.8" stroke="#000" stroke-width="1.0" />
<line x1="55.8" y1="429" x2="53.8" y2="429" stroke="#000" stroke-width="1.0" />
<line x1="55.8" y1="427.1" x2="53.8" y2="427.1" stroke="#000" stroke-width="1.0" />
<line x1="55.8" y1="425.6" x2="53.4" y2="425.6" stroke="#000" stroke-width="1.0" />
<line x1="55.8" y1="424.4" x2="53.8" y2="424.4" stroke="#000" stroke-width="1.0" />
<line x1="55.8" y1="423.4" x2="53.8" y2="423.4" stroke="#000" stroke-width="1.0" />
<line x1="55.8" y1="422.5" x2="53.8" y2="422.5" stroke="#000" stroke-width="1.0" />
<line x1="55.8" y1="421.7" x2="53.8" y2="421.7" stroke="#000" stroke-width="1.0" />
<line x1="55.8" y1="421" x2="52.8" y2="421" stroke="#000" stroke-width="1.3" />
<line x1="55.8" y1="416.4" x2="53.4" y2="416.4" stroke="#000" stroke-width="1.0" />
<line x1="55.8" y1="413.7" x2="53.8" y2="413.7" stroke="#000" stroke-width="1.0" />
<line x1="55.8" y1="411.8" x2="53.8" y2="411.8" stroke="#000" stroke-width="1.0" />
<line x1="55.8" y1="410.3" x2="53.4" y2="410.3" stroke="#000" stroke-width="1.0" />
<line x1="55.8" y1="409" x2="53.8" y2="409" stroke="#000" stroke-width="1.0" />
<line x1="55.8" y1="408" x2="53.8" y2="408" stroke="#000" stroke-width="1.0" />
<line x1="55.8" y1="407.1" x2="53.8" y2="407.1" stroke="#000" stroke-width="1.0" />
<line x1="55.8" y1="406.3" x2="53.8" y2="406.3" stroke="#000" stroke-width="1.0" />
<line x1="55.8" y1="405.6" x2="52" y2="405.6" stroke="#000" stroke-width="1.3" />
<line x1="55.8" y1="401" x2="53.4" y2="401" stroke="#000" stroke-width="1.0" />
<line x1="55.8" y1="398.3" x2="53.8" y2="398.3" stroke="#000" stroke-width="1.0" />
<line x1="55.8" y1="396.4" x2="53.8" y2="396.4" stroke="#000" stroke-width="1.0" />
<line x1="55.8" y1="394.9" x2="53.4" y2="394.9" stroke="#000" stroke-width="1.0" />
<line x1="55.8" y1="393.7" x2="53.8" y2="393.7" stroke="#000" stroke-width="1.0" />
<line x1="55.8" y1="392.7" x2="53.8" y2="392.7" stroke="#000" stroke-width="1.0" />
<line x1="55.8" y1="391.8" x2="53.8" y2="391.8" stroke="#000" stroke-width="1.0" />
<line x1="55.8" y1="391" x2="53.8" y2="391" stroke="#000" stroke-width="1.0" />
<line x1="55.8" y1="390.3" x2="52.8" y2="390.3" stroke="#000" stroke-width="1.3" />
<text x="50" y="409.2" font-size="9.6" font-weight="bold" text-anchor="end">10<tspan font-size="6.2" dy="-3.6">−1</tspan></text>
<text x="50" y="440" font-size="9.6" font-weight="bold" text-anchor="end">10<tspan font-size="6.2" dy="-3.6">−3</tspan></text>
<text x="50" y="470.7" font-size="9.6" font-weight="bold" text-anchor="end">10<tspan font-size="6.2" dy="-3.6">−5</tspan></text>
<text x="50" y="501.5" font-size="9.6" font-weight="bold" text-anchor="end">10<tspan font-size="6.2" dy="-3.6">−7</tspan></text>
<text x="50" y="532.2" font-size="9.6" font-weight="bold" text-anchor="end">10<tspan font-size="6.2" dy="-3.6">−9</tspan></text>
<use href="#sk3" x="206.4" y="412.6"/>
<text x="218" y="415.5" font-size="8.3" font-weight="bold" font-style="normal" text-anchor="start" fill="#000" textLength="27" lengthAdjust="spacingAndGlyphs" >Control</text>
<text x="130.9" y="467.3" font-size="9" font-weight="bold"><tspan font-style="italic">V</tspan><tspan font-style="italic" font-size="6.5" dy="2">TFL</tspan><tspan dy="-2"> = 4.94 V</tspan></text>
<text x="125.5" y="526.4" font-size="8" font-weight="bold" font-style="normal" text-anchor="start" fill="#000" textLength="23.2" lengthAdjust="spacingAndGlyphs" >Ohmic</text>
<text x="216.9" y="527" font-size="8" font-weight="bold" font-style="normal" text-anchor="start" fill="#000" textLength="14.9" lengthAdjust="spacingAndGlyphs" >TFL</text>
<text x="234" y="527" font-size="8" font-weight="bold" font-style="normal" text-anchor="start" fill="#000" textLength="18.2" lengthAdjust="spacingAndGlyphs" >Child</text>
<text x="20.8" y="458.6" font-size="10.7" font-weight="bold" font-style="normal" text-anchor="middle" fill="#000" transform="rotate(-90 20.8 458.6)" textLength="54.7" lengthAdjust="spacingAndGlyphs" >Current (A)</text>
<text x="151.7" y="556.4" font-size="10.7" font-weight="bold" font-style="normal" text-anchor="middle" fill="#000" textLength="52.6" lengthAdjust="spacingAndGlyphs" >Voltage (V)</text>
<text x="292" y="397.8" font-size="17" font-weight="bold" font-style="normal" text-anchor="start" fill="#000" >f</text>
<rect x="346.7" y="389.8" width="143.3" height="138.5" fill="#dbebfa"/>
<rect x="490" y="389.8" width="34.2" height="138.5" fill="#f4ebf8"/>
<rect x="524.2" y="389.8" width="19.8" height="138.5" fill="#d5cf95"/>
<polyline points="438,492.3 438.2,492.3 438.2,492.3 438.5,492.3 439.3,492 441,491.5 443.9,490.5 447.7,489.3 452,487.8 456.3,486.3 460,485 463,483.8 465.8,482.7 468.3,481.7 470.9,480.6 473.6,479.5 476.6,478.4 479.9,477.3 483.1,476.1 486.1,475 488.6,474 490.6,473.1 492.1,472.2 493.4,471.4 494.6,470.5 496,469.5 497.5,468.4 499,467.3 500.5,466.1 502,464.9 503.6,463.6 505.2,462.2 506.9,460.8 508.6,459.4 510.3,457.9 512,456.5 513.6,455.2 515.2,453.9 516.8,452.6 518.4,451.3 520,450 521.6,448.7 523.2,447.3 524.8,446 526.4,444.7 528,443.5 529.6,442.4 531.2,441.5 532.8,440.6 534.4,439.8 536,439 537.7,438.3 539.6,437.5 541.4,436.9 542.9,436.4 544,436" fill="none" stroke="#12a878" stroke-width="4.0" stroke-linejoin="round" stroke-linecap="round" />
<polyline points="404.5,504.1 407.9,503 412.6,501.5 418.3,499.8 424.2,497.9 430,496 435.9,494.1 442.2,492 448.5,489.9 454.6,487.8 460,486 464.7,484.4 469,482.9 472.9,481.6 476.5,480.3 480,479 483.5,477.7 486.9,476.3 490,475 492.6,474 494.5,473.2" fill="none" stroke="#4a4a4a" stroke-width="3.4" stroke-linejoin="round" stroke-linecap="round" stroke-linecap="butt"/>
<circle cx="408" cy="500.8" r="1.5" fill="#18b07a"/>
<circle cx="419" cy="497.3" r="1.5" fill="#18b07a"/>
<circle cx="427.3" cy="494.7" r="1.5" fill="#18b07a"/>
<circle cx="433.6" cy="492.6" r="1.5" fill="#18b07a"/>
<line x1="489" y1="476.5" x2="528" y2="443.6" stroke="#00f0ea" stroke-width="1.6" stroke-linecap="butt"/>
<use href="#sg3" x="389.1" y="512.7"/>
<path d="M346.7 389.8 H544 V528.3 H346.7 Z" fill="none" stroke="#000" stroke-width="2.1"/>
<line x1="346.7" y1="528.3" x2="346.7" y2="532.3" stroke="#000" stroke-width="1.3" />
<line x1="365.9" y1="528.3" x2="365.9" y2="531.1" stroke="#000" stroke-width="1.3" />
<line x1="377.1" y1="528.3" x2="377.1" y2="531.1" stroke="#000" stroke-width="1.3" />
<line x1="385.1" y1="528.3" x2="385.1" y2="531.1" stroke="#000" stroke-width="1.3" />
<line x1="391.3" y1="528.3" x2="391.3" y2="531.1" stroke="#000" stroke-width="1.3" />
<line x1="396.3" y1="528.3" x2="396.3" y2="531.1" stroke="#000" stroke-width="1.3" />
<line x1="400.6" y1="528.3" x2="400.6" y2="531.1" stroke="#000" stroke-width="1.3" />
<line x1="404.3" y1="528.3" x2="404.3" y2="531.1" stroke="#000" stroke-width="1.3" />
<line x1="407.6" y1="528.3" x2="407.6" y2="531.1" stroke="#000" stroke-width="1.3" />
<line x1="410.5" y1="528.3" x2="410.5" y2="532.3" stroke="#000" stroke-width="1.3" />
<line x1="429.7" y1="528.3" x2="429.7" y2="531.1" stroke="#000" stroke-width="1.3" />
<line x1="440.9" y1="528.3" x2="440.9" y2="531.1" stroke="#000" stroke-width="1.3" />
<line x1="448.9" y1="528.3" x2="448.9" y2="531.1" stroke="#000" stroke-width="1.3" />
<line x1="455.1" y1="528.3" x2="455.1" y2="531.1" stroke="#000" stroke-width="1.3" />
<line x1="460.1" y1="528.3" x2="460.1" y2="531.1" stroke="#000" stroke-width="1.3" />
<line x1="464.4" y1="528.3" x2="464.4" y2="531.1" stroke="#000" stroke-width="1.3" />
<line x1="468.1" y1="528.3" x2="468.1" y2="531.1" stroke="#000" stroke-width="1.3" />
<line x1="471.4" y1="528.3" x2="471.4" y2="531.1" stroke="#000" stroke-width="1.3" />
<line x1="474.3" y1="528.3" x2="474.3" y2="532.3" stroke="#000" stroke-width="1.3" />
<line x1="493.5" y1="528.3" x2="493.5" y2="531.1" stroke="#000" stroke-width="1.3" />
<line x1="504.7" y1="528.3" x2="504.7" y2="531.1" stroke="#000" stroke-width="1.3" />
<line x1="512.7" y1="528.3" x2="512.7" y2="531.1" stroke="#000" stroke-width="1.3" />
<line x1="518.9" y1="528.3" x2="518.9" y2="531.1" stroke="#000" stroke-width="1.3" />
<line x1="523.9" y1="528.3" x2="523.9" y2="531.1" stroke="#000" stroke-width="1.3" />
<line x1="528.2" y1="528.3" x2="528.2" y2="531.1" stroke="#000" stroke-width="1.3" />
<line x1="531.9" y1="528.3" x2="531.9" y2="531.1" stroke="#000" stroke-width="1.3" />
<line x1="535.2" y1="528.3" x2="535.2" y2="531.1" stroke="#000" stroke-width="1.3" />
<line x1="538.1" y1="528.3" x2="538.1" y2="532.3" stroke="#000" stroke-width="1.3" />
<text x="346.7" y="540.5" font-size="9.3" font-weight="bold" font-style="normal" text-anchor="middle" fill="#000" >0.01</text>
<text x="410.5" y="540.5" font-size="9.3" font-weight="bold" font-style="normal" text-anchor="middle" fill="#000" >0.1</text>
<text x="474.3" y="540.5" font-size="9.3" font-weight="bold" font-style="normal" text-anchor="middle" fill="#000" >1</text>
<text x="538.1" y="540.5" font-size="9.3" font-weight="bold" font-style="normal" text-anchor="middle" fill="#000" >10</text>
<line x1="346.7" y1="528.3" x2="342.9" y2="528.3" stroke="#000" stroke-width="1.3" />
<line x1="346.7" y1="523.7" x2="344.3" y2="523.7" stroke="#000" stroke-width="1.0" />
<line x1="346.7" y1="521" x2="344.7" y2="521" stroke="#000" stroke-width="1.0" />
<line x1="346.7" y1="519" x2="344.7" y2="519" stroke="#000" stroke-width="1.0" />
<line x1="346.7" y1="517.5" x2="344.3" y2="517.5" stroke="#000" stroke-width="1.0" />
<line x1="346.7" y1="516.3" x2="344.7" y2="516.3" stroke="#000" stroke-width="1.0" />
<line x1="346.7" y1="515.3" x2="344.7" y2="515.3" stroke="#000" stroke-width="1.0" />
<line x1="346.7" y1="514.4" x2="344.7" y2="514.4" stroke="#000" stroke-width="1.0" />
<line x1="346.7" y1="513.6" x2="344.7" y2="513.6" stroke="#000" stroke-width="1.0" />
<line x1="346.7" y1="512.9" x2="343.7" y2="512.9" stroke="#000" stroke-width="1.3" />
<line x1="346.7" y1="508.3" x2="344.3" y2="508.3" stroke="#000" stroke-width="1.0" />
<line x1="346.7" y1="505.6" x2="344.7" y2="505.6" stroke="#000" stroke-width="1.0" />
<line x1="346.7" y1="503.6" x2="344.7" y2="503.6" stroke="#000" stroke-width="1.0" />
<line x1="346.7" y1="502.1" x2="344.3" y2="502.1" stroke="#000" stroke-width="1.0" />
<line x1="346.7" y1="500.9" x2="344.7" y2="500.9" stroke="#000" stroke-width="1.0" />
<line x1="346.7" y1="499.9" x2="344.7" y2="499.9" stroke="#000" stroke-width="1.0" />
<line x1="346.7" y1="499" x2="344.7" y2="499" stroke="#000" stroke-width="1.0" />
<line x1="346.7" y1="498.2" x2="344.7" y2="498.2" stroke="#000" stroke-width="1.0" />
<line x1="346.7" y1="497.5" x2="342.9" y2="497.5" stroke="#000" stroke-width="1.3" />
<line x1="346.7" y1="492.9" x2="344.3" y2="492.9" stroke="#000" stroke-width="1.0" />
<line x1="346.7" y1="490.2" x2="344.7" y2="490.2" stroke="#000" stroke-width="1.0" />
<line x1="346.7" y1="488.2" x2="344.7" y2="488.2" stroke="#000" stroke-width="1.0" />
<line x1="346.7" y1="486.7" x2="344.3" y2="486.7" stroke="#000" stroke-width="1.0" />
<line x1="346.7" y1="485.5" x2="344.7" y2="485.5" stroke="#000" stroke-width="1.0" />
<line x1="346.7" y1="484.5" x2="344.7" y2="484.5" stroke="#000" stroke-width="1.0" />
<line x1="346.7" y1="483.6" x2="344.7" y2="483.6" stroke="#000" stroke-width="1.0" />
<line x1="346.7" y1="482.8" x2="344.7" y2="482.8" stroke="#000" stroke-width="1.0" />
<line x1="346.7" y1="482.1" x2="343.7" y2="482.1" stroke="#000" stroke-width="1.3" />
<line x1="346.7" y1="477.5" x2="344.3" y2="477.5" stroke="#000" stroke-width="1.0" />
<line x1="346.7" y1="474.8" x2="344.7" y2="474.8" stroke="#000" stroke-width="1.0" />
<line x1="346.7" y1="472.8" x2="344.7" y2="472.8" stroke="#000" stroke-width="1.0" />
<line x1="346.7" y1="471.3" x2="344.3" y2="471.3" stroke="#000" stroke-width="1.0" />
<line x1="346.7" y1="470.1" x2="344.7" y2="470.1" stroke="#000" stroke-width="1.0" />
<line x1="346.7" y1="469.1" x2="344.7" y2="469.1" stroke="#000" stroke-width="1.0" />
<line x1="346.7" y1="468.2" x2="344.7" y2="468.2" stroke="#000" stroke-width="1.0" />
<line x1="346.7" y1="467.4" x2="344.7" y2="467.4" stroke="#000" stroke-width="1.0" />
<line x1="346.7" y1="466.7" x2="342.9" y2="466.7" stroke="#000" stroke-width="1.3" />
<line x1="346.7" y1="462.1" x2="344.3" y2="462.1" stroke="#000" stroke-width="1.0" />
<line x1="346.7" y1="459.4" x2="344.7" y2="459.4" stroke="#000" stroke-width="1.0" />
<line x1="346.7" y1="457.4" x2="344.7" y2="457.4" stroke="#000" stroke-width="1.0" />
<line x1="346.7" y1="455.9" x2="344.3" y2="455.9" stroke="#000" stroke-width="1.0" />
<line x1="346.7" y1="454.7" x2="344.7" y2="454.7" stroke="#000" stroke-width="1.0" />
<line x1="346.7" y1="453.7" x2="344.7" y2="453.7" stroke="#000" stroke-width="1.0" />
<line x1="346.7" y1="452.8" x2="344.7" y2="452.8" stroke="#000" stroke-width="1.0" />
<line x1="346.7" y1="452" x2="344.7" y2="452" stroke="#000" stroke-width="1.0" />
<line x1="346.7" y1="451.3" x2="343.7" y2="451.3" stroke="#000" stroke-width="1.3" />
<line x1="346.7" y1="446.7" x2="344.3" y2="446.7" stroke="#000" stroke-width="1.0" />
<line x1="346.7" y1="444" x2="344.7" y2="444" stroke="#000" stroke-width="1.0" />
<line x1="346.7" y1="442" x2="344.7" y2="442" stroke="#000" stroke-width="1.0" />
<line x1="346.7" y1="440.5" x2="344.3" y2="440.5" stroke="#000" stroke-width="1.0" />
<line x1="346.7" y1="439.3" x2="344.7" y2="439.3" stroke="#000" stroke-width="1.0" />
<line x1="346.7" y1="438.3" x2="344.7" y2="438.3" stroke="#000" stroke-width="1.0" />
<line x1="346.7" y1="437.4" x2="344.7" y2="437.4" stroke="#000" stroke-width="1.0" />
<line x1="346.7" y1="436.6" x2="344.7" y2="436.6" stroke="#000" stroke-width="1.0" />
<line x1="346.7" y1="435.9" x2="342.9" y2="435.9" stroke="#000" stroke-width="1.3" />
<line x1="346.7" y1="431.3" x2="344.3" y2="431.3" stroke="#000" stroke-width="1.0" />
<line x1="346.7" y1="428.6" x2="344.7" y2="428.6" stroke="#000" stroke-width="1.0" />
<line x1="346.7" y1="426.6" x2="344.7" y2="426.6" stroke="#000" stroke-width="1.0" />
<line x1="346.7" y1="425.1" x2="344.3" y2="425.1" stroke="#000" stroke-width="1.0" />
<line x1="346.7" y1="423.9" x2="344.7" y2="423.9" stroke="#000" stroke-width="1.0" />
<line x1="346.7" y1="422.9" x2="344.7" y2="422.9" stroke="#000" stroke-width="1.0" />
<line x1="346.7" y1="422" x2="344.7" y2="422" stroke="#000" stroke-width="1.0" />
<line x1="346.7" y1="421.2" x2="344.7" y2="421.2" stroke="#000" stroke-width="1.0" />
<line x1="346.7" y1="420.5" x2="343.7" y2="420.5" stroke="#000" stroke-width="1.3" />
<line x1="346.7" y1="415.9" x2="344.3" y2="415.9" stroke="#000" stroke-width="1.0" />
<line x1="346.7" y1="413.2" x2="344.7" y2="413.2" stroke="#000" stroke-width="1.0" />
<line x1="346.7" y1="411.2" x2="344.7" y2="411.2" stroke="#000" stroke-width="1.0" />
<line x1="346.7" y1="409.7" x2="344.3" y2="409.7" stroke="#000" stroke-width="1.0" />
<line x1="346.7" y1="408.5" x2="344.7" y2="408.5" stroke="#000" stroke-width="1.0" />
<line x1="346.7" y1="407.5" x2="344.7" y2="407.5" stroke="#000" stroke-width="1.0" />
<line x1="346.7" y1="406.6" x2="344.7" y2="406.6" stroke="#000" stroke-width="1.0" />
<line x1="346.7" y1="405.8" x2="344.7" y2="405.8" stroke="#000" stroke-width="1.0" />
<line x1="346.7" y1="405.1" x2="342.9" y2="405.1" stroke="#000" stroke-width="1.3" />
<line x1="346.7" y1="400.5" x2="344.3" y2="400.5" stroke="#000" stroke-width="1.0" />
<line x1="346.7" y1="397.8" x2="344.7" y2="397.8" stroke="#000" stroke-width="1.0" />
<line x1="346.7" y1="395.8" x2="344.7" y2="395.8" stroke="#000" stroke-width="1.0" />
<line x1="346.7" y1="394.3" x2="344.3" y2="394.3" stroke="#000" stroke-width="1.0" />
<line x1="346.7" y1="393.1" x2="344.7" y2="393.1" stroke="#000" stroke-width="1.0" />
<line x1="346.7" y1="392.1" x2="344.7" y2="392.1" stroke="#000" stroke-width="1.0" />
<line x1="346.7" y1="391.2" x2="344.7" y2="391.2" stroke="#000" stroke-width="1.0" />
<line x1="346.7" y1="390.4" x2="344.7" y2="390.4" stroke="#000" stroke-width="1.0" />
<line x1="346.7" y1="389.7" x2="343.7" y2="389.7" stroke="#000" stroke-width="1.3" />
<text x="340" y="408.7" font-size="9.6" font-weight="bold" text-anchor="end">10<tspan font-size="6.2" dy="-3.6">−1</tspan></text>
<text x="340" y="439.5" font-size="9.6" font-weight="bold" text-anchor="end">10<tspan font-size="6.2" dy="-3.6">−3</tspan></text>
<text x="340" y="470.3" font-size="9.6" font-weight="bold" text-anchor="end">10<tspan font-size="6.2" dy="-3.6">−5</tspan></text>
<text x="340" y="501.1" font-size="9.6" font-weight="bold" text-anchor="end">10<tspan font-size="6.2" dy="-3.6">−7</tspan></text>
<text x="340" y="531.9" font-size="9.6" font-weight="bold" text-anchor="end">10<tspan font-size="6.2" dy="-3.6">−9</tspan></text>
<use href="#sg3" x="505" y="411.4"/>
<text x="514.4" y="414.2" font-size="8.3" font-weight="bold" font-style="normal" text-anchor="start" fill="#000" textLength="19.6" lengthAdjust="spacingAndGlyphs" >FDPP</text>
<text x="421.8" y="466.3" font-size="9" font-weight="bold"><tspan font-style="italic">V</tspan><tspan font-style="italic" font-size="6.5" dy="2">TFL</tspan><tspan dy="-2"> = 1.18 V</tspan></text>
<text x="410.9" y="525" font-size="8" font-weight="bold" font-style="normal" text-anchor="start" fill="#000" textLength="23.1" lengthAdjust="spacingAndGlyphs" >Ohmic</text>
<text x="499.5" y="526.4" font-size="8" font-weight="bold" font-style="normal" text-anchor="start" fill="#000" textLength="15" lengthAdjust="spacingAndGlyphs" >TFL</text>
<text x="524" y="524.4" font-size="8" font-weight="bold" font-style="normal" text-anchor="start" fill="#000" textLength="19" lengthAdjust="spacingAndGlyphs" >Child</text>
<text x="309.4" y="458.5" font-size="10.7" font-weight="bold" font-style="normal" text-anchor="middle" fill="#000" transform="rotate(-90 309.4 458.5)" textLength="54.7" lengthAdjust="spacingAndGlyphs" >Current (A)</text>
<text x="445" y="556.4" font-size="10.7" font-weight="bold" font-style="normal" text-anchor="middle" fill="#000" textLength="52" lengthAdjust="spacingAndGlyphs" >Voltage (V)</text></svg></body></html>
